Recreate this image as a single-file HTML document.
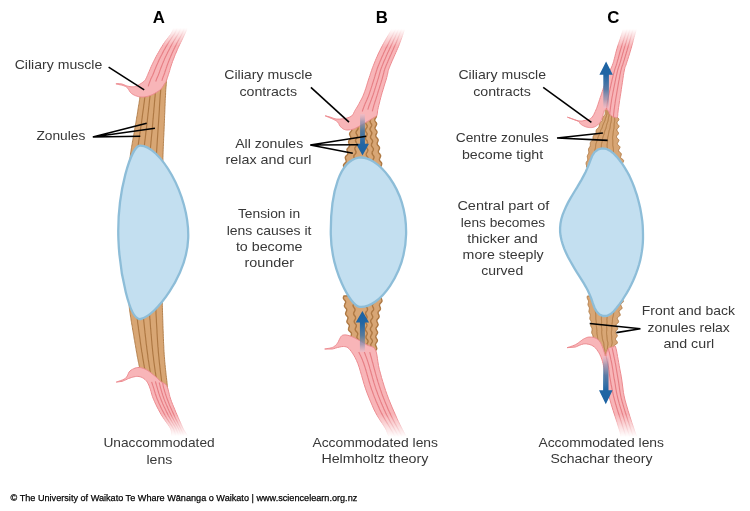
<!DOCTYPE html>
<html><head><meta charset="utf-8">
<style>
html,body{margin:0;padding:0;background:#fff;}
svg{display:block;}
.t{font-family:"Liberation Sans",sans-serif;font-size:12.4px;fill:#383838;}
.h{font-family:"Liberation Sans",sans-serif;font-size:16.8px;font-weight:bold;fill:#000;}
.f{font-family:"Liberation Sans",sans-serif;font-size:9.7px;fill:#000;stroke:#000;stroke-width:0.25px;}
.pl{stroke:#000;stroke-width:1.6;fill:none;}
</style></head><body>
<svg width="750" height="511" viewBox="0 0 750 511">
<defs>
<filter id="soft" x="-10%" y="-10%" width="120%" height="120%"><feGaussianBlur stdDeviation="0.35"/></filter>
<clipPath id="cA1"><path d="M174.0,27.0 L173.8,27.6 173.5,28.5 173.1,29.5 172.7,30.7 172.1,31.9 171.4,33.2 170.5,34.6 169.4,36.0 168.2,37.6 166.9,39.2 165.6,40.9 164.4,42.6 163.2,44.4 162.0,46.4 160.7,48.4 159.5,50.5 158.4,52.5 157.3,54.4 156.3,56.2 155.4,58.0 154.5,59.8 153.6,61.5 152.8,63.2 152.0,64.9 151.2,66.6 150.5,68.2 149.8,69.9 149.1,71.5 148.5,72.9 147.9,74.3 147.4,75.5 146.9,76.6 146.5,77.6 146.0,78.5 145.6,79.4 145.0,80.2 144.3,80.9 143.6,81.6 142.9,82.2 142.1,82.7 141.3,83.3 140.4,83.8 139.5,84.4 138.6,84.9 137.6,85.5 136.6,86.0 135.6,86.4 134.5,86.7 133.4,86.8 132.3,86.8 131.1,86.8 129.9,86.6 128.8,86.4 127.7,86.2 126.7,85.9 125.7,85.5 124.7,85.1 123.7,84.6 122.8,84.3 121.8,84.0 120.7,83.8 119.4,83.7 118.0,83.7 116.9,83.7 116.1,83.7 115.9,83.8 116.3,84.0 117.4,84.2 118.7,84.5 120.2,84.8 121.7,85.1 122.8,85.4 123.6,85.7 124.4,86.0 125.1,86.3 125.7,86.5 126.2,86.9 126.7,87.2 127.1,87.6 127.5,87.9 127.7,88.3 128.0,88.7 128.3,89.1 128.6,89.6 128.9,90.1 129.3,90.7 129.6,91.3 130.0,91.9 130.5,92.5 131.0,93.0 131.6,93.5 132.3,94.0 133.0,94.5 133.8,94.9 134.6,95.3 135.5,95.7 136.4,96.0 137.3,96.3 138.3,96.6 139.3,96.8 140.3,96.9 141.4,97.0 142.5,97.0 143.6,97.0 144.7,96.9 145.9,96.7 147.1,96.5 148.2,96.2 149.3,95.8 150.5,95.4 151.6,94.9 152.8,94.4 153.9,93.8 155.0,93.2 156.1,92.6 157.1,91.9 158.2,91.3 159.2,90.6 160.1,89.8 161.0,89.0 161.8,88.1 162.5,87.1 163.2,86.0 163.8,85.0 164.3,84.0 164.8,83.3 165.1,82.8 165.4,82.6 165.5,82.4 165.7,82.3 165.8,82.0 166.1,81.4 166.4,80.6 166.8,79.6 167.1,78.5 167.5,77.3 168.0,75.9 168.5,74.3 169.1,72.5 169.7,70.5 170.3,68.3 171.0,66.0 171.8,63.7 172.6,61.4 173.5,59.1 174.4,56.8 175.3,54.4 176.4,52.0 177.4,49.6 178.4,47.3 179.5,44.9 180.7,42.5 181.9,40.1 183.0,37.8 184.0,35.7 184.9,33.8 185.6,32.2 186.2,30.8 186.6,29.6 187.0,28.5 187.3,27.7 187.5,27.0 Z"/></clipPath>
<linearGradient id="gA1" gradientUnits="userSpaceOnUse" x1="0" y1="46" x2="0" y2="28"><stop offset="0" stop-color="#fff"/><stop offset="1" stop-color="#fff" stop-opacity="0"/></linearGradient>
<mask id="mA1" maskUnits="userSpaceOnUse" x="0" y="0" width="750" height="511"><rect x="0" y="0" width="750" height="511" fill="url(#gA1)"/></mask>
<clipPath id="cA2"><path d="M116.3,382.1 L117.4,381.7 118.9,381.2 120.7,380.6 122.5,379.9 124.2,379.1 125.6,378.2 126.6,377.1 127.3,375.9 127.9,374.6 128.5,373.2 129.1,372.0 130.0,371.0 131.1,370.1 132.3,369.4 133.7,368.7 135.1,368.1 136.5,367.7 137.8,367.5 139.1,367.5 140.4,367.6 141.8,367.9 143.1,368.3 144.4,368.8 145.7,369.4 147.0,370.1 148.3,370.9 149.6,371.8 150.9,372.8 152.2,373.9 153.5,374.9 154.8,376.0 156.2,377.2 157.5,378.5 158.9,379.7 160.1,380.9 161.3,381.9 162.4,382.6 163.4,383.1 164.3,383.5 165.2,384.0 166.0,384.7 166.8,385.9 167.5,387.6 168.1,389.6 168.7,391.8 169.3,394.3 169.9,396.7 170.7,399.2 171.6,401.7 172.6,404.3 173.7,406.9 174.8,409.6 175.9,412.3 177.0,414.8 178.1,417.3 179.2,419.8 180.3,422.2 181.3,424.6 182.3,426.8 183.3,428.9 184.4,430.9 185.7,432.9 187.0,434.8 188.0,436.5 188.4,437.9 188.0,439.0 186.5,439.7 184.0,440.1 180.9,440.3 177.8,440.1 175.0,439.7 173.0,439.0 172.0,437.9 171.6,436.5 171.5,434.8 171.5,432.9 171.3,430.9 170.7,428.9 169.5,426.8 168.0,424.6 166.3,422.2 164.6,419.8 162.9,417.3 161.3,414.8 159.9,412.3 158.5,409.7 157.1,407.0 155.8,404.4 154.6,401.7 153.5,399.2 152.5,396.7 151.7,394.1 151.0,391.5 150.3,389.1 149.5,386.9 148.8,385.0 148.0,383.5 147.3,382.2 146.6,381.2 145.8,380.3 145.0,379.5 144.1,378.8 143.2,378.1 142.2,377.6 141.1,377.1 140.1,376.8 139.0,376.5 137.8,376.4 136.6,376.4 135.3,376.6 134.0,376.8 132.6,377.2 131.3,377.6 130.0,378.0 128.6,378.5 127.2,379.1 125.8,379.8 124.4,380.4 123.3,380.9 122.5,381.3 Z"/></clipPath>
<linearGradient id="gA2" gradientUnits="userSpaceOnUse" x1="0" y1="414" x2="0" y2="436"><stop offset="0" stop-color="#fff"/><stop offset="1" stop-color="#fff" stop-opacity="0"/></linearGradient>
<mask id="mA2" maskUnits="userSpaceOnUse" x="0" y="0" width="750" height="511"><rect x="0" y="0" width="750" height="511" fill="url(#gA2)"/></mask>
<clipPath id="cB1"><path d="M392.5,28.0 L392.2,28.5 391.9,29.1 391.4,29.8 390.9,30.7 390.3,31.7 389.6,32.9 388.8,34.3 387.8,36.0 386.7,37.8 385.6,39.8 384.5,41.7 383.5,43.5 382.6,45.2 381.7,46.9 380.8,48.6 380.0,50.3 379.1,52.1 378.2,54.0 377.3,56.1 376.3,58.3 375.3,60.7 374.4,63.0 373.5,65.2 372.7,67.3 372.0,69.1 371.5,70.7 370.9,72.3 370.4,73.8 369.9,75.6 369.2,77.6 368.4,80.0 367.5,82.8 366.6,85.8 365.7,88.7 364.7,91.5 363.8,94.0 362.9,96.2 362.0,98.1 361.0,100.0 360.1,101.6 359.3,103.2 358.5,104.6 357.8,105.8 357.2,106.9 356.6,107.8 356.1,108.7 355.5,109.5 355.0,110.4 354.5,111.4 354.0,112.3 353.6,113.3 353.1,114.2 352.5,115.1 351.8,115.8 351.0,116.4 350.0,116.9 349.0,117.4 347.9,117.8 346.7,118.1 345.5,118.4 344.1,118.6 342.6,118.8 341.0,119.0 339.4,119.1 337.9,119.1 336.5,119.0 335.3,118.8 334.2,118.5 333.1,118.2 332.1,117.8 331.1,117.4 330.2,117.1 329.1,116.8 327.9,116.5 326.8,116.1 325.8,115.9 325.2,115.7 325.1,115.8 325.7,116.1 326.8,116.5 328.3,117.1 329.9,117.8 331.4,118.4 332.7,119.0 333.7,119.5 334.7,120.0 335.6,120.5 336.4,121.0 337.1,121.6 337.8,122.2 338.3,122.9 338.8,123.6 339.1,124.4 339.4,125.2 339.9,125.9 340.4,126.6 341.1,127.2 341.8,127.9 342.6,128.5 343.5,129.1 344.5,129.5 345.5,129.8 346.6,130.0 347.8,130.0 349.1,129.9 350.5,129.8 351.8,129.5 353.1,129.2 354.4,128.8 355.6,128.2 356.9,127.5 358.2,126.8 359.4,126.1 360.7,125.4 362.0,124.7 363.3,123.9 364.6,123.2 365.9,122.4 367.2,121.6 368.4,120.9 369.6,120.2 370.8,119.5 371.9,118.8 372.9,118.2 373.9,117.6 374.7,117.1 375.3,116.7 375.8,116.5 376.2,116.3 376.5,116.1 376.7,115.7 377.0,115.2 377.2,114.5 377.3,113.8 377.4,113.0 377.5,112.0 377.6,110.8 377.9,109.3 378.3,107.5 378.8,105.3 379.4,103.0 380.0,100.5 380.7,97.8 381.4,95.2 382.2,92.4 383.2,89.3 384.1,86.1 385.1,82.9 386.0,80.1 386.7,77.6 387.2,75.7 387.5,74.2 387.8,73.0 388.0,71.8 388.3,70.5 388.8,69.0 389.5,67.2 390.3,65.2 391.2,63.1 392.1,60.9 393.1,58.8 394.0,56.7 394.9,54.7 395.8,52.6 396.7,50.6 397.6,48.5 398.5,46.5 399.3,44.4 400.1,42.2 400.9,40.0 401.8,37.7 402.5,35.5 403.2,33.6 403.7,32.0 404.1,30.8 404.4,29.9 404.6,29.2 404.8,28.7 404.9,28.3 405.0,28.0 Z"/></clipPath>
<linearGradient id="gB1" gradientUnits="userSpaceOnUse" x1="0" y1="47" x2="0" y2="29"><stop offset="0" stop-color="#fff"/><stop offset="1" stop-color="#fff" stop-opacity="0"/></linearGradient>
<mask id="mB1" maskUnits="userSpaceOnUse" x="0" y="0" width="750" height="511"><rect x="0" y="0" width="750" height="511" fill="url(#gB1)"/></mask>
<clipPath id="cB2"><path d="M324.7,349.0 L325.6,348.9 326.8,348.7 328.3,348.4 329.8,348.2 331.3,347.8 332.5,347.4 333.5,346.9 334.3,346.4 335.1,345.8 335.8,345.1 336.5,344.4 337.2,343.5 337.9,342.4 338.6,341.2 339.2,339.8 339.8,338.5 340.5,337.3 341.1,336.4 341.7,335.8 342.3,335.4 342.9,335.1 343.5,335.0 344.2,334.9 345.0,334.9 345.9,334.9 346.9,335.1 347.9,335.3 349.0,335.6 350.1,336.0 351.3,336.4 352.5,336.9 353.8,337.5 355.1,338.1 356.4,338.9 357.8,339.6 359.1,340.3 360.4,341.0 361.7,341.8 363.0,342.6 364.3,343.4 365.7,344.2 367.0,345.0 368.4,345.6 369.9,346.0 371.4,346.5 372.9,347.1 374.3,348.1 375.4,349.8 376.3,352.1 376.9,355.0 377.4,358.3 377.9,361.8 378.5,365.5 379.3,369.3 380.4,373.2 381.5,377.4 382.8,381.7 384.2,386.2 385.6,390.5 387.1,394.7 388.6,398.8 390.3,403.0 392.0,407.1 393.7,411.0 395.4,414.8 396.9,418.2 398.4,421.4 399.8,424.3 401.2,427.1 402.5,429.6 403.7,431.8 404.7,433.8 405.7,435.4 406.8,436.8 407.8,437.9 408.5,438.7 408.6,439.4 408.0,440.0 406.3,440.5 403.8,440.9 400.6,441.1 397.4,441.1 394.4,440.8 392.0,440.0 390.4,438.7 389.2,437.0 388.2,435.0 387.3,432.7 386.4,430.4 385.2,428.0 383.7,425.7 382.2,423.3 380.5,420.9 378.8,418.2 377.1,415.4 375.4,412.3 373.7,408.9 372.1,405.1 370.4,401.2 368.7,397.1 367.1,393.0 365.6,388.9 364.2,384.6 362.9,380.1 361.6,375.6 360.3,371.2 359.1,367.1 357.8,363.5 356.5,360.4 355.2,357.7 353.8,355.3 352.5,353.2 351.2,351.3 350.0,349.8 348.9,348.6 347.9,347.7 346.9,347.1 346.0,346.8 344.8,346.6 343.5,346.5 341.8,346.6 339.8,347.0 337.6,347.5 335.5,348.1 333.7,348.7 332.5,349.0 Z"/></clipPath>
<linearGradient id="gB2" gradientUnits="userSpaceOnUse" x1="0" y1="414" x2="0" y2="437"><stop offset="0" stop-color="#fff"/><stop offset="1" stop-color="#fff" stop-opacity="0"/></linearGradient>
<mask id="mB2" maskUnits="userSpaceOnUse" x="0" y="0" width="750" height="511"><rect x="0" y="0" width="750" height="511" fill="url(#gB2)"/></mask>
<linearGradient id="arB1" gradientUnits="userSpaceOnUse" x1="0" y1="155.5" x2="0" y2="114"><stop offset="0" stop-color="#1B62A3"/><stop offset="0.3" stop-color="#2266A4"/><stop offset="0.6" stop-color="#3F72A3" stop-opacity="0.85"/><stop offset="0.82" stop-color="#7A8AAE" stop-opacity="0.6"/><stop offset="1" stop-color="#E6C3D3" stop-opacity="0.4"/></linearGradient>
<linearGradient id="arB2" gradientUnits="userSpaceOnUse" x1="0" y1="310.9" x2="0" y2="352"><stop offset="0" stop-color="#1B62A3"/><stop offset="0.3" stop-color="#2266A4"/><stop offset="0.6" stop-color="#3F72A3" stop-opacity="0.85"/><stop offset="0.82" stop-color="#7A8AAE" stop-opacity="0.6"/><stop offset="1" stop-color="#E6C3D3" stop-opacity="0.4"/></linearGradient>
<clipPath id="cC1"><path d="M624.0,27.0 L623.8,27.7 623.5,28.7 623.1,29.8 622.7,31.2 622.2,32.7 621.7,34.4 621.0,36.3 620.3,38.6 619.5,41.0 618.6,43.5 617.8,46.0 617.0,48.5 616.3,51.0 615.6,53.6 615.0,56.2 614.3,58.8 613.7,61.3 612.9,63.7 612.1,65.9 611.2,68.0 610.2,70.0 609.3,71.9 608.4,73.9 607.5,76.0 606.7,78.2 605.9,80.5 605.1,82.8 604.4,85.2 603.6,87.4 602.9,89.6 602.2,91.7 601.5,93.8 600.9,95.8 600.2,97.7 599.6,99.5 599.0,101.3 598.5,102.9 598.0,104.4 597.5,105.9 597.0,107.3 596.5,108.6 595.9,110.0 595.3,111.4 594.6,112.9 593.9,114.4 593.1,115.8 592.3,117.0 591.4,118.0 590.4,118.7 589.4,119.3 588.3,119.7 587.2,120.0 586.1,120.2 585.0,120.4 584.0,120.6 583.0,120.8 582.1,121.0 581.1,121.0 579.9,121.0 578.6,120.8 576.8,120.4 574.6,119.7 572.3,118.9 570.1,118.1 568.4,117.5 567.4,117.2 567.4,117.2 568.0,117.4 569.2,117.8 570.5,118.3 571.9,118.8 573.0,119.2 574.0,119.6 575.0,120.0 576.0,120.3 577.0,120.8 577.9,121.2 578.6,121.6 579.2,122.0 579.5,122.5 579.9,123.0 580.1,123.5 580.5,124.0 581.0,124.4 581.7,124.8 582.4,125.3 583.2,125.7 584.1,126.1 584.9,126.5 585.8,126.8 586.7,127.1 587.6,127.3 588.6,127.5 589.6,127.6 590.5,127.6 591.4,127.6 592.3,127.5 593.1,127.3 593.9,127.1 594.7,126.8 595.5,126.4 596.2,126.0 596.9,125.5 597.7,124.9 598.4,124.2 599.0,123.5 599.6,122.8 600.2,122.0 600.7,121.2 601.1,120.3 601.6,119.3 601.9,118.3 602.3,117.4 602.6,116.4 602.9,115.4 603.2,114.4 603.4,113.4 603.7,112.4 603.9,111.5 604.2,110.8 604.5,110.3 604.8,109.9 605.2,109.6 605.5,109.3 605.9,109.2 606.2,109.2 606.5,109.3 606.9,109.4 607.2,109.7 607.6,110.0 607.9,110.4 608.2,110.8 608.5,111.2 608.7,111.8 609.0,112.3 609.2,112.9 609.5,113.5 609.8,114.0 610.2,114.5 610.5,114.9 610.9,115.4 611.4,115.7 611.8,116.1 612.2,116.4 612.6,116.6 613.0,116.8 613.4,117.0 613.8,117.1 614.2,117.1 614.6,117.2 615.1,117.3 615.6,117.5 616.1,117.7 616.6,117.8 617.0,117.6 617.4,117.2 617.6,116.6 617.7,115.8 617.8,114.9 617.8,113.6 618.0,112.0 618.2,110.0 618.6,107.4 619.1,104.1 619.6,100.6 620.2,96.8 620.8,93.1 621.3,89.6 621.8,86.1 622.4,82.5 622.9,78.9 623.4,75.5 623.9,72.5 624.4,70.0 624.8,68.3 625.0,67.2 625.3,66.6 625.6,66.0 625.9,65.1 626.4,63.7 627.0,61.7 627.8,59.3 628.6,56.7 629.5,53.9 630.3,51.1 631.1,48.5 631.8,45.9 632.6,43.1 633.3,40.3 634.0,37.6 634.7,35.2 635.2,33.2 635.7,31.6 636.0,30.2 636.4,29.1 636.6,28.3 636.8,27.6 637.0,27.0 Z"/></clipPath>
<linearGradient id="gC1" gradientUnits="userSpaceOnUse" x1="0" y1="47" x2="0" y2="29"><stop offset="0" stop-color="#fff"/><stop offset="1" stop-color="#fff" stop-opacity="0"/></linearGradient>
<mask id="mC1" maskUnits="userSpaceOnUse" x="0" y="0" width="750" height="511"><rect x="0" y="0" width="750" height="511" fill="url(#gC1)"/></mask>
<clipPath id="cC2"><path d="M567.0,347.7 L567.9,347.4 569.3,347.0 570.8,346.5 572.5,345.9 574.1,345.3 575.6,344.6 577.0,343.8 578.4,342.8 579.7,341.8 581.1,340.8 582.3,339.8 583.5,339.1 584.5,338.5 585.5,338.1 586.3,337.7 587.1,337.4 588.0,337.2 589.0,337.1 590.1,337.1 591.3,337.1 592.6,337.3 593.8,337.5 594.9,337.9 596.0,338.3 596.9,338.8 597.8,339.4 598.5,340.1 599.3,340.9 600.0,341.9 600.7,343.0 601.4,344.5 602.2,346.3 602.9,348.2 603.6,350.2 604.1,351.9 604.6,353.2 604.9,354.2 605.0,354.9 605.0,355.5 605.1,355.8 605.2,355.8 605.4,355.6 605.8,354.9 606.2,353.7 606.7,352.3 607.3,350.8 607.9,349.5 608.5,348.5 609.2,347.9 610.0,347.5 610.9,347.3 611.7,347.2 612.5,347.1 613.2,347.0 613.7,346.7 614.1,346.3 614.5,345.9 614.8,345.8 615.2,346.1 615.6,347.0 616.1,348.7 616.6,351.0 617.1,353.7 617.6,356.7 618.2,359.7 618.7,362.6 619.2,365.4 619.7,368.2 620.2,371.0 620.8,373.9 621.3,376.9 621.8,380.0 622.2,383.0 622.6,386.0 623.0,389.1 623.4,392.3 624.1,395.9 625.0,400.0 626.4,404.9 628.1,410.7 630.0,416.8 631.9,422.7 633.7,427.9 635.0,432.0 636.1,434.8 637.2,436.7 638.1,438.0 638.7,438.8 638.7,439.4 638.0,440.0 636.3,440.6 633.6,440.9 630.3,441.0 627.0,440.9 624.1,440.6 622.0,440.0 620.9,439.4 620.6,438.8 620.6,438.0 620.7,436.7 620.6,434.8 620.0,432.0 618.7,427.9 617.1,422.7 615.2,416.8 613.2,410.7 611.4,404.9 610.0,400.0 608.9,395.9 608.0,392.2 607.2,388.8 606.5,385.7 605.9,382.8 605.4,380.0 605.0,377.4 604.7,375.2 604.5,373.1 604.3,371.1 604.1,369.2 603.8,367.3 603.4,365.3 603.0,363.4 602.5,361.6 602.0,359.8 601.4,358.0 600.7,356.3 599.9,354.6 599.0,352.8 597.9,351.2 596.8,349.6 595.7,348.2 594.4,347.0 593.0,346.0 591.5,345.2 589.9,344.6 588.2,344.2 586.6,343.9 585.0,343.8 583.3,344.0 581.5,344.5 579.7,345.2 578.0,345.9 576.6,346.6 575.6,347.0 Z"/></clipPath>
<linearGradient id="gC2" gradientUnits="userSpaceOnUse" x1="0" y1="414" x2="0" y2="437"><stop offset="0" stop-color="#fff"/><stop offset="1" stop-color="#fff" stop-opacity="0"/></linearGradient>
<mask id="mC2" maskUnits="userSpaceOnUse" x="0" y="0" width="750" height="511"><rect x="0" y="0" width="750" height="511" fill="url(#gC2)"/></mask>
<linearGradient id="arC1" gradientUnits="userSpaceOnUse" x1="0" y1="61.5" x2="0" y2="108"><stop offset="0" stop-color="#1B62A3"/><stop offset="0.3" stop-color="#2266A4"/><stop offset="0.6" stop-color="#3F72A3" stop-opacity="0.85"/><stop offset="0.82" stop-color="#7A8AAE" stop-opacity="0.6"/><stop offset="1" stop-color="#E6C3D3" stop-opacity="0.4"/></linearGradient>
<linearGradient id="arC2" gradientUnits="userSpaceOnUse" x1="0" y1="404.2" x2="0" y2="356"><stop offset="0" stop-color="#1B62A3"/><stop offset="0.3" stop-color="#2266A4"/><stop offset="0.6" stop-color="#3F72A3" stop-opacity="0.85"/><stop offset="0.82" stop-color="#7A8AAE" stop-opacity="0.6"/><stop offset="1" stop-color="#E6C3D3" stop-opacity="0.4"/></linearGradient>

</defs>
<path d="M141.0,86.0 L140.9,87.3 140.8,88.7 140.7,90.0 140.5,91.4 140.4,92.7 140.3,94.1 140.1,95.4 139.9,96.8 139.8,98.1 139.6,99.5 139.4,100.8 139.2,102.1 139.0,103.5 138.8,104.8 138.5,106.2 138.3,107.5 138.1,108.8 137.9,110.2 137.7,111.5 137.5,112.8 137.3,114.2 137.1,115.5 136.8,116.8 136.6,118.2 136.4,119.5 136.2,120.9 136.0,122.2 135.7,123.5 135.5,124.9 135.3,126.2 135.0,127.5 134.8,128.9 134.6,130.2 134.3,131.5 134.1,132.9 133.9,134.2 133.6,135.5 133.4,136.9 133.1,138.2 132.9,139.5 132.7,140.9 132.4,142.2 132.2,143.5 132.0,144.9 131.7,146.2 131.5,147.5 131.3,148.9 131.1,150.2 130.9,151.5 130.7,152.9 130.5,154.2 130.3,155.6 130.2,156.9 130.0,158.3 129.9,159.6 129.8,161.0 129.7,162.3 129.6,163.7 129.5,165.0 162.8,165.0 162.8,163.5 162.8,161.9 162.9,160.4 162.9,158.8 162.9,157.3 163.0,155.7 163.0,154.2 163.1,152.6 163.1,151.1 163.2,149.6 163.2,148.0 163.3,146.5 163.4,144.9 163.4,143.4 163.5,141.8 163.6,140.3 163.6,138.8 163.7,137.2 163.8,135.7 163.9,134.1 163.9,132.6 164.0,131.1 164.1,129.5 164.1,128.0 164.2,126.4 164.3,124.9 164.3,123.3 164.4,121.8 164.5,120.3 164.5,118.7 164.6,117.2 164.6,115.6 164.7,114.1 164.8,112.5 164.8,111.0 164.9,109.4 164.9,107.9 165.0,106.4 165.1,104.8 165.1,103.3 165.2,101.7 165.2,100.2 165.3,98.6 165.4,97.1 165.5,95.6 165.6,94.0 165.6,92.5 165.7,90.9 165.8,89.4 165.9,87.9 166.1,86.3 166.2,84.8 166.3,83.2 166.4,81.7 166.5,80.2 166.6,78.6 166.8,77.1 166.9,75.5 167.0,74.0 Z" fill="#D8A674"/>
<path d="M146.2,83.6 L146.1,85.0 146.0,86.4 145.9,87.8 145.7,89.1 145.6,90.5 145.5,91.9 145.3,93.3 145.2,94.7 145.0,96.1 144.8,97.4 144.6,98.8 144.5,100.2 144.3,101.6 144.1,103.0 143.9,104.3 143.7,105.7 143.6,107.1 143.4,108.5 143.2,109.9 143.0,111.2 142.8,112.6 142.6,114.0 142.4,115.4 142.3,116.7 142.1,118.1 141.9,119.5 141.7,120.9 141.5,122.3 141.3,123.6 141.1,125.0 140.9,126.4 140.7,127.8 140.5,129.1 140.3,130.5 140.1,131.9 139.9,133.3 139.7,134.6 139.5,136.0 139.3,137.4 139.1,138.8 138.9,140.1 138.7,141.5 138.5,142.9 138.3,144.3 138.1,145.6 137.9,147.0 137.7,148.4 137.5,149.8 137.3,151.1 137.2,152.5 137.0,153.9 136.9,155.3 136.7,156.7 136.6,158.1 136.5,159.4 136.4,160.8 136.3,162.2 136.3,163.6 136.2,165.0" fill="none" stroke="#AE7843" stroke-width="1.15"/>
<path d="M151.4,81.2 L151.3,82.6 151.2,84.1 151.1,85.5 150.9,86.9 150.8,88.3 150.7,89.7 150.5,91.2 150.4,92.6 150.2,94.0 150.1,95.4 149.9,96.9 149.8,98.3 149.6,99.7 149.4,101.1 149.3,102.5 149.1,104.0 149.0,105.4 148.8,106.8 148.7,108.2 148.5,109.6 148.4,111.0 148.2,112.5 148.0,113.9 147.9,115.3 147.7,116.7 147.6,118.1 147.4,119.6 147.3,121.0 147.1,122.4 147.0,123.8 146.8,125.2 146.6,126.7 146.5,128.1 146.3,129.5 146.1,130.9 145.9,132.3 145.8,133.7 145.6,135.2 145.4,136.6 145.3,138.0 145.1,139.4 144.9,140.8 144.7,142.2 144.6,143.7 144.4,145.1 144.2,146.5 144.1,147.9 143.9,149.3 143.8,150.7 143.6,152.2 143.5,153.6 143.4,155.0 143.3,156.4 143.2,157.9 143.1,159.3 143.0,160.7 143.0,162.1 142.9,163.6 142.8,165.0" fill="none" stroke="#AE7843" stroke-width="1.15"/>
<path d="M156.6,78.8 L156.5,80.3 156.4,81.7 156.2,83.2 156.1,84.7 156.0,86.1 155.9,87.6 155.7,89.0 155.6,90.5 155.5,92.0 155.3,93.4 155.2,94.9 155.1,96.3 154.9,97.8 154.8,99.3 154.7,100.7 154.5,102.2 154.4,103.6 154.3,105.1 154.2,106.6 154.0,108.0 153.9,109.5 153.8,110.9 153.7,112.4 153.5,113.9 153.4,115.3 153.3,116.8 153.2,118.2 153.0,119.7 152.9,121.2 152.8,122.6 152.7,124.1 152.5,125.5 152.4,127.0 152.3,128.5 152.1,129.9 152.0,131.4 151.9,132.8 151.7,134.3 151.6,135.8 151.4,137.2 151.3,138.7 151.2,140.1 151.0,141.6 150.9,143.1 150.8,144.5 150.6,146.0 150.5,147.4 150.4,148.9 150.2,150.4 150.1,151.8 150.0,153.3 149.9,154.7 149.9,156.2 149.8,157.7 149.7,159.1 149.6,160.6 149.6,162.1 149.5,163.5 149.5,165.0" fill="none" stroke="#AE7843" stroke-width="1.15"/>
<path d="M161.8,76.4 L161.7,77.9 161.6,79.4 161.4,80.9 161.3,82.4 161.2,83.9 161.1,85.4 161.0,86.9 160.8,88.4 160.7,89.9 160.6,91.4 160.5,92.9 160.3,94.4 160.2,95.9 160.1,97.4 160.0,98.9 159.9,100.4 159.8,101.9 159.7,103.4 159.6,104.9 159.5,106.4 159.4,107.9 159.4,109.4 159.3,110.9 159.2,112.4 159.1,113.9 159.0,115.4 158.9,116.9 158.8,118.4 158.7,119.9 158.6,121.4 158.5,122.9 158.4,124.4 158.3,125.9 158.2,127.4 158.1,128.9 158.0,130.4 157.9,131.9 157.8,133.4 157.7,134.9 157.6,136.4 157.5,137.9 157.4,139.4 157.3,140.9 157.2,142.5 157.1,144.0 157.0,145.5 156.9,147.0 156.8,148.5 156.7,150.0 156.6,151.5 156.5,153.0 156.5,154.5 156.4,156.0 156.3,157.5 156.3,159.0 156.3,160.5 156.2,162.0 156.2,163.5 156.1,165.0" fill="none" stroke="#AE7843" stroke-width="1.15"/>
<path d="M141.0,86.0 L140.9,87.3 140.8,88.7 140.7,90.0 140.5,91.4 140.4,92.7 140.3,94.1 140.1,95.4 139.9,96.8 139.8,98.1 139.6,99.5 139.4,100.8 139.2,102.1 139.0,103.5 138.8,104.8 138.5,106.2 138.3,107.5 138.1,108.8 137.9,110.2 137.7,111.5 137.5,112.8 137.3,114.2 137.1,115.5 136.8,116.8 136.6,118.2 136.4,119.5 136.2,120.9 136.0,122.2 135.7,123.5 135.5,124.9 135.3,126.2 135.0,127.5 134.8,128.9 134.6,130.2 134.3,131.5 134.1,132.9 133.9,134.2 133.6,135.5 133.4,136.9 133.1,138.2 132.9,139.5 132.7,140.9 132.4,142.2 132.2,143.5 132.0,144.9 131.7,146.2 131.5,147.5 131.3,148.9 131.1,150.2 130.9,151.5 130.7,152.9 130.5,154.2 130.3,155.6 130.2,156.9 130.0,158.3 129.9,159.6 129.8,161.0 129.7,162.3 129.6,163.7 129.5,165.0" fill="none" stroke="#AE7843" stroke-width="0.9"/>
<path d="M167.0,74.0 L166.9,75.5 166.8,77.1 166.6,78.6 166.5,80.2 166.4,81.7 166.3,83.2 166.2,84.8 166.1,86.3 165.9,87.9 165.8,89.4 165.7,90.9 165.6,92.5 165.6,94.0 165.5,95.6 165.4,97.1 165.3,98.6 165.2,100.2 165.2,101.7 165.1,103.3 165.1,104.8 165.0,106.4 164.9,107.9 164.9,109.4 164.8,111.0 164.8,112.5 164.7,114.1 164.6,115.6 164.6,117.2 164.5,118.7 164.5,120.3 164.4,121.8 164.3,123.3 164.3,124.9 164.2,126.4 164.1,128.0 164.1,129.5 164.0,131.1 163.9,132.6 163.9,134.1 163.8,135.7 163.7,137.2 163.6,138.8 163.6,140.3 163.5,141.8 163.4,143.4 163.4,144.9 163.3,146.5 163.2,148.0 163.2,149.6 163.1,151.1 163.1,152.6 163.0,154.2 163.0,155.7 162.9,157.3 162.9,158.8 162.9,160.4 162.8,161.9 162.8,163.5 162.8,165.0" fill="none" stroke="#AE7843" stroke-width="0.9"/>
<path d="M129.5,298.0 L129.4,299.3 129.3,300.6 129.2,301.9 129.1,303.2 129.1,304.5 129.2,305.8 129.3,307.1 129.4,308.4 129.6,309.7 129.8,311.0 129.9,312.3 130.1,313.6 130.3,314.9 130.5,316.1 130.7,317.4 130.9,318.7 131.1,320.0 131.3,321.3 131.5,322.6 131.7,323.9 132.0,325.2 132.2,326.4 132.4,327.7 132.6,329.0 132.8,330.3 133.0,331.6 133.3,332.9 133.5,334.2 133.7,335.4 133.9,336.7 134.1,338.0 134.3,339.3 134.6,340.6 134.8,341.9 135.0,343.1 135.2,344.4 135.5,345.7 135.7,347.0 135.9,348.3 136.1,349.6 136.3,350.9 136.6,352.1 136.8,353.4 137.0,354.7 137.2,356.0 137.5,357.3 137.7,358.6 138.0,359.8 138.2,361.1 138.5,362.4 138.8,363.7 139.0,364.9 139.3,366.2 139.5,367.5 139.6,368.8 139.8,370.1 139.9,371.4 139.9,372.7 140.0,374.0 167.8,392.0 167.7,390.4 167.6,388.7 167.4,387.1 167.3,385.5 167.1,383.9 167.0,382.3 166.8,380.6 166.6,379.0 166.4,377.4 166.2,375.8 166.0,374.1 165.9,372.5 165.7,370.9 165.5,369.3 165.3,367.7 165.2,366.0 165.0,364.4 164.9,362.8 164.7,361.2 164.6,359.5 164.5,357.9 164.3,356.3 164.2,354.7 164.1,353.0 164.0,351.4 163.9,349.8 163.8,348.2 163.8,346.5 163.7,344.9 163.6,343.3 163.5,341.6 163.5,340.0 163.4,338.4 163.3,336.7 163.3,335.1 163.2,333.5 163.2,331.9 163.1,330.2 163.0,328.6 163.0,327.0 162.9,325.3 162.9,323.7 162.8,322.1 162.8,320.4 162.7,318.8 162.7,317.2 162.6,315.6 162.6,313.9 162.5,312.3 162.5,310.7 162.4,309.0 162.4,307.4 162.3,305.8 162.3,304.1 162.2,302.5 162.2,300.9 162.2,299.3 162.2,297.6 162.3,296.0 Z" fill="#D8A674"/>
<path d="M136.1,297.6 L136.0,299.0 135.8,300.3 135.8,301.7 135.7,303.1 135.8,304.4 135.8,305.8 135.9,307.2 136.0,308.5 136.2,309.9 136.3,311.2 136.5,312.6 136.6,314.0 136.8,315.3 137.0,316.7 137.1,318.0 137.3,319.4 137.5,320.7 137.6,322.1 137.8,323.5 138.0,324.8 138.2,326.2 138.4,327.5 138.5,328.9 138.7,330.2 138.9,331.6 139.1,332.9 139.3,334.3 139.5,335.7 139.7,337.0 139.9,338.4 140.1,339.7 140.2,341.1 140.4,342.4 140.6,343.8 140.8,345.1 141.0,346.5 141.2,347.8 141.4,349.2 141.6,350.5 141.8,351.9 142.1,353.2 142.3,354.6 142.5,355.9 142.7,357.3 142.9,358.6 143.1,360.0 143.4,361.3 143.6,362.7 143.8,364.0 144.1,365.4 144.3,366.7 144.6,368.1 144.8,369.4 145.0,370.8 145.2,372.1 145.3,373.5 145.4,374.9 145.5,376.2 145.6,377.6" fill="none" stroke="#AE7843" stroke-width="1.15"/>
<path d="M142.6,297.2 L142.5,298.6 142.4,300.1 142.4,301.5 142.4,302.9 142.4,304.4 142.5,305.8 142.5,307.2 142.6,308.7 142.7,310.1 142.9,311.5 143.0,312.9 143.1,314.4 143.3,315.8 143.4,317.2 143.5,318.6 143.7,320.1 143.8,321.5 144.0,322.9 144.1,324.3 144.3,325.8 144.4,327.2 144.6,328.6 144.7,330.0 144.9,331.5 145.0,332.9 145.2,334.3 145.3,335.7 145.5,337.1 145.7,338.6 145.8,340.0 146.0,341.4 146.1,342.8 146.3,344.3 146.5,345.7 146.7,347.1 146.8,348.5 147.0,349.9 147.2,351.4 147.4,352.8 147.6,354.2 147.8,355.6 147.9,357.1 148.1,358.5 148.3,359.9 148.6,361.3 148.8,362.7 149.0,364.1 149.2,365.6 149.4,367.0 149.7,368.4 149.9,369.8 150.1,371.2 150.3,372.6 150.5,374.1 150.7,375.5 150.8,376.9 151.0,378.3 151.0,379.8 151.1,381.2" fill="none" stroke="#AE7843" stroke-width="1.15"/>
<path d="M149.2,296.8 L149.1,298.3 149.0,299.8 149.0,301.3 149.0,302.8 149.0,304.3 149.1,305.8 149.1,307.3 149.2,308.8 149.3,310.3 149.4,311.8 149.5,313.3 149.6,314.8 149.7,316.3 149.8,317.7 149.9,319.2 150.1,320.7 150.2,322.2 150.3,323.7 150.4,325.2 150.5,326.7 150.6,328.2 150.8,329.7 150.9,331.2 151.0,332.7 151.1,334.2 151.3,335.7 151.4,337.2 151.5,338.6 151.6,340.1 151.8,341.6 151.9,343.1 152.0,344.6 152.2,346.1 152.3,347.6 152.5,349.1 152.6,350.6 152.8,352.1 152.9,353.6 153.1,355.0 153.3,356.5 153.5,358.0 153.6,359.5 153.8,361.0 154.0,362.5 154.2,364.0 154.4,365.5 154.6,366.9 154.8,368.4 155.0,369.9 155.2,371.4 155.5,372.9 155.7,374.4 155.9,375.8 156.1,377.3 156.2,378.8 156.4,380.3 156.5,381.8 156.6,383.3 156.7,384.8" fill="none" stroke="#AE7843" stroke-width="1.15"/>
<path d="M155.7,296.4 L155.6,298.0 155.6,299.5 155.6,301.1 155.6,302.7 155.6,304.2 155.7,305.8 155.8,307.3 155.8,308.9 155.9,310.5 156.0,312.0 156.0,313.6 156.1,315.2 156.2,316.7 156.3,318.3 156.4,319.8 156.4,321.4 156.5,323.0 156.6,324.5 156.7,326.1 156.8,327.7 156.9,329.2 157.0,330.8 157.0,332.3 157.1,333.9 157.2,335.5 157.3,337.0 157.4,338.6 157.5,340.1 157.6,341.7 157.7,343.3 157.8,344.8 157.9,346.4 158.1,347.9 158.2,349.5 158.3,351.1 158.4,352.6 158.6,354.2 158.7,355.7 158.9,357.3 159.0,358.8 159.2,360.4 159.3,362.0 159.5,363.5 159.7,365.1 159.9,366.6 160.0,368.2 160.2,369.7 160.4,371.3 160.6,372.8 160.8,374.4 161.0,375.9 161.2,377.5 161.4,379.0 161.6,380.6 161.8,382.2 161.9,383.7 162.0,385.3 162.1,386.8 162.2,388.4" fill="none" stroke="#AE7843" stroke-width="1.15"/>
<path d="M129.5,298.0 L129.4,299.3 129.3,300.6 129.2,301.9 129.1,303.2 129.1,304.5 129.2,305.8 129.3,307.1 129.4,308.4 129.6,309.7 129.8,311.0 129.9,312.3 130.1,313.6 130.3,314.9 130.5,316.1 130.7,317.4 130.9,318.7 131.1,320.0 131.3,321.3 131.5,322.6 131.7,323.9 132.0,325.2 132.2,326.4 132.4,327.7 132.6,329.0 132.8,330.3 133.0,331.6 133.3,332.9 133.5,334.2 133.7,335.4 133.9,336.7 134.1,338.0 134.3,339.3 134.6,340.6 134.8,341.9 135.0,343.1 135.2,344.4 135.5,345.7 135.7,347.0 135.9,348.3 136.1,349.6 136.3,350.9 136.6,352.1 136.8,353.4 137.0,354.7 137.2,356.0 137.5,357.3 137.7,358.6 138.0,359.8 138.2,361.1 138.5,362.4 138.8,363.7 139.0,364.9 139.3,366.2 139.5,367.5 139.6,368.8 139.8,370.1 139.9,371.4 139.9,372.7 140.0,374.0" fill="none" stroke="#AE7843" stroke-width="0.9"/>
<path d="M162.3,296.0 L162.2,297.6 162.2,299.3 162.2,300.9 162.2,302.5 162.3,304.1 162.3,305.8 162.4,307.4 162.4,309.0 162.5,310.7 162.5,312.3 162.6,313.9 162.6,315.6 162.7,317.2 162.7,318.8 162.8,320.4 162.8,322.1 162.9,323.7 162.9,325.3 163.0,327.0 163.0,328.6 163.1,330.2 163.2,331.9 163.2,333.5 163.3,335.1 163.3,336.7 163.4,338.4 163.5,340.0 163.5,341.6 163.6,343.3 163.7,344.9 163.8,346.5 163.8,348.2 163.9,349.8 164.0,351.4 164.1,353.0 164.2,354.7 164.3,356.3 164.5,357.9 164.6,359.5 164.7,361.2 164.9,362.8 165.0,364.4 165.2,366.0 165.3,367.7 165.5,369.3 165.7,370.9 165.9,372.5 166.0,374.1 166.2,375.8 166.4,377.4 166.6,379.0 166.8,380.6 167.0,382.3 167.1,383.9 167.3,385.5 167.4,387.1 167.6,388.7 167.7,390.4 167.8,392.0" fill="none" stroke="#AE7843" stroke-width="0.9"/>
<path d="M139.9,145.6 C158.9,144.7 189.7,194.2 188.2,238.2 C186.9,275.8 155.3,316.3 140.7,319.0 C129.5,321.1 119.7,272.9 118.4,239.3 C116.7,191.4 131.3,146.0 139.9,145.6 Z" fill="#C3DFF0" stroke="#8DBDD8" stroke-width="2.3"/>
<g mask="url(#mA1)">
<path d="M174.0,27.0 L173.8,27.6 173.5,28.5 173.1,29.5 172.7,30.7 172.1,31.9 171.4,33.2 170.5,34.6 169.4,36.0 168.2,37.6 166.9,39.2 165.6,40.9 164.4,42.6 163.2,44.4 162.0,46.4 160.7,48.4 159.5,50.5 158.4,52.5 157.3,54.4 156.3,56.2 155.4,58.0 154.5,59.8 153.6,61.5 152.8,63.2 152.0,64.9 151.2,66.6 150.5,68.2 149.8,69.9 149.1,71.5 148.5,72.9 147.9,74.3 147.4,75.5 146.9,76.6 146.5,77.6 146.0,78.5 145.6,79.4 145.0,80.2 144.3,80.9 143.6,81.6 142.9,82.2 142.1,82.7 141.3,83.3 140.4,83.8 139.5,84.4 138.6,84.9 137.6,85.5 136.6,86.0 135.6,86.4 134.5,86.7 133.4,86.8 132.3,86.8 131.1,86.8 129.9,86.6 128.8,86.4 127.7,86.2 126.7,85.9 125.7,85.5 124.7,85.1 123.7,84.6 122.8,84.3 121.8,84.0 120.7,83.8 119.4,83.7 118.0,83.7 116.9,83.7 116.1,83.7 115.9,83.8 116.3,84.0 117.4,84.2 118.7,84.5 120.2,84.8 121.7,85.1 122.8,85.4 123.6,85.7 124.4,86.0 125.1,86.3 125.7,86.5 126.2,86.9 126.7,87.2 127.1,87.6 127.5,87.9 127.7,88.3 128.0,88.7 128.3,89.1 128.6,89.6 128.9,90.1 129.3,90.7 129.6,91.3 130.0,91.9 130.5,92.5 131.0,93.0 131.6,93.5 132.3,94.0 133.0,94.5 133.8,94.9 134.6,95.3 135.5,95.7 136.4,96.0 137.3,96.3 138.3,96.6 139.3,96.8 140.3,96.9 141.4,97.0 142.5,97.0 143.6,97.0 144.7,96.9 145.9,96.7 147.1,96.5 148.2,96.2 149.3,95.8 150.5,95.4 151.6,94.9 152.8,94.4 153.9,93.8 155.0,93.2 156.1,92.6 157.1,91.9 158.2,91.3 159.2,90.6 160.1,89.8 161.0,89.0 161.8,88.1 162.5,87.1 163.2,86.0 163.8,85.0 164.3,84.0 164.8,83.3 165.1,82.8 165.4,82.6 165.5,82.4 165.7,82.3 165.8,82.0 166.1,81.4 166.4,80.6 166.8,79.6 167.1,78.5 167.5,77.3 168.0,75.9 168.5,74.3 169.1,72.5 169.7,70.5 170.3,68.3 171.0,66.0 171.8,63.7 172.6,61.4 173.5,59.1 174.4,56.8 175.3,54.4 176.4,52.0 177.4,49.6 178.4,47.3 179.5,44.9 180.7,42.5 181.9,40.1 183.0,37.8 184.0,35.7 184.9,33.8 185.6,32.2 186.2,30.8 186.6,29.6 187.0,28.5 187.3,27.7 187.5,27.0 Z" fill="#F8B5B8"/>
<g clip-path="url(#cA1)" fill="none" stroke="#E77F85" stroke-width="1.15">
<path d="M177.4,27.0 L177.1,27.8 176.8,28.6 176.5,29.4 176.2,30.3 175.9,31.1 175.5,31.8 175.2,32.6 174.7,33.4 174.3,34.1 173.8,34.8 173.3,35.5 172.8,36.2 172.3,36.9 171.8,37.6 171.3,38.3 170.9,39.0 170.4,39.8 169.9,40.5 169.4,41.2 168.9,41.9 168.5,42.6 168.0,43.4 167.6,44.1 167.1,44.8 166.7,45.6 166.2,46.3 165.8,47.1 165.4,47.8 165.0,48.6 164.5,49.3 164.1,50.1 163.7,50.8 163.3,51.6 162.9,52.4 162.5,53.1 162.1,53.9 161.7,54.7 161.3,55.4 160.9,56.2 160.5,57.0 160.1,57.7 159.8,58.5 159.4,59.3 159.0,60.1 158.7,60.9 158.3,61.6 158.0,62.4 157.6,63.2 157.3,64.0 156.9,64.8 156.6,65.6 156.2,66.4 155.9,67.2 155.6,68.0 155.3,68.8 154.9,69.6 154.6,70.4 154.3,71.2 154.0,72.0 153.7,72.8 153.4,73.6 153.0,74.4 152.7,75.2 152.3,76.0 151.9,76.7 151.6,77.5 151.2,78.3 150.8,79.1 150.5,79.9 150.2,80.7 149.9,81.5 149.6,82.3 149.3,83.1 149.0,83.9 148.7,84.7 148.5,85.5 148.2,86.4"/>
<path d="M181.0,27.0 L180.7,27.8 180.5,28.6 180.2,29.4 179.9,30.2 179.6,31.0 179.2,31.8 178.9,32.5 178.5,33.3 178.1,34.0 177.7,34.8 177.2,35.5 176.8,36.2 176.3,36.9 175.9,37.7 175.4,38.4 175.0,39.1 174.5,39.8 174.1,40.5 173.6,41.2 173.2,42.0 172.8,42.7 172.4,43.4 171.9,44.2 171.5,44.9 171.1,45.7 170.7,46.4 170.3,47.2 169.9,47.9 169.6,48.7 169.2,49.4 168.8,50.2 168.4,51.0 168.0,51.7 167.6,52.5 167.3,53.2 166.9,54.0 166.5,54.8 166.2,55.5 165.8,56.3 165.4,57.1 165.1,57.8 164.7,58.6 164.4,59.4 164.1,60.2 163.7,60.9 163.4,61.7 163.1,62.5 162.7,63.3 162.4,64.1 162.1,64.9 161.8,65.7 161.5,66.5 161.2,67.3 160.9,68.1 160.6,68.8 160.3,69.6 160.0,70.4 159.7,71.2 159.5,72.0 159.2,72.8 158.9,73.6 158.6,74.4 158.3,75.2 157.9,76.0 157.6,76.8 157.3,77.6 156.9,78.3 156.6,79.1 156.3,79.9 156.0,80.7 155.7,81.5"/>
<path d="M184.7,27.0 L184.4,27.8 184.1,28.6 183.8,29.4 183.6,30.2 183.2,30.9 182.9,31.7 182.6,32.5 182.2,33.2 181.9,34.0 181.5,34.7 181.1,35.5 180.7,36.2 180.3,36.9 179.9,37.7 179.5,38.4 179.1,39.1 178.7,39.9 178.3,40.6 177.9,41.3 177.5,42.1 177.1,42.8 176.7,43.5 176.3,44.3 176.0,45.0 175.6,45.8 175.2,46.5 174.9,47.3 174.5,48.0 174.1,48.8 173.8,49.5 173.4,50.3 173.1,51.1 172.7,51.8 172.4,52.6 172.0,53.3 171.7,54.1 171.4,54.9 171.0,55.6 170.7,56.4 170.4,57.2 170.0,57.9 169.7,58.7 169.4,59.5 169.1,60.3 168.8,61.0 168.5,61.8 168.2,62.6 167.9,63.4 167.6,64.2 167.3,65.0 167.0,65.8 166.8,66.5 166.5,67.3 166.2,68.1 166.0,68.9 165.7,69.7 165.4,70.5 165.2,71.3 164.9,72.1 164.7,72.9 164.4,73.7 164.1,74.5 163.8,75.3 163.5,76.0 163.2,76.8 162.9,77.6 162.6,78.4 162.3,79.2 162.1,80.0 161.8,80.7"/>
</g>
<path d="M174.0,27.0 L173.8,27.6 173.5,28.5 173.1,29.5 172.7,30.7 172.1,31.9 171.4,33.2 170.5,34.6 169.4,36.0 168.2,37.6 166.9,39.2 165.6,40.9 164.4,42.6 163.2,44.4 162.0,46.4 160.7,48.4 159.5,50.5 158.4,52.5 157.3,54.4 156.3,56.2 155.4,58.0 154.5,59.8 153.6,61.5 152.8,63.2 152.0,64.9 151.2,66.6 150.5,68.2 149.8,69.9 149.1,71.5 148.5,72.9 147.9,74.3 147.4,75.5 146.9,76.6 146.5,77.6 146.0,78.5 145.6,79.4 145.0,80.2 144.3,80.9 143.6,81.6 142.9,82.2 142.1,82.7 141.3,83.3 140.4,83.8 139.5,84.4 138.6,84.9 137.6,85.5 136.6,86.0 135.6,86.4 134.5,86.7 133.4,86.8 132.3,86.8 131.1,86.8 129.9,86.6 128.8,86.4 127.7,86.2 126.7,85.9 125.7,85.5 124.7,85.1 123.7,84.6 122.8,84.3 121.8,84.0 120.7,83.8 119.4,83.7 118.0,83.7 116.9,83.7 116.1,83.7 115.9,83.8 116.3,84.0 117.4,84.2 118.7,84.5 120.2,84.8 121.7,85.1 122.8,85.4 123.6,85.7 124.4,86.0 125.1,86.3 125.7,86.5 126.2,86.9 126.7,87.2 127.1,87.6 127.5,87.9 127.7,88.3 128.0,88.7 128.3,89.1 128.6,89.6 128.9,90.1 129.3,90.7 129.6,91.3 130.0,91.9 130.5,92.5 131.0,93.0 131.6,93.5 132.3,94.0 133.0,94.5 133.8,94.9 134.6,95.3 135.5,95.7 136.4,96.0 137.3,96.3 138.3,96.6 139.3,96.8 140.3,96.9 141.4,97.0 142.5,97.0 143.6,97.0 144.7,96.9 145.9,96.7 147.1,96.5 148.2,96.2 149.3,95.8 150.5,95.4 151.6,94.9 152.8,94.4 153.9,93.8 155.0,93.2 156.1,92.6 157.1,91.9 158.2,91.3 159.2,90.6 160.1,89.8 161.0,89.0 161.8,88.1 162.5,87.1 163.2,86.0 163.8,85.0 164.3,84.0 164.8,83.3 165.1,82.8 165.4,82.6 165.5,82.4 165.7,82.3 165.8,82.0 166.1,81.4 166.4,80.6 166.8,79.6 167.1,78.5 167.5,77.3 168.0,75.9 168.5,74.3 169.1,72.5 169.7,70.5 170.3,68.3 171.0,66.0 171.8,63.7 172.6,61.4 173.5,59.1 174.4,56.8 175.3,54.4 176.4,52.0 177.4,49.6 178.4,47.3 179.5,44.9 180.7,42.5 181.9,40.1 183.0,37.8 184.0,35.7 184.9,33.8 185.6,32.2 186.2,30.8 186.6,29.6 187.0,28.5 187.3,27.7 187.5,27.0 Z" fill="none" stroke="#EC8B90" stroke-width="1"/>
</g>
<g mask="url(#mA2)">
<path d="M116.3,382.1 L117.4,381.7 118.9,381.2 120.7,380.6 122.5,379.9 124.2,379.1 125.6,378.2 126.6,377.1 127.3,375.9 127.9,374.6 128.5,373.2 129.1,372.0 130.0,371.0 131.1,370.1 132.3,369.4 133.7,368.7 135.1,368.1 136.5,367.7 137.8,367.5 139.1,367.5 140.4,367.6 141.8,367.9 143.1,368.3 144.4,368.8 145.7,369.4 147.0,370.1 148.3,370.9 149.6,371.8 150.9,372.8 152.2,373.9 153.5,374.9 154.8,376.0 156.2,377.2 157.5,378.5 158.9,379.7 160.1,380.9 161.3,381.9 162.4,382.6 163.4,383.1 164.3,383.5 165.2,384.0 166.0,384.7 166.8,385.9 167.5,387.6 168.1,389.6 168.7,391.8 169.3,394.3 169.9,396.7 170.7,399.2 171.6,401.7 172.6,404.3 173.7,406.9 174.8,409.6 175.9,412.3 177.0,414.8 178.1,417.3 179.2,419.8 180.3,422.2 181.3,424.6 182.3,426.8 183.3,428.9 184.4,430.9 185.7,432.9 187.0,434.8 188.0,436.5 188.4,437.9 188.0,439.0 186.5,439.7 184.0,440.1 180.9,440.3 177.8,440.1 175.0,439.7 173.0,439.0 172.0,437.9 171.6,436.5 171.5,434.8 171.5,432.9 171.3,430.9 170.7,428.9 169.5,426.8 168.0,424.6 166.3,422.2 164.6,419.8 162.9,417.3 161.3,414.8 159.9,412.3 158.5,409.7 157.1,407.0 155.8,404.4 154.6,401.7 153.5,399.2 152.5,396.7 151.7,394.1 151.0,391.5 150.3,389.1 149.5,386.9 148.8,385.0 148.0,383.5 147.3,382.2 146.6,381.2 145.8,380.3 145.0,379.5 144.1,378.8 143.2,378.1 142.2,377.6 141.1,377.1 140.1,376.8 139.0,376.5 137.8,376.4 136.6,376.4 135.3,376.6 134.0,376.8 132.6,377.2 131.3,377.6 130.0,378.0 128.6,378.5 127.2,379.1 125.8,379.8 124.4,380.4 123.3,380.9 122.5,381.3 Z" fill="#F8B5B8"/>
<g clip-path="url(#cA2)" fill="none" stroke="#E77F85" stroke-width="1.15">
<path d="M151.6,381.9 L151.9,382.7 152.2,383.5 152.4,384.3 152.7,385.1 153.0,386.0 153.3,386.8 153.5,387.6 153.8,388.4 154.0,389.2 154.2,390.1 154.5,390.9 154.7,391.7 155.0,392.5 155.2,393.4 155.5,394.2 155.8,395.0 156.0,395.8 156.3,396.6 156.6,397.4 156.9,398.2 157.2,399.0 157.5,399.8 157.9,400.6 158.2,401.4 158.5,402.2 158.9,403.0 159.2,403.8 159.6,404.6 160.0,405.3 160.3,406.1 160.7,406.9 161.1,407.7 161.4,408.4 161.8,409.2 162.2,410.0 162.6,410.7 163.0,411.5 163.4,412.3 163.8,413.0 164.2,413.8 164.6,414.5 165.0,415.3 165.4,416.0 165.9,416.8 166.3,417.5 166.8,418.2 167.2,419.0 167.7,419.7 168.2,420.4 168.6,421.1 169.1,421.8 169.6,422.5 170.1,423.2 170.5,424.0 171.0,424.7 171.5,425.4 171.9,426.1 172.3,426.9 172.8,427.6 173.2,428.4 173.6,429.1 173.9,429.9 174.2,430.7 174.5,431.5 174.8,432.3 175.0,433.2 175.3,434.0 175.5,434.8 175.6,435.7 175.8,436.5 176.0,437.3 176.1,438.2 176.3,439.0"/>
<path d="M155.4,381.4 L155.6,382.2 155.8,383.0 156.0,383.8 156.3,384.6 156.5,385.4 156.8,386.2 157.0,387.1 157.3,387.9 157.5,388.7 157.7,389.5 158.0,390.3 158.2,391.1 158.4,392.0 158.7,392.8 158.9,393.6 159.2,394.4 159.5,395.2 159.7,396.0 160.0,396.8 160.3,397.6 160.6,398.4 160.9,399.2 161.2,400.0 161.5,400.8 161.8,401.6 162.2,402.4 162.5,403.1 162.8,403.9 163.2,404.7 163.5,405.5 163.9,406.2 164.2,407.0 164.6,407.8 165.0,408.6 165.3,409.3 165.7,410.1 166.1,410.9 166.4,411.6 166.8,412.4 167.2,413.1 167.6,413.9 168.0,414.7 168.3,415.4 168.7,416.2 169.2,416.9 169.6,417.6 170.0,418.4 170.4,419.1 170.8,419.8 171.3,420.6 171.7,421.3 172.1,422.0 172.6,422.7 173.0,423.5 173.5,424.2 173.9,424.9 174.3,425.6 174.7,426.4 175.2,427.1 175.6,427.9 176.0,428.6 176.3,429.4 176.7,430.2 177.0,430.9 177.3,431.7 177.6,432.5 177.9,433.3 178.1,434.1 178.4,434.9 178.6,435.8 178.8,436.6 179.0,437.4 179.2,438.2 179.4,439.0"/>
<path d="M159.2,382.5 L159.4,383.3 159.6,384.1 159.8,384.9 160.0,385.7 160.2,386.5 160.4,387.3 160.6,388.1 160.9,388.9 161.1,389.7 161.3,390.6 161.6,391.4 161.8,392.2 162.1,393.0 162.3,393.8 162.6,394.6 162.8,395.4 163.1,396.2 163.4,397.0 163.6,397.8 163.9,398.6 164.2,399.4 164.5,400.1 164.8,400.9 165.1,401.7 165.5,402.5 165.8,403.3 166.1,404.0 166.4,404.8 166.8,405.6 167.1,406.4 167.5,407.1 167.8,407.9 168.1,408.7 168.5,409.4 168.8,410.2 169.2,411.0 169.5,411.7 169.9,412.5 170.3,413.2 170.6,414.0 171.0,414.8 171.4,415.5 171.7,416.3 172.1,417.0 172.5,417.8 172.9,418.5 173.3,419.2 173.7,420.0 174.1,420.7 174.5,421.4 174.9,422.2 175.3,422.9 175.7,423.6 176.1,424.4 176.5,425.1 176.9,425.8 177.3,426.6 177.7,427.3 178.1,428.1 178.5,428.8 178.8,429.6 179.2,430.4 179.5,431.1 179.8,431.9 180.1,432.7 180.4,433.5 180.7,434.3 181.0,435.0 181.3,435.8 181.5,436.6 181.8,437.4 182.0,438.2 182.3,439.0"/>
<path d="M162.7,382.7 L162.8,383.5 162.9,384.3 163.1,385.1 163.2,385.9 163.4,386.8 163.6,387.6 163.8,388.4 164.1,389.2 164.3,390.0 164.5,390.8 164.7,391.6 165.0,392.4 165.2,393.2 165.5,394.0 165.7,394.8 166.0,395.6 166.3,396.4 166.5,397.1 166.8,397.9 167.1,398.7 167.4,399.5 167.7,400.3 168.0,401.1 168.3,401.8 168.6,402.6 168.9,403.4 169.2,404.2 169.5,404.9 169.8,405.7 170.2,406.5 170.5,407.2 170.8,408.0 171.2,408.8 171.5,409.5 171.8,410.3 172.2,411.0 172.5,411.8 172.8,412.6 173.2,413.3 173.5,414.1 173.9,414.8 174.2,415.6 174.6,416.4 174.9,417.1 175.3,417.9 175.6,418.6 176.0,419.4 176.4,420.1 176.8,420.8 177.1,421.6 177.5,422.3 177.9,423.1 178.2,423.8 178.6,424.6 179.0,425.3 179.4,426.0 179.7,426.8 180.1,427.5 180.5,428.3 180.8,429.0 181.2,429.8 181.5,430.6 181.9,431.3 182.2,432.1 182.5,432.8 182.9,433.6 183.2,434.4 183.5,435.2 183.8,435.9 184.1,436.7 184.4,437.5 184.7,438.2 185.0,439.0"/>
</g>
<path d="M116.3,382.1 L117.4,381.7 118.9,381.2 120.7,380.6 122.5,379.9 124.2,379.1 125.6,378.2 126.6,377.1 127.3,375.9 127.9,374.6 128.5,373.2 129.1,372.0 130.0,371.0 131.1,370.1 132.3,369.4 133.7,368.7 135.1,368.1 136.5,367.7 137.8,367.5 139.1,367.5 140.4,367.6 141.8,367.9 143.1,368.3 144.4,368.8 145.7,369.4 147.0,370.1 148.3,370.9 149.6,371.8 150.9,372.8 152.2,373.9 153.5,374.9 154.8,376.0 156.2,377.2 157.5,378.5 158.9,379.7 160.1,380.9 161.3,381.9 162.4,382.6 163.4,383.1 164.3,383.5 165.2,384.0 166.0,384.7 166.8,385.9 167.5,387.6 168.1,389.6 168.7,391.8 169.3,394.3 169.9,396.7 170.7,399.2 171.6,401.7 172.6,404.3 173.7,406.9 174.8,409.6 175.9,412.3 177.0,414.8 178.1,417.3 179.2,419.8 180.3,422.2 181.3,424.6 182.3,426.8 183.3,428.9 184.4,430.9 185.7,432.9 187.0,434.8 188.0,436.5 188.4,437.9 188.0,439.0 186.5,439.7 184.0,440.1 180.9,440.3 177.8,440.1 175.0,439.7 173.0,439.0 172.0,437.9 171.6,436.5 171.5,434.8 171.5,432.9 171.3,430.9 170.7,428.9 169.5,426.8 168.0,424.6 166.3,422.2 164.6,419.8 162.9,417.3 161.3,414.8 159.9,412.3 158.5,409.7 157.1,407.0 155.8,404.4 154.6,401.7 153.5,399.2 152.5,396.7 151.7,394.1 151.0,391.5 150.3,389.1 149.5,386.9 148.8,385.0 148.0,383.5 147.3,382.2 146.6,381.2 145.8,380.3 145.0,379.5 144.1,378.8 143.2,378.1 142.2,377.6 141.1,377.1 140.1,376.8 139.0,376.5 137.8,376.4 136.6,376.4 135.3,376.6 134.0,376.8 132.6,377.2 131.3,377.6 130.0,378.0 128.6,378.5 127.2,379.1 125.8,379.8 124.4,380.4 123.3,380.9 122.5,381.3 Z" fill="none" stroke="#EC8B90" stroke-width="1"/>
</g>
<path class="pl" d="M108.6,67.1 L144.2,89.8"/>
<path class="pl" d="M92.8,137 L146.7,123.2 M92.8,137 L154.9,128.2 M92.8,137 L140.3,136.3"/>
<g filter="url(#soft)"><path d="M353.0,116.0 L352.7,116.3 352.5,116.6 352.3,116.9 352.1,117.2 352.0,117.5 351.9,117.8 351.8,118.1 351.9,118.5 351.9,118.8 352.1,119.2 352.2,119.5 352.4,119.9 352.5,120.2 352.7,120.6 352.8,120.9 352.9,121.3 353.0,121.6 353.0,121.9 352.9,122.2 352.8,122.6 352.7,122.9 352.5,123.2 352.2,123.5 352.0,123.8 351.7,124.0 351.4,124.3 351.2,124.6 351.0,124.9 350.8,125.2 350.7,125.6 350.7,125.9 350.7,126.2 350.7,126.5 350.8,126.9 351.0,127.2 351.1,127.6 351.3,127.9 351.4,128.3 351.6,128.6 351.7,129.0 351.8,129.3 351.8,129.7 351.8,130.0 351.7,130.3 351.6,130.6 351.4,130.9 351.2,131.2 351.0,131.5 350.7,131.8 350.5,132.1 350.2,132.4 350.0,132.7 349.8,133.0 349.7,133.3 349.6,133.6 349.6,134.0 349.6,134.3 349.7,134.6 349.8,135.0 350.0,135.3 350.2,135.7 350.3,136.0 350.5,136.4 350.6,136.7 350.8,137.1 350.8,137.4 350.8,137.7 350.8,138.1 350.7,138.4 350.6,138.7 350.4,139.0 350.1,139.3 349.9,139.6 349.6,139.9 349.4,140.2 349.1,140.5 348.9,140.8 348.8,141.1 348.7,141.4 348.6,141.7 348.6,142.0 348.6,142.4 348.7,142.7 348.8,143.0 349.0,143.4 349.1,143.8 349.3,144.1 349.4,144.5 349.5,144.8 349.6,145.2 349.6,145.5 349.6,145.8 349.5,146.2 349.3,146.5 349.1,146.8 348.9,147.0 348.7,147.3 348.4,147.6 348.1,147.9 347.8,148.2 347.6,148.4 347.4,148.7 347.2,149.0 347.1,149.3 347.0,149.6 347.0,150.0 347.1,150.3 347.2,150.7 347.3,151.0 347.4,151.4 347.6,151.8 347.7,152.1 347.8,152.5 347.9,152.8 347.9,153.2 347.9,153.5 347.8,153.8 347.7,154.1 347.5,154.4 347.3,154.7 347.1,155.0 346.8,155.3 346.5,155.5 346.2,155.8 346.0,156.1 345.8,156.4 345.6,156.7 345.4,157.0 345.3,157.3 345.3,157.6 345.3,157.9 345.4,158.3 345.5,158.6 345.6,159.0 345.7,159.4 345.9,159.7 346.0,160.1 346.1,160.5 346.2,160.8 346.2,161.1 346.1,161.5 346.0,161.8 345.9,162.1 345.7,162.4 345.5,162.7 345.2,162.9 344.9,163.2 344.6,163.5 344.4,163.7 344.1,164.0 343.9,164.3 343.7,164.6 343.6,164.9 343.5,165.2 343.5,165.6 343.6,165.9 343.6,166.3 343.8,166.6 343.9,167.0 380.8,167.2 380.8,166.8 380.9,166.4 381.0,166.0 381.2,165.6 381.4,165.2 381.5,164.8 381.6,164.4 381.7,164.0 381.7,163.7 381.7,163.3 381.6,163.0 381.4,162.6 381.1,162.3 380.9,162.0 380.6,161.7 380.3,161.3 380.0,161.0 379.8,160.7 379.6,160.3 379.5,160.0 379.4,159.6 379.5,159.3 379.5,158.9 379.7,158.5 379.8,158.1 380.0,157.7 380.2,157.3 380.4,157.0 380.5,156.6 380.6,156.2 380.6,155.8 380.6,155.5 380.5,155.1 380.3,154.8 380.1,154.4 379.8,154.1 379.5,153.8 379.3,153.5 379.0,153.1 378.7,152.8 378.6,152.5 378.4,152.1 378.4,151.8 378.4,151.4 378.4,151.0 378.6,150.6 378.7,150.3 378.9,149.9 379.1,149.5 379.3,149.1 379.4,148.7 379.5,148.3 379.5,147.9 379.5,147.6 379.4,147.2 379.2,146.9 379.0,146.6 378.7,146.2 378.5,145.9 378.2,145.6 377.9,145.3 377.6,145.0 377.4,144.6 377.3,144.3 377.2,143.9 377.2,143.6 377.2,143.2 377.3,142.8 377.4,142.4 377.6,142.0 377.8,141.6 377.9,141.2 378.0,140.8 378.1,140.5 378.2,140.1 378.1,139.7 378.0,139.4 377.8,139.0 377.6,138.7 377.4,138.4 377.1,138.1 376.8,137.8 376.5,137.4 376.2,137.1 376.0,136.8 375.9,136.4 375.8,136.1 375.8,135.7 375.8,135.4 375.9,135.0 376.1,134.6 376.2,134.2 376.4,133.8 376.6,133.4 376.8,133.0 376.9,132.7 377.0,132.3 377.0,131.9 376.9,131.6 376.8,131.2 376.6,130.9 376.4,130.6 376.2,130.2 375.9,129.9 375.6,129.5 375.4,129.2 375.2,128.8 375.1,128.5 375.0,128.1 375.1,127.7 375.1,127.4 375.3,127.0 375.4,126.6 375.7,126.3 375.9,125.9 376.1,125.5 376.3,125.1 376.5,124.8 376.6,124.4 376.6,124.1 376.6,123.7 376.5,123.3 376.3,123.0 376.1,122.6 375.9,122.3 375.6,121.9 375.4,121.6 375.2,121.2 375.0,120.8 374.9,120.5 374.8,120.1 374.8,119.8 374.9,119.4 375.0,119.0 375.2,118.7 375.4,118.3 375.7,117.9 375.9,117.6 376.1,117.2 376.3,116.9 376.4,116.5 376.4,116.1 376.4,115.8 376.3,115.4 376.2,115.0 376.0,114.7 375.8,114.3 375.5,114.0 375.3,113.6 375.1,113.3 374.9,112.9 374.8,112.5 374.7,112.2 374.7,111.8 374.8,111.5 374.9,111.1 375.1,110.7 375.3,110.4 375.5,110.0 Z" fill="#D8A674"/>
<path d="M358.6,114.5 L358.4,114.8 358.1,115.1 357.9,115.4 357.8,115.8 357.6,116.1 357.6,116.4 357.6,116.7 357.6,117.1 357.7,117.4 357.9,117.8 358.0,118.1 358.2,118.5 358.4,118.8 358.6,119.2 358.7,119.5 358.8,119.9 358.9,120.2 358.8,120.6 358.8,120.9 358.7,121.2 358.5,121.5 358.3,121.8 358.0,122.2 357.8,122.5 357.5,122.8 357.3,123.1 357.1,123.4 356.9,123.7 356.8,124.0 356.7,124.4 356.7,124.7 356.8,125.1 356.9,125.4 357.0,125.8 357.2,126.1 357.4,126.5 357.6,126.8 357.8,127.2 357.9,127.5 358.0,127.9 358.1,128.2 358.0,128.5 358.0,128.9 357.9,129.2 357.7,129.5 357.5,129.8 357.3,130.1 357.0,130.4 356.8,130.8 356.5,131.1 356.3,131.4 356.2,131.7 356.1,132.0 356.0,132.4 356.0,132.7 356.1,133.1 356.2,133.4 356.4,133.7 356.6,134.1 356.8,134.4 357.0,134.8 357.1,135.1 357.3,135.5 357.4,135.8 357.5,136.1 357.5,136.5 357.4,136.8 357.3,137.1 357.1,137.5 356.9,137.8 356.7,138.1 356.5,138.4 356.2,138.7 356.0,139.1 355.8,139.4 355.7,139.7 355.6,140.0 355.5,140.4 355.5,140.7 355.6,141.0 355.7,141.4 355.9,141.7 356.1,142.1 356.2,142.4 356.4,142.7 356.6,143.1 356.8,143.4 356.9,143.8 356.9,144.1 356.9,144.4 356.9,144.8 356.8,145.1 356.6,145.4 356.4,145.7 356.2,146.0 355.9,146.3 355.7,146.7 355.4,147.0 355.2,147.3 355.0,147.6 354.9,147.9 354.8,148.2 354.8,148.5 354.9,148.9 354.9,149.2 355.1,149.6 355.2,149.9 355.4,150.3 355.6,150.6 355.7,151.0 355.9,151.3 356.0,151.7 356.0,152.0 356.0,152.4 356.0,152.7 355.9,153.0 355.7,153.3 355.5,153.6 355.3,153.9 355.0,154.2 354.8,154.5 354.5,154.8 354.3,155.1 354.1,155.4 354.0,155.8 353.9,156.1 353.8,156.4 353.9,156.7 353.9,157.1 354.0,157.4 354.2,157.8 354.4,158.1 354.6,158.5 354.7,158.9 354.9,159.2 355.0,159.6 355.0,159.9 355.1,160.2 355.0,160.6 354.9,160.9 354.8,161.2 354.6,161.5 354.3,161.8 354.1,162.1 353.8,162.4 353.6,162.7 353.3,163.0 353.1,163.3 353.0,163.6 352.9,164.0 352.8,164.3 352.8,164.6 352.9,165.0 353.0,165.3 353.2,165.7 353.3,166.0 353.5,166.4 353.7,166.7 353.9,167.1" fill="none" stroke="#AE7843" stroke-width="1.4"/>
<path d="M366.9,112.3 L366.7,112.6 366.5,113.0 366.3,113.3 366.1,113.6 366.1,114.0 366.0,114.3 366.0,114.7 366.1,115.0 366.3,115.4 366.5,115.7 366.7,116.1 366.9,116.4 367.1,116.8 367.3,117.2 367.4,117.5 367.5,117.9 367.5,118.2 367.5,118.6 367.4,118.9 367.3,119.2 367.1,119.6 366.9,119.9 366.6,120.2 366.4,120.6 366.2,120.9 366.0,121.3 365.8,121.6 365.7,121.9 365.7,122.3 365.7,122.6 365.8,123.0 365.9,123.3 366.1,123.7 366.3,124.1 366.5,124.4 366.7,124.8 366.9,125.1 367.1,125.5 367.2,125.8 367.2,126.2 367.2,126.5 367.1,126.9 367.0,127.2 366.8,127.5 366.6,127.9 366.4,128.2 366.1,128.6 365.9,128.9 365.7,129.2 365.6,129.6 365.5,129.9 365.4,130.3 365.5,130.6 365.6,131.0 365.7,131.3 365.9,131.7 366.1,132.0 366.4,132.4 366.6,132.7 366.8,133.1 367.0,133.4 367.1,133.7 367.2,134.1 367.2,134.4 367.1,134.8 367.0,135.1 366.8,135.5 366.6,135.8 366.4,136.2 366.2,136.5 366.0,136.9 365.8,137.2 365.7,137.6 365.6,137.9 365.6,138.3 365.7,138.6 365.8,139.0 365.9,139.3 366.1,139.6 366.4,140.0 366.6,140.3 366.9,140.6 367.1,141.0 367.3,141.3 367.4,141.6 367.5,142.0 367.6,142.3 367.5,142.7 367.4,143.0 367.3,143.4 367.1,143.7 366.9,144.1 366.7,144.4 366.5,144.8 366.3,145.1 366.2,145.5 366.1,145.8 366.1,146.1 366.1,146.5 366.1,146.8 366.3,147.2 366.5,147.5 366.7,147.8 366.9,148.2 367.1,148.5 367.3,148.9 367.5,149.2 367.7,149.5 367.8,149.9 367.8,150.2 367.8,150.6 367.7,150.9 367.6,151.2 367.4,151.6 367.2,151.9 367.0,152.3 366.8,152.6 366.6,153.0 366.4,153.3 366.3,153.7 366.2,154.0 366.2,154.3 366.2,154.7 366.3,155.0 366.5,155.4 366.7,155.7 366.9,156.1 367.1,156.4 367.4,156.7 367.6,157.1 367.7,157.4 367.8,157.8 367.9,158.1 367.9,158.4 367.8,158.8 367.7,159.1 367.6,159.5 367.4,159.8 367.1,160.2 366.9,160.5 366.7,160.9 366.5,161.2 366.4,161.5 366.3,161.9 366.2,162.2 366.3,162.6 366.4,162.9 366.5,163.3 366.7,163.6 366.9,163.9 367.1,164.3 367.4,164.6 367.6,164.9 367.8,165.3 367.9,165.6 368.0,165.9 368.0,166.3 368.0,166.6 368.0,167.0" fill="none" stroke="#AE7843" stroke-width="1.4"/>
<path d="M371.0,111.2 L370.8,111.6 370.5,111.9 370.4,112.3 370.2,112.6 370.1,113.0 370.1,113.3 370.2,113.7 370.3,114.0 370.4,114.4 370.6,114.7 370.9,115.1 371.1,115.4 371.3,115.8 371.5,116.2 371.6,116.5 371.7,116.9 371.8,117.2 371.7,117.6 371.6,117.9 371.5,118.3 371.3,118.6 371.0,119.0 370.8,119.3 370.6,119.7 370.4,120.0 370.2,120.4 370.1,120.7 370.0,121.1 370.0,121.4 370.1,121.8 370.2,122.1 370.4,122.5 370.6,122.9 370.8,123.2 371.1,123.6 371.3,123.9 371.5,124.3 371.6,124.6 371.7,125.0 371.7,125.3 371.6,125.7 371.5,126.0 371.3,126.4 371.1,126.7 370.9,127.1 370.7,127.5 370.4,127.8 370.3,128.2 370.1,128.5 370.0,128.9 370.0,129.2 370.0,129.6 370.2,129.9 370.3,130.3 370.5,130.6 370.8,131.0 371.0,131.3 371.2,131.7 371.5,132.0 371.6,132.4 371.8,132.7 371.8,133.1 371.8,133.4 371.8,133.8 371.7,134.1 371.5,134.5 371.3,134.9 371.1,135.2 370.9,135.6 370.7,136.0 370.6,136.3 370.5,136.7 370.5,137.1 370.5,137.4 370.6,137.8 370.7,138.1 370.9,138.4 371.2,138.8 371.4,139.1 371.7,139.4 372.0,139.7 372.2,140.0 372.4,140.4 372.5,140.7 372.6,141.1 372.6,141.4 372.6,141.8 372.5,142.1 372.3,142.5 372.1,142.9 371.9,143.3 371.8,143.6 371.6,144.0 371.5,144.4 371.4,144.7 371.4,145.1 371.4,145.4 371.5,145.8 371.7,146.1 371.9,146.4 372.1,146.8 372.4,147.1 372.6,147.4 372.9,147.7 373.1,148.1 373.3,148.4 373.4,148.8 373.4,149.1 373.4,149.5 373.3,149.8 373.2,150.2 373.0,150.6 372.8,150.9 372.6,151.3 372.4,151.7 372.2,152.0 372.1,152.4 372.0,152.7 372.0,153.1 372.1,153.4 372.2,153.8 372.3,154.1 372.5,154.5 372.8,154.8 373.0,155.1 373.3,155.5 373.5,155.8 373.7,156.1 373.9,156.5 374.0,156.8 374.0,157.2 374.0,157.5 373.9,157.9 373.7,158.2 373.6,158.6 373.4,159.0 373.1,159.3 373.0,159.7 372.8,160.1 372.7,160.4 372.6,160.8 372.6,161.1 372.6,161.5 372.8,161.8 372.9,162.2 373.1,162.5 373.4,162.8 373.7,163.2 373.9,163.5 374.1,163.8 374.3,164.2 374.5,164.5 374.6,164.8 374.6,165.2 374.6,165.5 374.5,165.9 374.4,166.2 374.2,166.6 374.0,167.0" fill="none" stroke="#AE7843" stroke-width="1.4"/>
<path d="M353.0,116.0 L352.7,116.3 352.5,116.6 352.3,116.9 352.1,117.2 352.0,117.5 351.9,117.8 351.8,118.1 351.9,118.5 351.9,118.8 352.1,119.2 352.2,119.5 352.4,119.9 352.5,120.2 352.7,120.6 352.8,120.9 352.9,121.3 353.0,121.6 353.0,121.9 352.9,122.2 352.8,122.6 352.7,122.9 352.5,123.2 352.2,123.5 352.0,123.8 351.7,124.0 351.4,124.3 351.2,124.6 351.0,124.9 350.8,125.2 350.7,125.6 350.7,125.9 350.7,126.2 350.7,126.5 350.8,126.9 351.0,127.2 351.1,127.6 351.3,127.9 351.4,128.3 351.6,128.6 351.7,129.0 351.8,129.3 351.8,129.7 351.8,130.0 351.7,130.3 351.6,130.6 351.4,130.9 351.2,131.2 351.0,131.5 350.7,131.8 350.5,132.1 350.2,132.4 350.0,132.7 349.8,133.0 349.7,133.3 349.6,133.6 349.6,134.0 349.6,134.3 349.7,134.6 349.8,135.0 350.0,135.3 350.2,135.7 350.3,136.0 350.5,136.4 350.6,136.7 350.8,137.1 350.8,137.4 350.8,137.7 350.8,138.1 350.7,138.4 350.6,138.7 350.4,139.0 350.1,139.3 349.9,139.6 349.6,139.9 349.4,140.2 349.1,140.5 348.9,140.8 348.8,141.1 348.7,141.4 348.6,141.7 348.6,142.0 348.6,142.4 348.7,142.7 348.8,143.0 349.0,143.4 349.1,143.8 349.3,144.1 349.4,144.5 349.5,144.8 349.6,145.2 349.6,145.5 349.6,145.8 349.5,146.2 349.3,146.5 349.1,146.8 348.9,147.0 348.7,147.3 348.4,147.6 348.1,147.9 347.8,148.2 347.6,148.4 347.4,148.7 347.2,149.0 347.1,149.3 347.0,149.6 347.0,150.0 347.1,150.3 347.2,150.7 347.3,151.0 347.4,151.4 347.6,151.8 347.7,152.1 347.8,152.5 347.9,152.8 347.9,153.2 347.9,153.5 347.8,153.8 347.7,154.1 347.5,154.4 347.3,154.7 347.1,155.0 346.8,155.3 346.5,155.5 346.2,155.8 346.0,156.1 345.8,156.4 345.6,156.7 345.4,157.0 345.3,157.3 345.3,157.6 345.3,157.9 345.4,158.3 345.5,158.6 345.6,159.0 345.7,159.4 345.9,159.7 346.0,160.1 346.1,160.5 346.2,160.8 346.2,161.1 346.1,161.5 346.0,161.8 345.9,162.1 345.7,162.4 345.5,162.7 345.2,162.9 344.9,163.2 344.6,163.5 344.4,163.7 344.1,164.0 343.9,164.3 343.7,164.6 343.6,164.9 343.5,165.2 343.5,165.6 343.6,165.9 343.6,166.3 343.8,166.6 343.9,167.0 380.8,167.2 380.8,166.8 380.9,166.4 381.0,166.0 381.2,165.6 381.4,165.2 381.5,164.8 381.6,164.4 381.7,164.0 381.7,163.7 381.7,163.3 381.6,163.0 381.4,162.6 381.1,162.3 380.9,162.0 380.6,161.7 380.3,161.3 380.0,161.0 379.8,160.7 379.6,160.3 379.5,160.0 379.4,159.6 379.5,159.3 379.5,158.9 379.7,158.5 379.8,158.1 380.0,157.7 380.2,157.3 380.4,157.0 380.5,156.6 380.6,156.2 380.6,155.8 380.6,155.5 380.5,155.1 380.3,154.8 380.1,154.4 379.8,154.1 379.5,153.8 379.3,153.5 379.0,153.1 378.7,152.8 378.6,152.5 378.4,152.1 378.4,151.8 378.4,151.4 378.4,151.0 378.6,150.6 378.7,150.3 378.9,149.9 379.1,149.5 379.3,149.1 379.4,148.7 379.5,148.3 379.5,147.9 379.5,147.6 379.4,147.2 379.2,146.9 379.0,146.6 378.7,146.2 378.5,145.9 378.2,145.6 377.9,145.3 377.6,145.0 377.4,144.6 377.3,144.3 377.2,143.9 377.2,143.6 377.2,143.2 377.3,142.8 377.4,142.4 377.6,142.0 377.8,141.6 377.9,141.2 378.0,140.8 378.1,140.5 378.2,140.1 378.1,139.7 378.0,139.4 377.8,139.0 377.6,138.7 377.4,138.4 377.1,138.1 376.8,137.8 376.5,137.4 376.2,137.1 376.0,136.8 375.9,136.4 375.8,136.1 375.8,135.7 375.8,135.4 375.9,135.0 376.1,134.6 376.2,134.2 376.4,133.8 376.6,133.4 376.8,133.0 376.9,132.7 377.0,132.3 377.0,131.9 376.9,131.6 376.8,131.2 376.6,130.9 376.4,130.6 376.2,130.2 375.9,129.9 375.6,129.5 375.4,129.2 375.2,128.8 375.1,128.5 375.0,128.1 375.1,127.7 375.1,127.4 375.3,127.0 375.4,126.6 375.7,126.3 375.9,125.9 376.1,125.5 376.3,125.1 376.5,124.8 376.6,124.4 376.6,124.1 376.6,123.7 376.5,123.3 376.3,123.0 376.1,122.6 375.9,122.3 375.6,121.9 375.4,121.6 375.2,121.2 375.0,120.8 374.9,120.5 374.8,120.1 374.8,119.8 374.9,119.4 375.0,119.0 375.2,118.7 375.4,118.3 375.7,117.9 375.9,117.6 376.1,117.2 376.3,116.9 376.4,116.5 376.4,116.1 376.4,115.8 376.3,115.4 376.2,115.0 376.0,114.7 375.8,114.3 375.5,114.0 375.3,113.6 375.1,113.3 374.9,112.9 374.8,112.5 374.7,112.2 374.7,111.8 374.8,111.5 374.9,111.1 375.1,110.7 375.3,110.4 375.5,110.0 Z" fill="none" stroke="#AE7843" stroke-width="1.4"/></g>
<g filter="url(#soft)"><path d="M344.0,296.0 L343.8,296.3 343.7,296.7 343.5,297.0 343.4,297.3 343.4,297.6 343.4,297.9 343.4,298.3 343.5,298.6 343.6,298.9 343.8,299.1 344.0,299.4 344.3,299.7 344.5,300.0 344.7,300.3 345.0,300.5 345.2,300.8 345.4,301.1 345.5,301.4 345.6,301.7 345.6,302.0 345.6,302.3 345.5,302.7 345.4,303.0 345.3,303.3 345.2,303.6 345.0,304.0 344.8,304.3 344.7,304.6 344.6,305.0 344.5,305.3 344.4,305.6 344.4,305.9 344.5,306.2 344.6,306.5 344.7,306.8 344.9,307.1 345.1,307.4 345.4,307.7 345.6,307.9 345.9,308.2 346.1,308.5 346.3,308.8 346.5,309.1 346.6,309.4 346.7,309.7 346.7,310.0 346.7,310.3 346.6,310.6 346.5,310.9 346.4,311.3 346.3,311.6 346.1,311.9 346.0,312.3 345.8,312.6 345.7,312.9 345.6,313.3 345.6,313.6 345.6,313.9 345.7,314.2 345.8,314.5 345.9,314.8 346.1,315.1 346.4,315.3 346.6,315.6 346.9,315.9 347.1,316.2 347.3,316.4 347.5,316.7 347.7,317.0 347.8,317.3 347.9,317.6 348.0,317.9 347.9,318.2 347.9,318.5 347.8,318.9 347.6,319.2 347.5,319.5 347.3,319.9 347.2,320.2 347.1,320.6 347.0,320.9 346.9,321.2 346.9,321.5 346.9,321.8 347.0,322.2 347.1,322.4 347.3,322.7 347.5,323.0 347.7,323.3 348.0,323.5 348.2,323.8 348.5,324.1 348.7,324.4 348.9,324.6 349.1,324.9 349.2,325.2 349.3,325.5 349.3,325.8 349.3,326.1 349.3,326.4 349.2,326.8 349.1,327.1 349.0,327.4 348.8,327.8 348.7,328.1 348.6,328.5 348.5,328.8 348.5,329.2 348.5,329.5 348.6,329.8 348.7,330.1 348.8,330.4 349.0,330.6 349.3,330.9 349.5,331.1 349.8,331.4 350.1,331.6 350.4,331.9 350.6,332.1 350.9,332.3 351.1,332.6 351.2,332.9 351.4,333.2 351.4,333.5 351.4,333.8 351.4,334.1 351.4,334.4 351.3,334.8 351.2,335.2 351.1,335.5 351.0,335.9 351.0,336.2 350.9,336.6 350.9,336.9 351.0,337.2 351.0,337.5 351.2,337.8 351.3,338.0 351.6,338.3 351.8,338.5 352.1,338.8 352.4,339.0 352.6,339.2 352.9,339.5 353.2,339.7 353.4,340.0 353.6,340.2 353.8,340.5 353.9,340.8 353.9,341.1 353.9,341.4 353.9,341.8 353.9,342.1 353.8,342.5 353.7,342.8 353.6,343.2 353.5,343.5 353.4,343.9 353.4,344.2 376.0,350.0 376.3,349.7 376.5,349.4 376.6,349.1 376.7,348.7 376.8,348.4 376.7,348.0 376.6,347.7 376.5,347.3 376.3,346.9 376.1,346.5 375.9,346.2 375.8,345.8 375.6,345.4 375.5,345.1 375.5,344.7 375.5,344.4 375.6,344.1 375.7,343.7 375.9,343.4 376.1,343.0 376.3,342.7 376.6,342.4 376.8,342.0 377.0,341.7 377.2,341.3 377.3,341.0 377.4,340.6 377.3,340.3 377.3,339.9 377.1,339.6 377.0,339.2 376.7,338.9 376.5,338.5 376.3,338.2 376.1,337.8 375.9,337.5 375.8,337.1 375.8,336.8 375.8,336.4 375.8,336.1 376.0,335.7 376.1,335.4 376.3,335.0 376.6,334.7 376.8,334.4 377.0,334.0 377.2,333.7 377.4,333.3 377.5,333.0 377.6,332.6 377.5,332.3 377.5,331.9 377.3,331.6 377.2,331.2 377.0,330.9 376.7,330.5 376.5,330.2 376.3,329.8 376.2,329.4 376.1,329.1 376.0,328.7 376.0,328.4 376.1,328.0 376.3,327.7 376.5,327.3 376.7,327.0 377.0,326.7 377.2,326.4 377.5,326.0 377.7,325.7 377.9,325.4 378.0,325.0 378.1,324.7 378.1,324.3 378.0,324.0 377.9,323.6 377.7,323.3 377.6,322.9 377.4,322.5 377.2,322.1 377.0,321.8 376.9,321.4 376.8,321.0 376.8,320.7 376.9,320.3 377.0,320.0 377.2,319.7 377.4,319.3 377.6,319.0 377.9,318.7 378.2,318.4 378.5,318.1 378.7,317.8 378.9,317.5 379.0,317.1 379.1,316.8 379.1,316.4 379.1,316.1 379.0,315.7 378.9,315.3 378.7,315.0 378.5,314.6 378.4,314.2 378.2,313.8 378.1,313.4 378.1,313.1 378.1,312.7 378.1,312.4 378.2,312.0 378.4,311.7 378.7,311.4 378.9,311.1 379.2,310.8 379.5,310.5 379.8,310.2 380.0,309.9 380.2,309.6 380.4,309.2 380.4,308.9 380.5,308.5 380.4,308.2 380.3,307.8 380.2,307.4 380.1,307.1 379.9,306.7 379.7,306.3 379.6,305.9 379.5,305.5 379.5,305.2 379.5,304.8 379.6,304.5 379.7,304.1 379.9,303.8 380.1,303.5 380.4,303.2 380.7,302.9 381.0,302.6 381.3,302.3 381.5,302.0 381.7,301.7 381.9,301.4 382.0,301.0 382.0,300.7 381.9,300.3 381.8,299.9 381.7,299.6 381.6,299.2 381.4,298.8 381.2,298.4 381.1,298.0 381.0,297.7 380.9,297.3 380.9,297.0 381.0,296.6 381.1,296.3 381.3,296.0 381.5,295.7 381.7,295.3 382.0,295.0 Z" fill="#D8A674"/>
<path d="M353.5,295.8 L353.3,296.1 353.1,296.4 353.0,296.7 352.9,297.1 352.8,297.4 352.8,297.7 352.8,298.0 352.9,298.3 353.0,298.6 353.1,298.9 353.3,299.3 353.6,299.6 353.8,299.9 354.0,300.2 354.2,300.5 354.4,300.8 354.5,301.1 354.6,301.4 354.6,301.7 354.6,302.0 354.6,302.4 354.5,302.7 354.3,303.0 354.1,303.3 353.9,303.6 353.8,304.0 353.6,304.3 353.4,304.6 353.3,304.9 353.2,305.3 353.1,305.6 353.1,305.9 353.2,306.2 353.3,306.5 353.5,306.8 353.7,307.1 353.9,307.4 354.1,307.7 354.3,308.1 354.5,308.4 354.7,308.7 354.9,309.0 355.0,309.3 355.0,309.6 355.0,309.9 355.0,310.2 354.9,310.5 354.8,310.9 354.6,311.2 354.4,311.5 354.2,311.9 354.1,312.2 353.9,312.5 353.8,312.8 353.7,313.2 353.6,313.5 353.6,313.8 353.7,314.1 353.8,314.4 353.9,314.7 354.1,315.0 354.3,315.3 354.5,315.6 354.8,315.9 355.0,316.2 355.2,316.5 355.4,316.8 355.5,317.2 355.6,317.5 355.6,317.8 355.6,318.1 355.5,318.4 355.4,318.7 355.2,319.1 355.1,319.4 354.9,319.7 354.7,320.1 354.5,320.4 354.4,320.7 354.3,321.1 354.2,321.4 354.2,321.7 354.3,322.0 354.4,322.3 354.5,322.6 354.7,322.9 354.9,323.2 355.1,323.5 355.4,323.8 355.6,324.1 355.8,324.4 356.0,324.7 356.2,325.0 356.3,325.3 356.3,325.6 356.3,325.9 356.3,326.3 356.2,326.6 356.1,326.9 355.9,327.3 355.8,327.6 355.6,327.9 355.5,328.3 355.3,328.6 355.3,329.0 355.2,329.3 355.2,329.6 355.3,329.9 355.4,330.2 355.5,330.5 355.7,330.8 356.0,331.1 356.2,331.4 356.5,331.7 356.8,331.9 357.0,332.2 357.2,332.5 357.4,332.7 357.6,333.0 357.7,333.3 357.7,333.6 357.7,334.0 357.7,334.3 357.6,334.6 357.5,335.0 357.4,335.3 357.2,335.7 357.1,336.0 357.0,336.4 356.9,336.7 356.9,337.1 356.9,337.4 357.0,337.7 357.1,338.0 357.2,338.3 357.4,338.6 357.6,338.8 357.9,339.1 358.2,339.4 358.4,339.6 358.7,339.9 358.9,340.2 359.1,340.4 359.3,340.7 359.4,341.0 359.5,341.3 359.5,341.7 359.5,342.0 359.4,342.3 359.3,342.7 359.1,343.0 359.0,343.4 358.9,343.7 358.7,344.0 358.6,344.4 358.5,344.7 358.5,345.0 358.5,345.4 358.6,345.7" fill="none" stroke="#AE7843" stroke-width="1.4"/>
<path d="M367.6,295.4 L367.3,295.7 367.1,296.0 366.9,296.4 366.8,296.7 366.7,297.0 366.7,297.3 366.7,297.7 366.7,298.0 366.8,298.3 367.0,298.7 367.2,299.0 367.4,299.3 367.6,299.7 367.7,300.0 367.9,300.4 368.0,300.7 368.1,301.1 368.1,301.4 368.0,301.7 367.9,302.0 367.8,302.4 367.6,302.7 367.4,303.0 367.1,303.3 366.9,303.6 366.7,303.9 366.4,304.2 366.3,304.6 366.2,304.9 366.1,305.2 366.1,305.5 366.1,305.9 366.2,306.2 366.4,306.5 366.5,306.9 366.7,307.2 366.9,307.6 367.1,307.9 367.3,308.3 367.4,308.6 367.5,308.9 367.5,309.3 367.5,309.6 367.4,309.9 367.3,310.2 367.1,310.6 366.9,310.9 366.6,311.2 366.4,311.5 366.2,311.8 366.0,312.2 365.8,312.5 365.7,312.8 365.6,313.1 365.6,313.5 365.6,313.8 365.7,314.1 365.8,314.5 366.0,314.8 366.2,315.1 366.4,315.5 366.6,315.8 366.8,316.2 366.9,316.5 367.0,316.8 367.1,317.2 367.1,317.5 367.0,317.8 366.9,318.1 366.7,318.5 366.5,318.8 366.3,319.1 366.1,319.4 365.8,319.8 365.6,320.1 365.5,320.4 365.3,320.7 365.3,321.1 365.2,321.4 365.3,321.7 365.4,322.1 365.5,322.4 365.7,322.7 365.9,323.1 366.1,323.4 366.3,323.7 366.5,324.1 366.7,324.4 366.8,324.7 366.9,325.0 366.9,325.4 366.9,325.7 366.8,326.0 366.6,326.4 366.5,326.7 366.3,327.0 366.1,327.4 365.9,327.7 365.7,328.1 365.5,328.4 365.4,328.7 365.3,329.1 365.3,329.4 365.4,329.7 365.5,330.1 365.6,330.4 365.8,330.7 366.1,331.0 366.3,331.3 366.5,331.7 366.8,332.0 367.0,332.3 367.1,332.6 367.2,332.9 367.3,333.2 367.3,333.6 367.2,333.9 367.1,334.2 367.0,334.6 366.8,334.9 366.6,335.3 366.5,335.6 366.3,336.0 366.1,336.3 366.0,336.7 366.0,337.0 366.0,337.3 366.0,337.7 366.1,338.0 366.3,338.3 366.5,338.6 366.7,338.9 367.0,339.2 367.2,339.5 367.4,339.8 367.7,340.1 367.8,340.5 368.0,340.8 368.0,341.1 368.1,341.4 368.0,341.8 367.9,342.1 367.8,342.5 367.6,342.8 367.4,343.1 367.2,343.5 367.0,343.8 366.8,344.2 366.7,344.5 366.6,344.8 366.6,345.1 366.6,345.5 366.6,345.8 366.7,346.1 366.9,346.4 367.1,346.7 367.3,347.1 367.5,347.4 367.7,347.7" fill="none" stroke="#AE7843" stroke-width="1.4"/>
<path d="M374.4,295.2 L374.2,295.5 373.9,295.9 373.7,296.2 373.6,296.5 373.5,296.8 373.4,297.2 373.4,297.5 373.5,297.8 373.6,298.2 373.7,298.5 373.9,298.9 374.1,299.3 374.3,299.6 374.4,300.0 374.5,300.3 374.6,300.7 374.7,301.0 374.6,301.4 374.5,301.7 374.4,302.0 374.2,302.3 374.0,302.7 373.7,303.0 373.4,303.3 373.2,303.6 372.9,303.9 372.7,304.2 372.6,304.5 372.5,304.8 372.4,305.2 372.4,305.5 372.5,305.9 372.6,306.2 372.8,306.6 372.9,307.0 373.1,307.3 373.3,307.7 373.4,308.0 373.5,308.4 373.6,308.7 373.6,309.1 373.6,309.4 373.5,309.7 373.3,310.1 373.1,310.4 372.8,310.7 372.6,311.0 372.3,311.3 372.1,311.6 371.9,311.9 371.7,312.3 371.5,312.6 371.5,312.9 371.4,313.3 371.5,313.6 371.6,314.0 371.7,314.3 371.9,314.7 372.1,315.0 372.3,315.4 372.4,315.7 372.6,316.1 372.7,316.5 372.7,316.8 372.7,317.1 372.7,317.5 372.6,317.8 372.4,318.1 372.2,318.4 371.9,318.8 371.7,319.1 371.4,319.4 371.2,319.7 371.0,320.0 370.8,320.4 370.7,320.7 370.7,321.0 370.7,321.4 370.8,321.7 370.9,322.1 371.1,322.4 371.3,322.8 371.5,323.1 371.7,323.5 371.8,323.8 372.0,324.2 372.1,324.5 372.1,324.9 372.1,325.2 372.1,325.5 371.9,325.9 371.8,326.2 371.6,326.5 371.3,326.9 371.1,327.2 370.9,327.5 370.7,327.9 370.5,328.2 370.4,328.5 370.4,328.9 370.4,329.2 370.4,329.6 370.5,329.9 370.7,330.2 370.9,330.6 371.1,330.9 371.4,331.3 371.6,331.6 371.8,331.9 371.9,332.3 372.0,332.6 372.1,332.9 372.1,333.3 372.0,333.6 371.9,333.9 371.7,334.3 371.5,334.6 371.3,335.0 371.1,335.3 370.9,335.7 370.8,336.0 370.6,336.4 370.6,336.7 370.5,337.0 370.6,337.4 370.7,337.7 370.8,338.0 371.0,338.4 371.2,338.7 371.5,339.0 371.7,339.4 371.9,339.7 372.1,340.0 372.3,340.4 372.4,340.7 372.4,341.0 372.4,341.4 372.3,341.7 372.1,342.1 372.0,342.4 371.7,342.7 371.5,343.1 371.3,343.4 371.1,343.8 370.9,344.1 370.8,344.4 370.7,344.8 370.7,345.1 370.7,345.4 370.8,345.8 371.0,346.1 371.1,346.4 371.3,346.8 371.5,347.1 371.7,347.5 371.9,347.8 372.0,348.2 372.1,348.5 372.2,348.8" fill="none" stroke="#AE7843" stroke-width="1.4"/>
<path d="M344.0,296.0 L343.8,296.3 343.7,296.7 343.5,297.0 343.4,297.3 343.4,297.6 343.4,297.9 343.4,298.3 343.5,298.6 343.6,298.9 343.8,299.1 344.0,299.4 344.3,299.7 344.5,300.0 344.7,300.3 345.0,300.5 345.2,300.8 345.4,301.1 345.5,301.4 345.6,301.7 345.6,302.0 345.6,302.3 345.5,302.7 345.4,303.0 345.3,303.3 345.2,303.6 345.0,304.0 344.8,304.3 344.7,304.6 344.6,305.0 344.5,305.3 344.4,305.6 344.4,305.9 344.5,306.2 344.6,306.5 344.7,306.8 344.9,307.1 345.1,307.4 345.4,307.7 345.6,307.9 345.9,308.2 346.1,308.5 346.3,308.8 346.5,309.1 346.6,309.4 346.7,309.7 346.7,310.0 346.7,310.3 346.6,310.6 346.5,310.9 346.4,311.3 346.3,311.6 346.1,311.9 346.0,312.3 345.8,312.6 345.7,312.9 345.6,313.3 345.6,313.6 345.6,313.9 345.7,314.2 345.8,314.5 345.9,314.8 346.1,315.1 346.4,315.3 346.6,315.6 346.9,315.9 347.1,316.2 347.3,316.4 347.5,316.7 347.7,317.0 347.8,317.3 347.9,317.6 348.0,317.9 347.9,318.2 347.9,318.5 347.8,318.9 347.6,319.2 347.5,319.5 347.3,319.9 347.2,320.2 347.1,320.6 347.0,320.9 346.9,321.2 346.9,321.5 346.9,321.8 347.0,322.2 347.1,322.4 347.3,322.7 347.5,323.0 347.7,323.3 348.0,323.5 348.2,323.8 348.5,324.1 348.7,324.4 348.9,324.6 349.1,324.9 349.2,325.2 349.3,325.5 349.3,325.8 349.3,326.1 349.3,326.4 349.2,326.8 349.1,327.1 349.0,327.4 348.8,327.8 348.7,328.1 348.6,328.5 348.5,328.8 348.5,329.2 348.5,329.5 348.6,329.8 348.7,330.1 348.8,330.4 349.0,330.6 349.3,330.9 349.5,331.1 349.8,331.4 350.1,331.6 350.4,331.9 350.6,332.1 350.9,332.3 351.1,332.6 351.2,332.9 351.4,333.2 351.4,333.5 351.4,333.8 351.4,334.1 351.4,334.4 351.3,334.8 351.2,335.2 351.1,335.5 351.0,335.9 351.0,336.2 350.9,336.6 350.9,336.9 351.0,337.2 351.0,337.5 351.2,337.8 351.3,338.0 351.6,338.3 351.8,338.5 352.1,338.8 352.4,339.0 352.6,339.2 352.9,339.5 353.2,339.7 353.4,340.0 353.6,340.2 353.8,340.5 353.9,340.8 353.9,341.1 353.9,341.4 353.9,341.8 353.9,342.1 353.8,342.5 353.7,342.8 353.6,343.2 353.5,343.5 353.4,343.9 353.4,344.2 376.0,350.0 376.3,349.7 376.5,349.4 376.6,349.1 376.7,348.7 376.8,348.4 376.7,348.0 376.6,347.7 376.5,347.3 376.3,346.9 376.1,346.5 375.9,346.2 375.8,345.8 375.6,345.4 375.5,345.1 375.5,344.7 375.5,344.4 375.6,344.1 375.7,343.7 375.9,343.4 376.1,343.0 376.3,342.7 376.6,342.4 376.8,342.0 377.0,341.7 377.2,341.3 377.3,341.0 377.4,340.6 377.3,340.3 377.3,339.9 377.1,339.6 377.0,339.2 376.7,338.9 376.5,338.5 376.3,338.2 376.1,337.8 375.9,337.5 375.8,337.1 375.8,336.8 375.8,336.4 375.8,336.1 376.0,335.7 376.1,335.4 376.3,335.0 376.6,334.7 376.8,334.4 377.0,334.0 377.2,333.7 377.4,333.3 377.5,333.0 377.6,332.6 377.5,332.3 377.5,331.9 377.3,331.6 377.2,331.2 377.0,330.9 376.7,330.5 376.5,330.2 376.3,329.8 376.2,329.4 376.1,329.1 376.0,328.7 376.0,328.4 376.1,328.0 376.3,327.7 376.5,327.3 376.7,327.0 377.0,326.7 377.2,326.4 377.5,326.0 377.7,325.7 377.9,325.4 378.0,325.0 378.1,324.7 378.1,324.3 378.0,324.0 377.9,323.6 377.7,323.3 377.6,322.9 377.4,322.5 377.2,322.1 377.0,321.8 376.9,321.4 376.8,321.0 376.8,320.7 376.9,320.3 377.0,320.0 377.2,319.7 377.4,319.3 377.6,319.0 377.9,318.7 378.2,318.4 378.5,318.1 378.7,317.8 378.9,317.5 379.0,317.1 379.1,316.8 379.1,316.4 379.1,316.1 379.0,315.7 378.9,315.3 378.7,315.0 378.5,314.6 378.4,314.2 378.2,313.8 378.1,313.4 378.1,313.1 378.1,312.7 378.1,312.4 378.2,312.0 378.4,311.7 378.7,311.4 378.9,311.1 379.2,310.8 379.5,310.5 379.8,310.2 380.0,309.9 380.2,309.6 380.4,309.2 380.4,308.9 380.5,308.5 380.4,308.2 380.3,307.8 380.2,307.4 380.1,307.1 379.9,306.7 379.7,306.3 379.6,305.9 379.5,305.5 379.5,305.2 379.5,304.8 379.6,304.5 379.7,304.1 379.9,303.8 380.1,303.5 380.4,303.2 380.7,302.9 381.0,302.6 381.3,302.3 381.5,302.0 381.7,301.7 381.9,301.4 382.0,301.0 382.0,300.7 381.9,300.3 381.8,299.9 381.7,299.6 381.6,299.2 381.4,298.8 381.2,298.4 381.1,298.0 381.0,297.7 380.9,297.3 380.9,297.0 381.0,296.6 381.1,296.3 381.3,296.0 381.5,295.7 381.7,295.3 382.0,295.0 Z" fill="none" stroke="#AE7843" stroke-width="1.4"/></g>
<path d="M358.6,157.7 C376.7,154.6 407.0,188.1 406.1,234.3 C405.3,273.1 379.6,308.6 359.6,306.8 C350.5,305.9 331.3,270.5 330.8,234.6 C330.2,190.0 340.6,160.8 358.6,157.7 Z" fill="#C3DFF0" stroke="#8DBDD8" stroke-width="2.3"/>
<g mask="url(#mB1)">
<path d="M392.5,28.0 L392.2,28.5 391.9,29.1 391.4,29.8 390.9,30.7 390.3,31.7 389.6,32.9 388.8,34.3 387.8,36.0 386.7,37.8 385.6,39.8 384.5,41.7 383.5,43.5 382.6,45.2 381.7,46.9 380.8,48.6 380.0,50.3 379.1,52.1 378.2,54.0 377.3,56.1 376.3,58.3 375.3,60.7 374.4,63.0 373.5,65.2 372.7,67.3 372.0,69.1 371.5,70.7 370.9,72.3 370.4,73.8 369.9,75.6 369.2,77.6 368.4,80.0 367.5,82.8 366.6,85.8 365.7,88.7 364.7,91.5 363.8,94.0 362.9,96.2 362.0,98.1 361.0,100.0 360.1,101.6 359.3,103.2 358.5,104.6 357.8,105.8 357.2,106.9 356.6,107.8 356.1,108.7 355.5,109.5 355.0,110.4 354.5,111.4 354.0,112.3 353.6,113.3 353.1,114.2 352.5,115.1 351.8,115.8 351.0,116.4 350.0,116.9 349.0,117.4 347.9,117.8 346.7,118.1 345.5,118.4 344.1,118.6 342.6,118.8 341.0,119.0 339.4,119.1 337.9,119.1 336.5,119.0 335.3,118.8 334.2,118.5 333.1,118.2 332.1,117.8 331.1,117.4 330.2,117.1 329.1,116.8 327.9,116.5 326.8,116.1 325.8,115.9 325.2,115.7 325.1,115.8 325.7,116.1 326.8,116.5 328.3,117.1 329.9,117.8 331.4,118.4 332.7,119.0 333.7,119.5 334.7,120.0 335.6,120.5 336.4,121.0 337.1,121.6 337.8,122.2 338.3,122.9 338.8,123.6 339.1,124.4 339.4,125.2 339.9,125.9 340.4,126.6 341.1,127.2 341.8,127.9 342.6,128.5 343.5,129.1 344.5,129.5 345.5,129.8 346.6,130.0 347.8,130.0 349.1,129.9 350.5,129.8 351.8,129.5 353.1,129.2 354.4,128.8 355.6,128.2 356.9,127.5 358.2,126.8 359.4,126.1 360.7,125.4 362.0,124.7 363.3,123.9 364.6,123.2 365.9,122.4 367.2,121.6 368.4,120.9 369.6,120.2 370.8,119.5 371.9,118.8 372.9,118.2 373.9,117.6 374.7,117.1 375.3,116.7 375.8,116.5 376.2,116.3 376.5,116.1 376.7,115.7 377.0,115.2 377.2,114.5 377.3,113.8 377.4,113.0 377.5,112.0 377.6,110.8 377.9,109.3 378.3,107.5 378.8,105.3 379.4,103.0 380.0,100.5 380.7,97.8 381.4,95.2 382.2,92.4 383.2,89.3 384.1,86.1 385.1,82.9 386.0,80.1 386.7,77.6 387.2,75.7 387.5,74.2 387.8,73.0 388.0,71.8 388.3,70.5 388.8,69.0 389.5,67.2 390.3,65.2 391.2,63.1 392.1,60.9 393.1,58.8 394.0,56.7 394.9,54.7 395.8,52.6 396.7,50.6 397.6,48.5 398.5,46.5 399.3,44.4 400.1,42.2 400.9,40.0 401.8,37.7 402.5,35.5 403.2,33.6 403.7,32.0 404.1,30.8 404.4,29.9 404.6,29.2 404.8,28.7 404.9,28.3 405.0,28.0 Z" fill="#F8B5B8"/>
<g clip-path="url(#cB1)" fill="none" stroke="#E77F85" stroke-width="1.15">
<path d="M396.2,28.0 L395.7,29.0 395.2,30.1 394.7,31.1 394.2,32.1 393.6,33.1 393.1,34.2 392.6,35.2 392.1,36.2 391.5,37.3 391.0,38.3 390.5,39.3 390.0,40.4 389.4,41.4 388.9,42.4 388.4,43.5 387.9,44.5 387.4,45.5 386.9,46.6 386.3,47.6 385.8,48.6 385.3,49.7 384.8,50.7 384.3,51.8 383.8,52.8 383.3,53.9 382.9,55.0 382.4,56.0 381.9,57.1 381.5,58.1 381.0,59.2 380.6,60.3 380.1,61.3 379.7,62.4 379.2,63.5 378.8,64.6 378.4,65.6 377.9,66.7 377.5,67.8 377.1,68.9 376.8,70.0 376.4,71.1 376.1,72.2 375.8,73.3 375.4,74.4 375.1,75.5 374.8,76.7 374.4,77.8 374.1,78.9 373.7,80.0 373.4,81.1 373.0,82.2 372.7,83.3 372.3,84.4 372.0,85.5 371.6,86.6 371.3,87.7 370.9,88.8 370.6,89.9 370.2,91.0 369.8,92.1 369.5,93.2 369.1,94.3 368.7,95.4 368.3,96.5 367.8,97.6 367.4,98.6 366.9,99.7 366.4,100.7 366.0,101.8 365.5,102.8 365.0,103.9 364.6,105.0 364.2,106.0 363.8,107.1 363.4,108.2 363.0,109.3 362.6,110.4 362.3,111.5"/>
<path d="M399.1,28.0 L398.7,29.1 398.2,30.1 397.7,31.1 397.3,32.2 396.8,33.2 396.3,34.3 395.8,35.3 395.4,36.4 394.9,37.4 394.4,38.5 393.9,39.5 393.4,40.6 393.0,41.6 392.5,42.7 392.0,43.7 391.5,44.8 391.0,45.8 390.5,46.9 390.0,47.9 389.5,48.9 389.1,50.0 388.6,51.0 388.1,52.1 387.6,53.1 387.1,54.2 386.6,55.2 386.2,56.3 385.7,57.4 385.3,58.4 384.8,59.5 384.3,60.6 383.9,61.6 383.4,62.7 383.0,63.7 382.6,64.8 382.1,65.9 381.7,67.0 381.3,68.0 380.9,69.1 380.5,70.2 380.2,71.3 379.9,72.5 379.6,73.6 379.3,74.7 379.0,75.8 378.7,76.9 378.4,78.0 378.0,79.1 377.7,80.2 377.3,81.3 377.0,82.4 376.6,83.5 376.3,84.6 376.0,85.7 375.6,86.8 375.3,87.9 374.9,89.0 374.6,90.2 374.2,91.3 373.9,92.4 373.5,93.5 373.2,94.5 372.8,95.6 372.4,96.7 372.0,97.8 371.6,98.9 371.2,100.0 370.8,101.0 370.4,102.1 370.0,103.2 369.6,104.3 369.2,105.3 368.8,106.4 368.5,107.5 368.1,108.6 367.8,109.7"/>
<path d="M402.0,28.0 L401.6,29.1 401.2,30.1 400.8,31.2 400.3,32.3 399.9,33.3 399.5,34.4 399.1,35.5 398.6,36.5 398.2,37.6 397.8,38.7 397.4,39.7 396.9,40.8 396.5,41.9 396.0,42.9 395.6,44.0 395.1,45.0 394.7,46.1 394.2,47.1 393.7,48.2 393.3,49.2 392.8,50.3 392.3,51.3 391.8,52.4 391.4,53.4 390.9,54.5 390.4,55.5 390.0,56.6 389.5,57.7 389.0,58.7 388.6,59.8 388.1,60.8 387.7,61.9 387.2,62.9 386.8,64.0 386.3,65.1 385.9,66.1 385.5,67.2 385.0,68.3 384.7,69.4 384.3,70.5 384.0,71.6 383.8,72.7 383.5,73.8 383.2,74.9 382.9,76.1 382.6,77.2 382.3,78.3 382.0,79.4 381.6,80.5 381.3,81.6 381.0,82.7 380.6,83.8 380.3,84.9 379.9,86.0 379.6,87.1 379.3,88.2 378.9,89.3 378.6,90.4 378.2,91.5 377.9,92.6 377.6,93.7 377.2,94.8 376.9,95.9 376.5,97.0 376.2,98.1 375.9,99.2 375.5,100.3 375.2,101.3 374.8,102.4 374.5,103.5 374.1,104.6 373.8,105.7 373.5,106.8 373.2,107.9 372.9,109.1 372.6,110.2 372.3,111.3"/>
</g>
<path d="M392.5,28.0 L392.2,28.5 391.9,29.1 391.4,29.8 390.9,30.7 390.3,31.7 389.6,32.9 388.8,34.3 387.8,36.0 386.7,37.8 385.6,39.8 384.5,41.7 383.5,43.5 382.6,45.2 381.7,46.9 380.8,48.6 380.0,50.3 379.1,52.1 378.2,54.0 377.3,56.1 376.3,58.3 375.3,60.7 374.4,63.0 373.5,65.2 372.7,67.3 372.0,69.1 371.5,70.7 370.9,72.3 370.4,73.8 369.9,75.6 369.2,77.6 368.4,80.0 367.5,82.8 366.6,85.8 365.7,88.7 364.7,91.5 363.8,94.0 362.9,96.2 362.0,98.1 361.0,100.0 360.1,101.6 359.3,103.2 358.5,104.6 357.8,105.8 357.2,106.9 356.6,107.8 356.1,108.7 355.5,109.5 355.0,110.4 354.5,111.4 354.0,112.3 353.6,113.3 353.1,114.2 352.5,115.1 351.8,115.8 351.0,116.4 350.0,116.9 349.0,117.4 347.9,117.8 346.7,118.1 345.5,118.4 344.1,118.6 342.6,118.8 341.0,119.0 339.4,119.1 337.9,119.1 336.5,119.0 335.3,118.8 334.2,118.5 333.1,118.2 332.1,117.8 331.1,117.4 330.2,117.1 329.1,116.8 327.9,116.5 326.8,116.1 325.8,115.9 325.2,115.7 325.1,115.8 325.7,116.1 326.8,116.5 328.3,117.1 329.9,117.8 331.4,118.4 332.7,119.0 333.7,119.5 334.7,120.0 335.6,120.5 336.4,121.0 337.1,121.6 337.8,122.2 338.3,122.9 338.8,123.6 339.1,124.4 339.4,125.2 339.9,125.9 340.4,126.6 341.1,127.2 341.8,127.9 342.6,128.5 343.5,129.1 344.5,129.5 345.5,129.8 346.6,130.0 347.8,130.0 349.1,129.9 350.5,129.8 351.8,129.5 353.1,129.2 354.4,128.8 355.6,128.2 356.9,127.5 358.2,126.8 359.4,126.1 360.7,125.4 362.0,124.7 363.3,123.9 364.6,123.2 365.9,122.4 367.2,121.6 368.4,120.9 369.6,120.2 370.8,119.5 371.9,118.8 372.9,118.2 373.9,117.6 374.7,117.1 375.3,116.7 375.8,116.5 376.2,116.3 376.5,116.1 376.7,115.7 377.0,115.2 377.2,114.5 377.3,113.8 377.4,113.0 377.5,112.0 377.6,110.8 377.9,109.3 378.3,107.5 378.8,105.3 379.4,103.0 380.0,100.5 380.7,97.8 381.4,95.2 382.2,92.4 383.2,89.3 384.1,86.1 385.1,82.9 386.0,80.1 386.7,77.6 387.2,75.7 387.5,74.2 387.8,73.0 388.0,71.8 388.3,70.5 388.8,69.0 389.5,67.2 390.3,65.2 391.2,63.1 392.1,60.9 393.1,58.8 394.0,56.7 394.9,54.7 395.8,52.6 396.7,50.6 397.6,48.5 398.5,46.5 399.3,44.4 400.1,42.2 400.9,40.0 401.8,37.7 402.5,35.5 403.2,33.6 403.7,32.0 404.1,30.8 404.4,29.9 404.6,29.2 404.8,28.7 404.9,28.3 405.0,28.0 Z" fill="none" stroke="#EC8B90" stroke-width="1"/>
</g>
<g mask="url(#mB2)">
<path d="M324.7,349.0 L325.6,348.9 326.8,348.7 328.3,348.4 329.8,348.2 331.3,347.8 332.5,347.4 333.5,346.9 334.3,346.4 335.1,345.8 335.8,345.1 336.5,344.4 337.2,343.5 337.9,342.4 338.6,341.2 339.2,339.8 339.8,338.5 340.5,337.3 341.1,336.4 341.7,335.8 342.3,335.4 342.9,335.1 343.5,335.0 344.2,334.9 345.0,334.9 345.9,334.9 346.9,335.1 347.9,335.3 349.0,335.6 350.1,336.0 351.3,336.4 352.5,336.9 353.8,337.5 355.1,338.1 356.4,338.9 357.8,339.6 359.1,340.3 360.4,341.0 361.7,341.8 363.0,342.6 364.3,343.4 365.7,344.2 367.0,345.0 368.4,345.6 369.9,346.0 371.4,346.5 372.9,347.1 374.3,348.1 375.4,349.8 376.3,352.1 376.9,355.0 377.4,358.3 377.9,361.8 378.5,365.5 379.3,369.3 380.4,373.2 381.5,377.4 382.8,381.7 384.2,386.2 385.6,390.5 387.1,394.7 388.6,398.8 390.3,403.0 392.0,407.1 393.7,411.0 395.4,414.8 396.9,418.2 398.4,421.4 399.8,424.3 401.2,427.1 402.5,429.6 403.7,431.8 404.7,433.8 405.7,435.4 406.8,436.8 407.8,437.9 408.5,438.7 408.6,439.4 408.0,440.0 406.3,440.5 403.8,440.9 400.6,441.1 397.4,441.1 394.4,440.8 392.0,440.0 390.4,438.7 389.2,437.0 388.2,435.0 387.3,432.7 386.4,430.4 385.2,428.0 383.7,425.7 382.2,423.3 380.5,420.9 378.8,418.2 377.1,415.4 375.4,412.3 373.7,408.9 372.1,405.1 370.4,401.2 368.7,397.1 367.1,393.0 365.6,388.9 364.2,384.6 362.9,380.1 361.6,375.6 360.3,371.2 359.1,367.1 357.8,363.5 356.5,360.4 355.2,357.7 353.8,355.3 352.5,353.2 351.2,351.3 350.0,349.8 348.9,348.6 347.9,347.7 346.9,347.1 346.0,346.8 344.8,346.6 343.5,346.5 341.8,346.6 339.8,347.0 337.6,347.5 335.5,348.1 333.7,348.7 332.5,349.0 Z" fill="#F8B5B8"/>
<g clip-path="url(#cB2)" fill="none" stroke="#E77F85" stroke-width="1.15">
<path d="M358.7,352.0 L359.3,353.1 359.8,354.2 360.4,355.3 360.9,356.4 361.4,357.6 361.9,358.7 362.4,359.8 362.8,361.0 363.3,362.2 363.7,363.3 364.1,364.5 364.5,365.7 364.9,366.9 365.3,368.1 365.6,369.3 366.0,370.5 366.3,371.7 366.7,372.9 367.0,374.1 367.3,375.3 367.7,376.5 368.0,377.7 368.4,378.9 368.7,380.1 369.0,381.3 369.4,382.5 369.8,383.7 370.1,384.9 370.5,386.1 370.9,387.3 371.3,388.5 371.7,389.7 372.2,390.9 372.6,392.0 373.0,393.2 373.4,394.4 373.9,395.6 374.3,396.7 374.8,397.9 375.3,399.1 375.7,400.2 376.2,401.4 376.7,402.5 377.2,403.7 377.7,404.8 378.2,406.0 378.7,407.1 379.2,408.3 379.7,409.4 380.2,410.6 380.8,411.7 381.3,412.8 381.9,413.9 382.5,415.0 383.1,416.1 383.7,417.2 384.3,418.3 384.9,419.4 385.6,420.5 386.2,421.5 386.9,422.6 387.5,423.7 388.2,424.7 388.8,425.8 389.5,426.9 390.1,428.0 390.7,429.0 391.4,430.1 392.0,431.2 392.6,432.3 393.2,433.4 393.8,434.5 394.4,435.6 395.0,436.7 395.6,437.8 396.2,438.9 396.8,440.0"/>
<path d="M364.3,352.1 L364.8,353.2 365.2,354.3 365.6,355.5 366.1,356.6 366.5,357.8 366.9,358.9 367.3,360.1 367.7,361.3 368.1,362.4 368.4,363.6 368.8,364.8 369.2,366.0 369.5,367.2 369.8,368.4 370.2,369.6 370.5,370.8 370.9,372.0 371.2,373.1 371.5,374.3 371.9,375.5 372.2,376.7 372.5,377.9 372.9,379.1 373.2,380.3 373.6,381.5 373.9,382.7 374.3,383.9 374.7,385.1 375.1,386.3 375.4,387.4 375.8,388.6 376.2,389.8 376.7,391.0 377.1,392.1 377.5,393.3 377.9,394.5 378.4,395.6 378.8,396.8 379.3,397.9 379.7,399.1 380.2,400.3 380.6,401.4 381.1,402.6 381.6,403.7 382.1,404.8 382.6,406.0 383.1,407.1 383.6,408.3 384.1,409.4 384.6,410.5 385.1,411.6 385.6,412.8 386.2,413.9 386.7,415.0 387.3,416.1 387.9,417.2 388.4,418.3 389.0,419.4 389.6,420.5 390.2,421.6 390.8,422.6 391.5,423.7 392.1,424.8 392.7,425.9 393.3,426.9 393.9,428.0 394.5,429.1 395.1,430.2 395.7,431.3 396.3,432.4 396.9,433.5 397.5,434.5 398.1,435.6 398.7,436.7 399.3,437.8 399.9,438.9 400.5,440.0"/>
<path d="M369.7,352.1 L370.1,353.3 370.4,354.5 370.7,355.6 371.0,356.8 371.4,358.0 371.7,359.2 372.0,360.3 372.3,361.5 372.7,362.7 373.0,363.9 373.3,365.1 373.6,366.3 373.9,367.4 374.2,368.6 374.6,369.8 374.9,371.0 375.2,372.2 375.5,373.4 375.9,374.6 376.2,375.8 376.5,376.9 376.9,378.1 377.2,379.3 377.6,380.5 377.9,381.7 378.3,382.9 378.7,384.0 379.0,385.2 379.4,386.4 379.8,387.5 380.2,388.7 380.6,389.9 381.0,391.0 381.4,392.2 381.8,393.4 382.2,394.5 382.6,395.7 383.1,396.8 383.5,398.0 384.0,399.1 384.4,400.3 384.9,401.4 385.3,402.6 385.8,403.7 386.3,404.8 386.8,406.0 387.2,407.1 387.7,408.2 388.2,409.4 388.7,410.5 389.2,411.6 389.8,412.7 390.3,413.8 390.8,415.0 391.3,416.1 391.9,417.2 392.4,418.3 393.0,419.4 393.5,420.5 394.1,421.6 394.7,422.7 395.2,423.7 395.8,424.8 396.4,425.9 397.0,427.0 397.6,428.1 398.2,429.1 398.8,430.2 399.3,431.3 399.9,432.4 400.5,433.5 401.1,434.6 401.6,435.7 402.2,436.8 402.8,437.8 403.4,438.9 404.0,440.0"/>
</g>
<path d="M324.7,349.0 L325.6,348.9 326.8,348.7 328.3,348.4 329.8,348.2 331.3,347.8 332.5,347.4 333.5,346.9 334.3,346.4 335.1,345.8 335.8,345.1 336.5,344.4 337.2,343.5 337.9,342.4 338.6,341.2 339.2,339.8 339.8,338.5 340.5,337.3 341.1,336.4 341.7,335.8 342.3,335.4 342.9,335.1 343.5,335.0 344.2,334.9 345.0,334.9 345.9,334.9 346.9,335.1 347.9,335.3 349.0,335.6 350.1,336.0 351.3,336.4 352.5,336.9 353.8,337.5 355.1,338.1 356.4,338.9 357.8,339.6 359.1,340.3 360.4,341.0 361.7,341.8 363.0,342.6 364.3,343.4 365.7,344.2 367.0,345.0 368.4,345.6 369.9,346.0 371.4,346.5 372.9,347.1 374.3,348.1 375.4,349.8 376.3,352.1 376.9,355.0 377.4,358.3 377.9,361.8 378.5,365.5 379.3,369.3 380.4,373.2 381.5,377.4 382.8,381.7 384.2,386.2 385.6,390.5 387.1,394.7 388.6,398.8 390.3,403.0 392.0,407.1 393.7,411.0 395.4,414.8 396.9,418.2 398.4,421.4 399.8,424.3 401.2,427.1 402.5,429.6 403.7,431.8 404.7,433.8 405.7,435.4 406.8,436.8 407.8,437.9 408.5,438.7 408.6,439.4 408.0,440.0 406.3,440.5 403.8,440.9 400.6,441.1 397.4,441.1 394.4,440.8 392.0,440.0 390.4,438.7 389.2,437.0 388.2,435.0 387.3,432.7 386.4,430.4 385.2,428.0 383.7,425.7 382.2,423.3 380.5,420.9 378.8,418.2 377.1,415.4 375.4,412.3 373.7,408.9 372.1,405.1 370.4,401.2 368.7,397.1 367.1,393.0 365.6,388.9 364.2,384.6 362.9,380.1 361.6,375.6 360.3,371.2 359.1,367.1 357.8,363.5 356.5,360.4 355.2,357.7 353.8,355.3 352.5,353.2 351.2,351.3 350.0,349.8 348.9,348.6 347.9,347.7 346.9,347.1 346.0,346.8 344.8,346.6 343.5,346.5 341.8,346.6 339.8,347.0 337.6,347.5 335.5,348.1 333.7,348.7 332.5,349.0 Z" fill="none" stroke="#EC8B90" stroke-width="1"/>
</g>
<path d="M362.5,155.5 L369.0,143.8 L364.9,143.8 L364.9,114 L360.1,114 L360.1,143.8 L356.0,143.8 Z" fill="url(#arB1)"/>
<path d="M362.4,310.9 L369.09999999999997,322.4 L364.9,322.4 L364.9,352 L359.9,352 L359.9,322.4 L355.7,322.4 Z" fill="url(#arB2)"/>
<path class="pl" d="M310.9,87.3 L349,122.2"/>
<path class="pl" d="M310.2,145 L366.2,136.2 M310.2,145 L358.2,144.7 M310.2,145 L352.8,153.3"/>
<g filter="url(#soft)"><path d="M606.2,109.2 L605.9,109.5 605.7,109.9 605.5,110.2 605.3,110.6 605.2,110.9 605.2,111.3 605.1,111.7 605.2,112.1 605.2,112.5 605.2,113.0 605.2,113.4 605.2,113.8 605.1,114.2 605.0,114.5 604.8,114.9 604.6,115.2 604.3,115.5 604.0,115.8 603.7,116.1 603.4,116.4 603.2,116.7 602.9,117.1 602.8,117.4 602.7,117.8 602.6,118.2 602.5,118.6 602.5,119.0 602.4,119.4 602.4,119.8 602.3,120.2 602.2,120.6 602.0,120.9 601.8,121.2 601.5,121.5 601.2,121.8 600.9,122.1 600.6,122.4 600.3,122.6 600.0,122.9 599.8,123.3 599.6,123.6 599.5,124.0 599.4,124.4 599.3,124.8 599.3,125.2 599.3,125.6 599.2,126.0 599.1,126.4 599.0,126.8 598.8,127.1 598.6,127.5 598.3,127.8 598.0,128.0 597.7,128.3 597.4,128.6 597.1,128.9 596.8,129.2 596.6,129.5 596.4,129.8 596.3,130.2 596.2,130.6 596.2,131.0 596.1,131.4 596.1,131.8 596.1,132.3 596.0,132.7 595.9,133.0 595.7,133.4 595.5,133.7 595.2,134.0 594.9,134.3 594.6,134.6 594.3,134.9 594.0,135.2 593.8,135.5 593.5,135.8 593.4,136.1 593.2,136.5 593.1,136.9 593.1,137.3 593.0,137.7 593.0,138.1 593.0,138.5 592.9,138.9 592.8,139.3 592.6,139.6 592.4,140.0 592.2,140.3 591.9,140.6 591.6,140.9 591.3,141.2 591.0,141.5 590.8,141.8 590.6,142.1 590.4,142.5 590.3,142.9 590.3,143.3 590.2,143.7 590.3,144.1 590.3,144.5 590.3,144.9 590.3,145.3 590.3,145.7 590.2,146.1 590.0,146.5 589.8,146.8 589.6,147.1 589.4,147.5 589.1,147.8 588.9,148.2 588.7,148.5 588.6,148.9 588.5,149.3 588.5,149.7 588.5,150.1 588.5,150.5 588.6,150.9 588.7,151.3 588.8,151.7 588.8,152.1 588.8,152.5 588.7,152.9 588.6,153.3 588.5,153.6 588.3,154.0 588.1,154.4 587.9,154.7 587.7,155.1 587.5,155.4 587.4,155.8 587.3,156.2 587.3,156.6 587.3,157.0 587.4,157.4 587.5,157.8 587.6,158.2 587.6,158.6 587.7,159.0 587.7,159.4 587.6,159.8 587.5,160.2 587.4,160.5 587.2,160.9 586.9,161.3 586.7,161.6 586.5,162.0 586.3,162.3 586.2,162.7 586.1,163.1 586.1,163.5 586.2,163.9 586.2,164.3 586.3,164.7 586.4,165.1 586.5,165.5 586.5,165.9 586.5,166.3 586.5,166.7 586.4,167.1 624.3,166.9 624.1,166.5 623.7,166.2 623.3,165.9 623.0,165.5 622.6,165.2 622.4,164.8 622.2,164.5 622.1,164.1 622.2,163.7 622.4,163.3 622.6,162.9 622.9,162.5 623.2,162.0 623.4,161.6 623.6,161.2 623.6,160.8 623.6,160.4 623.4,160.0 623.1,159.7 622.8,159.4 622.4,159.1 621.9,158.8 621.5,158.6 621.2,158.3 620.9,158.0 620.7,157.7 620.6,157.3 620.6,156.9 620.7,156.5 620.8,156.0 621.0,155.5 621.2,155.0 621.3,154.6 621.4,154.2 621.3,153.8 621.2,153.5 621.0,153.2 620.6,152.9 620.2,152.6 619.8,152.3 619.4,152.0 619.1,151.6 618.8,151.3 618.6,151.0 618.6,150.6 618.7,150.2 618.8,149.7 619.0,149.3 619.3,148.9 619.6,148.4 619.8,148.0 619.9,147.6 620.0,147.2 619.9,146.8 619.7,146.5 619.4,146.1 619.1,145.8 618.7,145.5 618.3,145.2 617.9,144.9 617.6,144.5 617.5,144.2 617.4,143.8 617.4,143.4 617.6,143.0 617.8,142.6 618.1,142.1 618.3,141.7 618.6,141.3 618.8,140.9 618.9,140.5 618.8,140.1 618.7,139.7 618.5,139.4 618.2,139.0 617.8,138.7 617.4,138.4 617.1,138.0 616.8,137.6 616.6,137.3 616.5,136.9 616.5,136.5 616.7,136.1 616.9,135.7 617.2,135.3 617.6,134.9 617.9,134.5 618.2,134.2 618.4,133.8 618.5,133.5 618.5,133.1 618.4,132.7 618.2,132.3 617.9,131.9 617.6,131.5 617.3,131.1 617.1,130.7 617.0,130.3 616.9,129.9 616.9,129.5 617.1,129.2 617.4,128.8 617.7,128.4 618.0,128.1 618.4,127.7 618.6,127.3 618.9,126.9 619.0,126.5 619.0,126.2 618.9,125.8 618.7,125.4 618.4,125.0 618.0,124.6 617.7,124.3 617.4,123.9 617.2,123.5 617.0,123.1 617.0,122.7 617.1,122.4 617.3,122.0 617.5,121.6 617.8,121.2 618.2,120.8 618.5,120.4 618.7,120.0 618.8,119.6 618.8,119.2 618.7,118.8 618.5,118.5 618.2,118.1 617.8,117.8 617.4,117.4 617.0,117.1 616.7,116.8 616.4,116.5 616.3,116.2 616.2,115.9 616.2,115.5 616.3,115.1 616.4,114.6 616.6,114.1 616.6,113.6 616.6,113.2 616.6,112.7 616.4,112.3 616.1,112.0 615.8,111.8 615.3,111.7 614.8,111.6 614.3,111.5 613.8,111.5 613.4,111.4 612.9,111.3 612.6,111.1 612.3,110.8 612.2,110.4 612.0,110.0 612.0,109.5 612.0,109.0 Z" fill="#D8A674"/>
<path d="M607.4,109.2 L607.3,109.5 607.2,109.9 607.1,110.2 607.1,110.6 607.1,110.9 607.0,111.3 607.0,111.6 607.0,112.0 607.0,112.3 607.0,112.7 607.0,113.0 607.0,113.4 606.9,113.8 606.9,114.1 606.8,114.5 606.7,114.8 606.6,115.2 606.5,115.5 606.4,115.9 606.3,116.2 606.2,116.5 606.0,116.9 605.9,117.2 605.8,117.6 605.6,117.9 605.5,118.3 605.4,118.6 605.3,119.0 605.2,119.4 605.2,119.7 605.1,120.1 604.9,120.5 604.8,120.8 604.7,121.2 604.5,121.5 604.4,121.9 604.2,122.2 604.0,122.5 603.8,122.9 603.7,123.2 603.5,123.6 603.3,123.9 603.2,124.3 603.1,124.6 603.0,125.0 602.8,125.3 602.7,125.7 602.6,126.1 602.5,126.4 602.4,126.8 602.3,127.2 602.2,127.5 602.0,127.9 601.9,128.2 601.7,128.6 601.5,128.9 601.3,129.2 601.1,129.6 601.0,129.9 600.8,130.3 600.6,130.6 600.5,131.0 600.4,131.3 600.3,131.7 600.1,132.1 600.0,132.4 599.9,132.8 599.8,133.2 599.7,133.5 599.6,133.9 599.4,134.3 599.3,134.6 599.1,135.0 598.9,135.3 598.8,135.6 598.6,136.0 598.4,136.3 598.3,136.7 598.1,137.0 598.0,137.4 597.9,137.7 597.8,138.1 597.7,138.4 597.6,138.8 597.5,139.2 597.4,139.6 597.3,139.9 597.2,140.3 597.1,140.6 597.0,141.0 596.8,141.4 596.7,141.7 596.5,142.1 596.4,142.4 596.3,142.8 596.1,143.1 596.0,143.5 595.9,143.8 595.8,144.2 595.8,144.6 595.7,145.0 595.7,145.4 595.6,145.7 595.6,146.1 595.6,146.5 595.5,146.9 595.5,147.3 595.4,147.6 595.3,148.0 595.3,148.4 595.2,148.8 595.1,149.1 595.0,149.5 594.9,149.9 594.9,150.3 594.8,150.6 594.8,151.0 594.7,151.4 594.7,151.8 594.7,152.2 594.7,152.5 594.7,152.9 594.7,153.3 594.7,153.7 594.7,154.1 594.7,154.5 594.6,154.8 594.6,155.2 594.5,155.6 594.5,156.0 594.4,156.3 594.4,156.7 594.3,157.1 594.3,157.5 594.3,157.8 594.2,158.2 594.2,158.6 594.2,159.0 594.2,159.4 594.3,159.7 594.3,160.1 594.2,160.5 594.2,160.9 594.2,161.3 594.2,161.7 594.1,162.0 594.0,162.4 593.9,162.8 593.9,163.2 593.8,163.5 593.7,163.9 593.7,164.3 593.6,164.7 593.6,165.1 593.6,165.5 593.5,165.8 593.5,166.2 593.5,166.6 593.5,167.0" fill="none" stroke="#AE7843" stroke-width="1.0"/>
<path d="M608.5,109.1 L608.5,109.5 608.5,109.8 608.5,110.1 608.6,110.5 608.6,110.8 608.6,111.1 608.7,111.5 608.7,111.8 608.8,112.1 608.9,112.5 608.9,112.8 609.0,113.1 609.0,113.5 609.1,113.8 609.1,114.1 609.1,114.5 609.1,114.8 609.1,115.2 609.0,115.5 609.0,115.9 608.9,116.2 608.8,116.6 608.7,116.9 608.6,117.3 608.6,117.6 608.5,118.0 608.4,118.3 608.4,118.7 608.3,119.1 608.3,119.4 608.2,119.8 608.2,120.2 608.1,120.5 608.0,120.9 607.9,121.3 607.8,121.6 607.7,122.0 607.6,122.3 607.4,122.7 607.3,123.0 607.1,123.4 607.0,123.7 606.9,124.1 606.8,124.4 606.7,124.8 606.6,125.2 606.5,125.5 606.4,125.9 606.4,126.3 606.3,126.6 606.2,127.0 606.1,127.4 606.0,127.7 605.9,128.1 605.8,128.5 605.7,128.8 605.5,129.2 605.4,129.5 605.2,129.9 605.1,130.2 604.9,130.6 604.8,130.9 604.7,131.3 604.6,131.6 604.5,132.0 604.4,132.4 604.3,132.7 604.2,133.1 604.1,133.5 604.1,133.9 604.0,134.2 603.9,134.6 603.8,135.0 603.6,135.3 603.5,135.7 603.4,136.0 603.2,136.4 603.1,136.7 603.0,137.1 602.9,137.4 602.8,137.8 602.7,138.1 602.6,138.5 602.5,138.9 602.5,139.2 602.4,139.6 602.4,140.0 602.4,140.4 602.3,140.7 602.3,141.1 602.2,141.5 602.1,141.8 602.0,142.2 601.9,142.5 601.8,142.9 601.7,143.3 601.6,143.6 601.6,144.0 601.5,144.4 601.4,144.7 601.4,145.1 601.4,145.5 601.3,145.9 601.3,146.2 601.3,146.6 601.4,147.0 601.4,147.4 601.4,147.8 601.3,148.1 601.3,148.5 601.3,148.9 601.3,149.3 601.2,149.6 601.1,150.0 601.1,150.4 601.0,150.8 601.0,151.1 601.0,151.5 601.0,151.9 601.0,152.3 601.0,152.7 601.0,153.0 601.0,153.4 601.1,153.8 601.1,154.2 601.2,154.5 601.2,154.9 601.2,155.3 601.2,155.7 601.2,156.0 601.2,156.4 601.2,156.8 601.2,157.1 601.2,157.5 601.2,157.9 601.2,158.3 601.2,158.6 601.2,159.0 601.2,159.4 601.2,159.8 601.2,160.1 601.3,160.5 601.3,160.9 601.3,161.3 601.3,161.7 601.3,162.0 601.3,162.4 601.3,162.8 601.3,163.2 601.2,163.6 601.1,163.9 601.1,164.3 601.0,164.7 601.0,165.1 601.0,165.5 600.9,165.8 600.9,166.2 600.9,166.6 600.9,167.0" fill="none" stroke="#AE7843" stroke-width="1.0"/>
<path d="M609.7,109.1 L609.7,109.4 609.8,109.7 609.9,110.1 610.0,110.4 610.1,110.7 610.3,111.0 610.4,111.3 610.5,111.6 610.6,111.9 610.8,112.2 610.9,112.5 611.1,112.8 611.2,113.2 611.3,113.5 611.4,113.8 611.5,114.2 611.5,114.5 611.6,114.8 611.6,115.2 611.6,115.5 611.6,115.9 611.6,116.2 611.5,116.6 611.5,117.0 611.5,117.3 611.5,117.7 611.4,118.0 611.4,118.4 611.4,118.8 611.4,119.1 611.4,119.5 611.4,119.9 611.4,120.2 611.3,120.6 611.3,121.0 611.2,121.4 611.1,121.7 611.1,122.1 611.0,122.4 610.8,122.8 610.7,123.2 610.6,123.5 610.6,123.9 610.5,124.2 610.4,124.6 610.3,125.0 610.3,125.4 610.3,125.7 610.2,126.1 610.2,126.5 610.2,126.9 610.1,127.2 610.1,127.6 610.0,128.0 609.9,128.3 609.8,128.7 609.7,129.1 609.6,129.4 609.5,129.8 609.3,130.1 609.2,130.5 609.1,130.8 609.0,131.2 608.9,131.6 608.8,132.0 608.8,132.3 608.7,132.7 608.6,133.1 608.6,133.5 608.5,133.8 608.5,134.2 608.4,134.6 608.4,134.9 608.3,135.3 608.2,135.7 608.1,136.0 608.0,136.4 607.9,136.8 607.8,137.1 607.7,137.5 607.7,137.8 607.6,138.2 607.6,138.6 607.6,138.9 607.5,139.3 607.5,139.7 607.5,140.1 607.6,140.4 607.6,140.8 607.5,141.2 607.5,141.5 607.5,141.9 607.5,142.3 607.4,142.6 607.3,143.0 607.3,143.4 607.2,143.8 607.2,144.1 607.1,144.5 607.1,144.9 607.1,145.2 607.1,145.6 607.1,146.0 607.1,146.4 607.2,146.7 607.2,147.1 607.3,147.5 607.3,147.9 607.3,148.2 607.3,148.6 607.4,149.0 607.3,149.4 607.3,149.8 607.3,150.1 607.3,150.5 607.3,150.9 607.2,151.3 607.2,151.6 607.2,152.0 607.3,152.4 607.3,152.8 607.4,153.2 607.4,153.5 607.5,153.9 607.6,154.3 607.7,154.6 607.7,155.0 607.8,155.4 607.9,155.7 607.9,156.1 608.0,156.5 608.0,156.8 608.0,157.2 608.0,157.6 608.1,157.9 608.1,158.3 608.1,158.7 608.2,159.1 608.2,159.4 608.2,159.8 608.3,160.2 608.4,160.5 608.4,160.9 608.5,161.3 608.5,161.7 608.5,162.1 608.6,162.4 608.6,162.8 608.6,163.2 608.5,163.6 608.5,164.0 608.5,164.3 608.4,164.7 608.4,165.1 608.4,165.5 608.4,165.9 608.4,166.2 608.4,166.6 608.4,167.0" fill="none" stroke="#AE7843" stroke-width="1.0"/>
<path d="M610.8,109.0 L611.0,109.4 611.1,109.7 611.3,110.0 611.5,110.3 611.7,110.6 611.9,110.9 612.1,111.2 612.3,111.4 612.5,111.7 612.7,112.0 612.9,112.3 613.1,112.6 613.3,112.9 613.5,113.2 613.7,113.5 613.8,113.8 613.9,114.2 614.0,114.5 614.1,114.9 614.2,115.2 614.2,115.6 614.3,115.9 614.3,116.3 614.4,116.6 614.4,117.0 614.4,117.4 614.5,117.7 614.5,118.1 614.6,118.5 614.6,118.8 614.7,119.2 614.7,119.6 614.7,120.0 614.7,120.3 614.7,120.7 614.6,121.1 614.6,121.5 614.5,121.8 614.4,122.2 614.4,122.6 614.3,122.9 614.2,123.3 614.2,123.7 614.2,124.1 614.2,124.4 614.1,124.8 614.1,125.2 614.1,125.6 614.1,125.9 614.1,126.3 614.1,126.7 614.1,127.1 614.1,127.5 614.0,127.8 614.0,128.2 613.9,128.6 613.8,128.9 613.7,129.3 613.6,129.7 613.5,130.0 613.5,130.4 613.4,130.8 613.3,131.2 613.3,131.5 613.2,131.9 613.2,132.3 613.2,132.7 613.1,133.1 613.1,133.4 613.1,133.8 613.0,134.2 613.0,134.6 612.9,134.9 612.9,135.3 612.8,135.7 612.7,136.0 612.7,136.4 612.6,136.8 612.6,137.2 612.6,137.5 612.6,137.9 612.6,138.3 612.6,138.7 612.6,139.0 612.7,139.4 612.7,139.8 612.8,140.1 612.8,140.5 612.8,140.9 612.8,141.3 612.8,141.6 612.8,142.0 612.8,142.4 612.8,142.8 612.8,143.1 612.8,143.5 612.8,143.9 612.8,144.3 612.8,144.6 612.8,145.0 612.8,145.4 612.9,145.8 613.0,146.1 613.0,146.5 613.1,146.9 613.2,147.2 613.2,147.6 613.3,148.0 613.3,148.4 613.4,148.7 613.4,149.1 613.4,149.5 613.4,149.9 613.4,150.3 613.4,150.6 613.4,151.0 613.4,151.4 613.5,151.8 613.5,152.2 613.6,152.5 613.7,152.9 613.8,153.3 613.9,153.6 614.0,154.0 614.1,154.4 614.2,154.7 614.3,155.1 614.4,155.4 614.5,155.8 614.5,156.2 614.6,156.5 614.7,156.9 614.8,157.3 614.8,157.6 614.9,158.0 615.0,158.4 615.1,158.7 615.2,159.1 615.3,159.5 615.4,159.8 615.4,160.2 615.5,160.6 615.6,160.9 615.7,161.3 615.7,161.7 615.8,162.1 615.8,162.4 615.8,162.8 615.8,163.2 615.8,163.6 615.8,164.0 615.8,164.3 615.8,164.7 615.8,165.1 615.8,165.5 615.8,165.9 615.9,166.2 615.9,166.6 616.0,167.0" fill="none" stroke="#AE7843" stroke-width="1.0"/>
<path d="M606.2,109.2 L605.9,109.5 605.7,109.9 605.5,110.2 605.3,110.6 605.2,110.9 605.2,111.3 605.1,111.7 605.2,112.1 605.2,112.5 605.2,113.0 605.2,113.4 605.2,113.8 605.1,114.2 605.0,114.5 604.8,114.9 604.6,115.2 604.3,115.5 604.0,115.8 603.7,116.1 603.4,116.4 603.2,116.7 602.9,117.1 602.8,117.4 602.7,117.8 602.6,118.2 602.5,118.6 602.5,119.0 602.4,119.4 602.4,119.8 602.3,120.2 602.2,120.6 602.0,120.9 601.8,121.2 601.5,121.5 601.2,121.8 600.9,122.1 600.6,122.4 600.3,122.6 600.0,122.9 599.8,123.3 599.6,123.6 599.5,124.0 599.4,124.4 599.3,124.8 599.3,125.2 599.3,125.6 599.2,126.0 599.1,126.4 599.0,126.8 598.8,127.1 598.6,127.5 598.3,127.8 598.0,128.0 597.7,128.3 597.4,128.6 597.1,128.9 596.8,129.2 596.6,129.5 596.4,129.8 596.3,130.2 596.2,130.6 596.2,131.0 596.1,131.4 596.1,131.8 596.1,132.3 596.0,132.7 595.9,133.0 595.7,133.4 595.5,133.7 595.2,134.0 594.9,134.3 594.6,134.6 594.3,134.9 594.0,135.2 593.8,135.5 593.5,135.8 593.4,136.1 593.2,136.5 593.1,136.9 593.1,137.3 593.0,137.7 593.0,138.1 593.0,138.5 592.9,138.9 592.8,139.3 592.6,139.6 592.4,140.0 592.2,140.3 591.9,140.6 591.6,140.9 591.3,141.2 591.0,141.5 590.8,141.8 590.6,142.1 590.4,142.5 590.3,142.9 590.3,143.3 590.2,143.7 590.3,144.1 590.3,144.5 590.3,144.9 590.3,145.3 590.3,145.7 590.2,146.1 590.0,146.5 589.8,146.8 589.6,147.1 589.4,147.5 589.1,147.8 588.9,148.2 588.7,148.5 588.6,148.9 588.5,149.3 588.5,149.7 588.5,150.1 588.5,150.5 588.6,150.9 588.7,151.3 588.8,151.7 588.8,152.1 588.8,152.5 588.7,152.9 588.6,153.3 588.5,153.6 588.3,154.0 588.1,154.4 587.9,154.7 587.7,155.1 587.5,155.4 587.4,155.8 587.3,156.2 587.3,156.6 587.3,157.0 587.4,157.4 587.5,157.8 587.6,158.2 587.6,158.6 587.7,159.0 587.7,159.4 587.6,159.8 587.5,160.2 587.4,160.5 587.2,160.9 586.9,161.3 586.7,161.6 586.5,162.0 586.3,162.3 586.2,162.7 586.1,163.1 586.1,163.5 586.2,163.9 586.2,164.3 586.3,164.7 586.4,165.1 586.5,165.5 586.5,165.9 586.5,166.3 586.5,166.7 586.4,167.1 624.3,166.9 624.1,166.5 623.7,166.2 623.3,165.9 623.0,165.5 622.6,165.2 622.4,164.8 622.2,164.5 622.1,164.1 622.2,163.7 622.4,163.3 622.6,162.9 622.9,162.5 623.2,162.0 623.4,161.6 623.6,161.2 623.6,160.8 623.6,160.4 623.4,160.0 623.1,159.7 622.8,159.4 622.4,159.1 621.9,158.8 621.5,158.6 621.2,158.3 620.9,158.0 620.7,157.7 620.6,157.3 620.6,156.9 620.7,156.5 620.8,156.0 621.0,155.5 621.2,155.0 621.3,154.6 621.4,154.2 621.3,153.8 621.2,153.5 621.0,153.2 620.6,152.9 620.2,152.6 619.8,152.3 619.4,152.0 619.1,151.6 618.8,151.3 618.6,151.0 618.6,150.6 618.7,150.2 618.8,149.7 619.0,149.3 619.3,148.9 619.6,148.4 619.8,148.0 619.9,147.6 620.0,147.2 619.9,146.8 619.7,146.5 619.4,146.1 619.1,145.8 618.7,145.5 618.3,145.2 617.9,144.9 617.6,144.5 617.5,144.2 617.4,143.8 617.4,143.4 617.6,143.0 617.8,142.6 618.1,142.1 618.3,141.7 618.6,141.3 618.8,140.9 618.9,140.5 618.8,140.1 618.7,139.7 618.5,139.4 618.2,139.0 617.8,138.7 617.4,138.4 617.1,138.0 616.8,137.6 616.6,137.3 616.5,136.9 616.5,136.5 616.7,136.1 616.9,135.7 617.2,135.3 617.6,134.9 617.9,134.5 618.2,134.2 618.4,133.8 618.5,133.5 618.5,133.1 618.4,132.7 618.2,132.3 617.9,131.9 617.6,131.5 617.3,131.1 617.1,130.7 617.0,130.3 616.9,129.9 616.9,129.5 617.1,129.2 617.4,128.8 617.7,128.4 618.0,128.1 618.4,127.7 618.6,127.3 618.9,126.9 619.0,126.5 619.0,126.2 618.9,125.8 618.7,125.4 618.4,125.0 618.0,124.6 617.7,124.3 617.4,123.9 617.2,123.5 617.0,123.1 617.0,122.7 617.1,122.4 617.3,122.0 617.5,121.6 617.8,121.2 618.2,120.8 618.5,120.4 618.7,120.0 618.8,119.6 618.8,119.2 618.7,118.8 618.5,118.5 618.2,118.1 617.8,117.8 617.4,117.4 617.0,117.1 616.7,116.8 616.4,116.5 616.3,116.2 616.2,115.9 616.2,115.5 616.3,115.1 616.4,114.6 616.6,114.1 616.6,113.6 616.6,113.2 616.6,112.7 616.4,112.3 616.1,112.0 615.8,111.8 615.3,111.7 614.8,111.6 614.3,111.5 613.8,111.5 613.4,111.4 612.9,111.3 612.6,111.1 612.3,110.8 612.2,110.4 612.0,110.0 612.0,109.5 612.0,109.0 Z" fill="none" stroke="#AE7843" stroke-width="1.0"/></g>
<g filter="url(#soft)"><path d="M587.4,296.0 L587.3,296.4 587.2,296.9 587.2,297.3 587.2,297.7 587.2,298.1 587.4,298.5 587.5,298.9 587.7,299.3 587.9,299.7 588.1,300.0 588.3,300.4 588.4,300.8 588.5,301.2 588.5,301.6 588.5,302.1 588.4,302.5 588.3,302.9 588.2,303.3 588.1,303.8 588.0,304.2 588.0,304.6 588.1,305.0 588.2,305.4 588.4,305.8 588.6,306.2 588.8,306.6 589.0,307.0 589.2,307.3 589.3,307.7 589.4,308.1 589.4,308.6 589.4,309.0 589.3,309.4 589.2,309.8 589.1,310.3 589.0,310.7 588.9,311.1 588.9,311.5 589.0,311.9 589.1,312.3 589.3,312.7 589.5,313.1 589.7,313.5 589.9,313.9 590.1,314.3 590.2,314.7 590.3,315.1 590.3,315.5 590.3,315.9 590.2,316.3 590.1,316.7 590.0,317.2 589.9,317.6 589.8,318.0 589.8,318.4 589.9,318.8 590.0,319.2 590.1,319.6 590.3,320.0 590.6,320.4 590.8,320.8 591.0,321.2 591.1,321.6 591.2,322.0 591.2,322.4 591.2,322.8 591.1,323.2 591.0,323.7 590.9,324.1 590.8,324.5 590.7,324.9 590.7,325.3 590.8,325.8 590.9,326.2 591.1,326.5 591.3,326.9 591.5,327.3 591.7,327.7 591.9,328.1 592.0,328.5 592.1,328.9 592.1,329.3 592.1,329.7 592.1,330.1 592.0,330.6 591.8,331.0 591.8,331.4 591.7,331.8 591.7,332.2 591.7,332.6 591.8,333.0 591.9,333.4 592.1,333.8 592.3,334.2 592.5,334.6 592.7,335.0 592.8,335.4 592.9,335.8 593.0,336.2 593.0,336.6 592.9,337.0 592.9,337.4 592.9,337.9 592.9,338.3 592.9,338.8 593.0,339.2 593.1,339.6 593.3,339.9 593.5,340.3 593.8,340.6 594.2,340.9 594.5,341.2 594.8,341.5 595.0,341.8 595.3,342.2 595.4,342.5 595.6,342.9 595.7,343.3 595.7,343.8 595.8,344.2 595.9,344.6 596.0,345.1 596.1,345.5 596.3,345.8 596.6,346.1 596.9,346.4 597.3,346.7 597.6,346.9 598.0,347.2 598.4,347.4 598.7,347.7 599.0,348.0 599.2,348.3 599.4,348.7 599.5,349.1 599.7,349.5 599.8,349.9 599.9,350.4 600.0,350.8 600.2,351.1 600.5,351.5 600.8,351.8 601.1,352.0 601.4,352.3 601.8,352.5 602.2,352.7 602.6,353.0 602.9,353.2 603.2,353.5 603.5,353.8 603.7,354.2 603.8,354.6 604.0,355.0 604.1,355.4 604.2,355.8 604.4,356.2 604.6,356.6 604.8,357.0 605.1,357.3 604.9,356.5 605.0,356.1 605.3,355.7 605.6,355.4 606.0,355.3 606.5,355.2 607.0,355.1 607.6,355.1 608.1,355.0 608.6,355.0 609.0,354.8 609.3,354.5 609.5,354.1 609.7,353.7 609.8,353.2 609.8,352.6 609.8,352.1 609.9,351.6 610.0,351.1 610.2,350.8 610.5,350.5 611.0,350.3 611.4,350.2 612.0,350.1 612.5,350.1 613.0,350.0 613.5,349.9 613.9,349.6 614.2,349.3 614.4,348.9 614.5,348.4 614.5,347.9 614.4,347.3 614.3,346.8 614.3,346.3 614.3,345.9 614.4,345.5 614.6,345.2 615.0,344.9 615.4,344.7 615.8,344.4 616.3,344.1 616.7,343.8 617.1,343.4 617.3,343.0 617.4,342.6 617.3,342.1 617.1,341.7 616.8,341.2 616.5,340.8 616.1,340.4 615.8,340.0 615.6,339.6 615.5,339.2 615.5,338.8 615.7,338.4 615.9,337.9 616.3,337.5 616.6,337.1 616.9,336.6 617.1,336.2 617.3,335.8 617.2,335.4 617.1,335.0 616.9,334.6 616.5,334.2 616.2,333.8 615.8,333.3 615.6,332.9 615.4,332.5 615.4,332.0 615.5,331.6 615.7,331.2 616.0,330.9 616.4,330.5 616.8,330.1 617.2,329.7 617.5,329.3 617.7,328.9 617.7,328.5 617.6,328.1 617.4,327.7 617.1,327.2 616.8,326.8 616.5,326.3 616.3,325.9 616.1,325.4 616.1,325.0 616.2,324.6 616.5,324.2 616.8,323.9 617.3,323.5 617.7,323.1 618.1,322.8 618.4,322.4 618.6,322.0 618.6,321.6 618.6,321.2 618.4,320.8 618.2,320.3 617.9,319.8 617.6,319.4 617.4,318.9 617.3,318.4 617.4,318.0 617.5,317.6 617.8,317.3 618.2,316.9 618.7,316.6 619.1,316.3 619.6,316.0 619.9,315.7 620.1,315.3 620.2,314.9 620.2,314.4 620.0,314.0 619.8,313.5 619.6,313.0 619.3,312.5 619.2,312.0 619.1,311.6 619.2,311.2 619.3,310.8 619.7,310.5 620.1,310.1 620.5,309.8 621.0,309.5 621.4,309.2 621.7,308.9 621.9,308.5 622.0,308.1 622.0,307.6 621.8,307.2 621.6,306.7 621.3,306.2 621.1,305.7 620.9,305.3 620.8,304.8 620.8,304.4 621.0,304.1 621.3,303.7 621.6,303.3 622.1,303.0 622.5,302.6 622.8,302.3 623.1,301.9 623.3,301.5 623.3,301.0 623.2,300.6 622.9,300.2 622.6,299.7 622.3,299.3 621.9,298.9 621.7,298.4 621.5,298.0 621.5,297.6 621.6,297.2 621.9,296.8 622.2,296.4 622.6,296.0 Z" fill="#D8A674"/>
<path d="M594.4,296.0 L594.4,296.4 594.4,296.8 594.4,297.2 594.5,297.6 594.5,298.1 594.6,298.5 594.6,298.9 594.7,299.3 594.8,299.7 594.9,300.1 594.9,300.5 595.0,300.9 595.0,301.3 595.1,301.7 595.1,302.1 595.1,302.5 595.0,302.9 595.0,303.3 595.0,303.8 595.0,304.2 595.0,304.6 595.1,305.0 595.1,305.4 595.2,305.8 595.2,306.2 595.3,306.6 595.3,307.0 595.4,307.4 595.4,307.8 595.5,308.2 595.5,308.6 595.5,309.0 595.5,309.4 595.4,309.8 595.4,310.2 595.4,310.6 595.4,311.1 595.4,311.5 595.4,311.9 595.5,312.3 595.5,312.7 595.6,313.1 595.6,313.5 595.7,313.9 595.7,314.3 595.8,314.7 595.8,315.1 595.8,315.5 595.8,315.9 595.8,316.3 595.8,316.7 595.8,317.1 595.8,317.5 595.8,317.9 595.8,318.4 595.8,318.8 595.8,319.2 595.9,319.6 595.9,320.0 596.0,320.4 596.1,320.8 596.1,321.2 596.2,321.6 596.2,322.0 596.3,322.4 596.3,322.8 596.3,323.2 596.3,323.6 596.2,324.0 596.2,324.4 596.2,324.9 596.2,325.3 596.3,325.7 596.3,326.1 596.4,326.5 596.4,326.9 596.5,327.3 596.6,327.7 596.7,328.1 596.7,328.5 596.8,328.9 596.8,329.3 596.8,329.7 596.9,330.1 596.9,330.5 596.9,331.0 596.8,331.4 596.8,331.8 596.9,332.2 596.9,332.6 596.9,333.0 596.9,333.4 597.0,333.8 597.1,334.2 597.1,334.6 597.2,335.0 597.3,335.4 597.3,335.8 597.4,336.2 597.5,336.7 597.5,337.1 597.6,337.5 597.6,337.9 597.7,338.3 597.8,338.7 597.9,339.1 598.0,339.5 598.1,339.9 598.3,340.2 598.4,340.6 598.6,341.0 598.8,341.3 598.9,341.7 599.1,342.1 599.3,342.4 599.4,342.8 599.5,343.2 599.7,343.6 599.8,343.9 599.9,344.3 600.0,344.7 600.1,345.0 600.2,345.4 600.3,345.8 600.4,346.1 600.6,346.5 600.7,346.8 600.9,347.1 601.1,347.4 601.2,347.8 601.4,348.1 601.6,348.4 601.7,348.7 601.9,349.0 602.0,349.3 602.2,349.7 602.3,350.0 602.4,350.3 602.5,350.7 602.6,351.0 602.8,351.3 602.9,351.7 603.0,352.0 603.1,352.3 603.3,352.6 603.4,352.9 603.6,353.3 603.7,353.6 603.9,353.9 604.1,354.2 604.3,354.5 604.5,354.8 604.6,355.1 604.8,355.4 604.9,355.7 605.1,356.0 605.2,356.3 605.3,356.7 605.4,357.0" fill="none" stroke="#AE7843" stroke-width="1.0"/>
<path d="M601.5,296.0 L601.5,296.4 601.4,296.8 601.4,297.2 601.5,297.6 601.5,298.1 601.5,298.5 601.6,298.9 601.6,299.3 601.7,299.7 601.8,300.1 601.8,300.5 601.9,300.9 601.9,301.3 601.9,301.7 601.9,302.1 601.8,302.5 601.8,302.9 601.8,303.4 601.7,303.8 601.7,304.2 601.7,304.6 601.7,305.0 601.7,305.4 601.7,305.8 601.8,306.2 601.8,306.6 601.8,307.0 601.9,307.4 601.9,307.8 601.9,308.2 601.9,308.6 601.8,309.0 601.8,309.4 601.7,309.8 601.7,310.2 601.6,310.6 601.6,311.0 601.6,311.4 601.5,311.9 601.5,312.3 601.5,312.7 601.6,313.1 601.6,313.5 601.6,313.9 601.7,314.3 601.7,314.7 601.7,315.1 601.7,315.5 601.6,315.9 601.6,316.3 601.6,316.7 601.5,317.1 601.4,317.5 601.4,317.9 601.4,318.3 601.4,318.7 601.4,319.1 601.4,319.5 601.4,319.9 601.5,320.3 601.5,320.8 601.5,321.2 601.6,321.6 601.6,322.0 601.6,322.4 601.6,322.8 601.6,323.2 601.5,323.6 601.5,324.0 601.5,324.4 601.4,324.8 601.4,325.2 601.4,325.6 601.4,326.0 601.5,326.5 601.5,326.9 601.6,327.3 601.6,327.7 601.7,328.1 601.7,328.5 601.8,328.9 601.8,329.3 601.8,329.7 601.8,330.1 601.8,330.5 601.8,330.9 601.7,331.4 601.7,331.8 601.7,332.2 601.7,332.6 601.7,333.0 601.7,333.4 601.8,333.8 601.8,334.2 601.9,334.6 602.0,335.0 602.0,335.4 602.1,335.8 602.2,336.2 602.2,336.7 602.3,337.1 602.3,337.5 602.3,337.9 602.4,338.3 602.4,338.7 602.5,339.1 602.6,339.5 602.7,339.9 602.8,340.3 602.9,340.7 603.1,341.0 603.2,341.4 603.3,341.8 603.4,342.2 603.6,342.5 603.7,342.9 603.7,343.3 603.8,343.7 603.8,344.1 603.9,344.4 603.9,344.8 603.9,345.2 603.9,345.5 604.0,345.9 604.0,346.2 604.0,346.6 604.1,346.9 604.2,347.3 604.2,347.6 604.3,347.9 604.4,348.2 604.5,348.6 604.5,348.9 604.6,349.2 604.7,349.5 604.7,349.8 604.7,350.2 604.8,350.5 604.8,350.8 604.8,351.1 604.8,351.4 604.8,351.7 604.8,352.1 604.8,352.4 604.8,352.7 604.8,353.0 604.9,353.3 604.9,353.6 604.9,353.9 605.0,354.2 605.0,354.5 605.1,354.8 605.2,355.1 605.2,355.4 605.3,355.7 605.4,356.1 605.4,356.4 605.5,356.7 605.5,357.0" fill="none" stroke="#AE7843" stroke-width="1.0"/>
<path d="M608.5,296.0 L608.5,296.4 608.5,296.8 608.4,297.2 608.4,297.6 608.5,298.1 608.5,298.5 608.5,298.9 608.6,299.3 608.6,299.7 608.7,300.1 608.7,300.5 608.7,300.9 608.7,301.3 608.7,301.7 608.7,302.2 608.6,302.6 608.6,303.0 608.5,303.4 608.4,303.8 608.4,304.2 608.4,304.6 608.3,305.0 608.3,305.4 608.3,305.8 608.3,306.2 608.3,306.6 608.3,307.0 608.3,307.4 608.3,307.8 608.3,308.2 608.2,308.6 608.2,309.0 608.1,309.4 608.0,309.8 607.9,310.2 607.8,310.6 607.8,311.0 607.7,311.4 607.7,311.8 607.6,312.2 607.6,312.6 607.6,313.1 607.6,313.5 607.6,313.9 607.6,314.3 607.6,314.7 607.5,315.1 607.5,315.5 607.4,315.9 607.4,316.3 607.3,316.7 607.2,317.1 607.1,317.5 607.1,317.9 607.0,318.3 607.0,318.7 606.9,319.1 606.9,319.5 606.9,319.9 606.9,320.3 607.0,320.7 607.0,321.1 607.0,321.5 607.0,321.9 607.0,322.4 606.9,322.8 606.9,323.2 606.8,323.6 606.8,324.0 606.7,324.4 606.7,324.8 606.6,325.2 606.6,325.6 606.6,326.0 606.6,326.4 606.6,326.8 606.7,327.2 606.7,327.7 606.7,328.1 606.8,328.5 606.8,328.9 606.8,329.3 606.8,329.7 606.8,330.1 606.7,330.5 606.7,330.9 606.6,331.3 606.6,331.7 606.6,332.2 606.5,332.6 606.5,333.0 606.6,333.4 606.6,333.8 606.6,334.2 606.7,334.6 606.8,335.0 606.8,335.4 606.9,335.8 606.9,336.2 606.9,336.7 607.0,337.1 607.0,337.5 607.0,337.9 607.1,338.3 607.1,338.7 607.1,339.1 607.2,339.5 607.3,339.9 607.3,340.3 607.4,340.7 607.5,341.1 607.6,341.5 607.7,341.9 607.8,342.3 607.9,342.7 607.9,343.0 607.9,343.4 607.9,343.8 607.9,344.2 607.9,344.6 607.8,344.9 607.8,345.3 607.7,345.7 607.6,346.0 607.6,346.4 607.5,346.7 607.5,347.0 607.5,347.4 607.5,347.7 607.4,348.1 607.4,348.4 607.4,348.7 607.4,349.0 607.3,349.4 607.3,349.7 607.2,350.0 607.1,350.3 607.0,350.6 607.0,350.9 606.9,351.2 606.8,351.5 606.7,351.8 606.5,352.1 606.4,352.4 606.3,352.7 606.3,353.0 606.2,353.3 606.1,353.6 606.0,353.9 606.0,354.2 605.9,354.6 605.9,354.9 605.8,355.2 605.8,355.5 605.8,355.8 605.7,356.1 605.6,356.4 605.6,356.7 605.5,357.0" fill="none" stroke="#AE7843" stroke-width="1.0"/>
<path d="M615.6,296.0 L615.5,296.4 615.5,296.8 615.4,297.2 615.4,297.6 615.4,298.1 615.4,298.5 615.5,298.9 615.5,299.3 615.5,299.7 615.6,300.1 615.6,300.5 615.6,300.9 615.6,301.4 615.5,301.8 615.5,302.2 615.4,302.6 615.3,303.0 615.2,303.4 615.2,303.8 615.1,304.2 615.0,304.6 615.0,305.0 614.9,305.4 614.9,305.8 614.9,306.2 614.9,306.6 614.8,307.0 614.8,307.5 614.8,307.9 614.7,308.3 614.6,308.7 614.5,309.1 614.4,309.5 614.3,309.8 614.2,310.2 614.0,310.6 613.9,311.0 613.9,311.4 613.8,311.8 613.7,312.2 613.7,312.6 613.6,313.0 613.6,313.5 613.6,313.9 613.5,314.3 613.5,314.7 613.4,315.1 613.3,315.5 613.2,315.9 613.1,316.3 613.0,316.7 612.9,317.1 612.8,317.4 612.7,317.8 612.6,318.2 612.5,318.7 612.5,319.1 612.5,319.5 612.4,319.9 612.4,320.3 612.4,320.7 612.4,321.1 612.4,321.5 612.4,321.9 612.3,322.3 612.2,322.7 612.2,323.1 612.1,323.5 612.0,323.9 611.9,324.4 611.9,324.8 611.8,325.2 611.8,325.6 611.7,326.0 611.7,326.4 611.8,326.8 611.8,327.2 611.8,327.6 611.8,328.0 611.8,328.5 611.8,328.9 611.8,329.3 611.7,329.7 611.7,330.1 611.6,330.5 611.6,330.9 611.5,331.3 611.4,331.7 611.4,332.1 611.4,332.5 611.4,333.0 611.4,333.4 611.4,333.8 611.4,334.2 611.5,334.6 611.6,335.0 611.6,335.4 611.6,335.8 611.7,336.2 611.7,336.7 611.7,337.1 611.7,337.5 611.7,337.9 611.7,338.3 611.7,338.7 611.7,339.1 611.8,339.5 611.8,339.9 611.9,340.3 612.0,340.7 612.0,341.1 612.1,341.5 612.1,342.0 612.2,342.4 612.2,342.8 612.1,343.2 612.1,343.6 612.0,343.9 611.9,344.3 611.8,344.7 611.7,345.1 611.6,345.4 611.4,345.8 611.3,346.1 611.2,346.5 611.1,346.8 610.9,347.2 610.8,347.5 610.7,347.9 610.6,348.2 610.5,348.6 610.3,348.9 610.2,349.2 610.0,349.5 609.9,349.9 609.7,350.2 609.5,350.5 609.3,350.8 609.1,351.0 608.8,351.3 608.6,351.6 608.4,351.9 608.2,352.2 608.1,352.5 607.9,352.8 607.7,353.1 607.5,353.4 607.4,353.7 607.2,354.0 607.1,354.3 606.9,354.7 606.8,355.0 606.6,355.3 606.4,355.6 606.2,355.9 606.0,356.1 605.8,356.4 605.6,356.7 605.4,357.0" fill="none" stroke="#AE7843" stroke-width="1.0"/>
<path d="M587.4,296.0 L587.3,296.4 587.2,296.9 587.2,297.3 587.2,297.7 587.2,298.1 587.4,298.5 587.5,298.9 587.7,299.3 587.9,299.7 588.1,300.0 588.3,300.4 588.4,300.8 588.5,301.2 588.5,301.6 588.5,302.1 588.4,302.5 588.3,302.9 588.2,303.3 588.1,303.8 588.0,304.2 588.0,304.6 588.1,305.0 588.2,305.4 588.4,305.8 588.6,306.2 588.8,306.6 589.0,307.0 589.2,307.3 589.3,307.7 589.4,308.1 589.4,308.6 589.4,309.0 589.3,309.4 589.2,309.8 589.1,310.3 589.0,310.7 588.9,311.1 588.9,311.5 589.0,311.9 589.1,312.3 589.3,312.7 589.5,313.1 589.7,313.5 589.9,313.9 590.1,314.3 590.2,314.7 590.3,315.1 590.3,315.5 590.3,315.9 590.2,316.3 590.1,316.7 590.0,317.2 589.9,317.6 589.8,318.0 589.8,318.4 589.9,318.8 590.0,319.2 590.1,319.6 590.3,320.0 590.6,320.4 590.8,320.8 591.0,321.2 591.1,321.6 591.2,322.0 591.2,322.4 591.2,322.8 591.1,323.2 591.0,323.7 590.9,324.1 590.8,324.5 590.7,324.9 590.7,325.3 590.8,325.8 590.9,326.2 591.1,326.5 591.3,326.9 591.5,327.3 591.7,327.7 591.9,328.1 592.0,328.5 592.1,328.9 592.1,329.3 592.1,329.7 592.1,330.1 592.0,330.6 591.8,331.0 591.8,331.4 591.7,331.8 591.7,332.2 591.7,332.6 591.8,333.0 591.9,333.4 592.1,333.8 592.3,334.2 592.5,334.6 592.7,335.0 592.8,335.4 592.9,335.8 593.0,336.2 593.0,336.6 592.9,337.0 592.9,337.4 592.9,337.9 592.9,338.3 592.9,338.8 593.0,339.2 593.1,339.6 593.3,339.9 593.5,340.3 593.8,340.6 594.2,340.9 594.5,341.2 594.8,341.5 595.0,341.8 595.3,342.2 595.4,342.5 595.6,342.9 595.7,343.3 595.7,343.8 595.8,344.2 595.9,344.6 596.0,345.1 596.1,345.5 596.3,345.8 596.6,346.1 596.9,346.4 597.3,346.7 597.6,346.9 598.0,347.2 598.4,347.4 598.7,347.7 599.0,348.0 599.2,348.3 599.4,348.7 599.5,349.1 599.7,349.5 599.8,349.9 599.9,350.4 600.0,350.8 600.2,351.1 600.5,351.5 600.8,351.8 601.1,352.0 601.4,352.3 601.8,352.5 602.2,352.7 602.6,353.0 602.9,353.2 603.2,353.5 603.5,353.8 603.7,354.2 603.8,354.6 604.0,355.0 604.1,355.4 604.2,355.8 604.4,356.2 604.6,356.6 604.8,357.0 605.1,357.3 604.9,356.5 605.0,356.1 605.3,355.7 605.6,355.4 606.0,355.3 606.5,355.2 607.0,355.1 607.6,355.1 608.1,355.0 608.6,355.0 609.0,354.8 609.3,354.5 609.5,354.1 609.7,353.7 609.8,353.2 609.8,352.6 609.8,352.1 609.9,351.6 610.0,351.1 610.2,350.8 610.5,350.5 611.0,350.3 611.4,350.2 612.0,350.1 612.5,350.1 613.0,350.0 613.5,349.9 613.9,349.6 614.2,349.3 614.4,348.9 614.5,348.4 614.5,347.9 614.4,347.3 614.3,346.8 614.3,346.3 614.3,345.9 614.4,345.5 614.6,345.2 615.0,344.9 615.4,344.7 615.8,344.4 616.3,344.1 616.7,343.8 617.1,343.4 617.3,343.0 617.4,342.6 617.3,342.1 617.1,341.7 616.8,341.2 616.5,340.8 616.1,340.4 615.8,340.0 615.6,339.6 615.5,339.2 615.5,338.8 615.7,338.4 615.9,337.9 616.3,337.5 616.6,337.1 616.9,336.6 617.1,336.2 617.3,335.8 617.2,335.4 617.1,335.0 616.9,334.6 616.5,334.2 616.2,333.8 615.8,333.3 615.6,332.9 615.4,332.5 615.4,332.0 615.5,331.6 615.7,331.2 616.0,330.9 616.4,330.5 616.8,330.1 617.2,329.7 617.5,329.3 617.7,328.9 617.7,328.5 617.6,328.1 617.4,327.7 617.1,327.2 616.8,326.8 616.5,326.3 616.3,325.9 616.1,325.4 616.1,325.0 616.2,324.6 616.5,324.2 616.8,323.9 617.3,323.5 617.7,323.1 618.1,322.8 618.4,322.4 618.6,322.0 618.6,321.6 618.6,321.2 618.4,320.8 618.2,320.3 617.9,319.8 617.6,319.4 617.4,318.9 617.3,318.4 617.4,318.0 617.5,317.6 617.8,317.3 618.2,316.9 618.7,316.6 619.1,316.3 619.6,316.0 619.9,315.7 620.1,315.3 620.2,314.9 620.2,314.4 620.0,314.0 619.8,313.5 619.6,313.0 619.3,312.5 619.2,312.0 619.1,311.6 619.2,311.2 619.3,310.8 619.7,310.5 620.1,310.1 620.5,309.8 621.0,309.5 621.4,309.2 621.7,308.9 621.9,308.5 622.0,308.1 622.0,307.6 621.8,307.2 621.6,306.7 621.3,306.2 621.1,305.7 620.9,305.3 620.8,304.8 620.8,304.4 621.0,304.1 621.3,303.7 621.6,303.3 622.1,303.0 622.5,302.6 622.8,302.3 623.1,301.9 623.3,301.5 623.3,301.0 623.2,300.6 622.9,300.2 622.6,299.7 622.3,299.3 621.9,298.9 621.7,298.4 621.5,298.0 621.5,297.6 621.6,297.2 621.9,296.8 622.2,296.4 622.6,296.0 Z" fill="none" stroke="#AE7843" stroke-width="1.0"/></g>
<path d="M602.1,148.4 L606.1,148.8 L609.9,150.6 L613.4,153.3 L616.6,156.6 L619.6,160.2 L622.3,163.9 L624.7,167.6 L626.9,171.3 L629.0,175.1 L630.8,179.0 L632.5,182.9 L634.1,187.0 L635.5,191.1 L636.9,195.2 L638.1,199.5 L639.2,203.7 L640.2,208.1 L641.0,212.4 L641.7,216.8 L642.3,221.2 L642.7,225.6 L642.9,230.1 L643.0,234.5 L643.0,238.9 L642.8,243.3 L642.4,247.6 L641.8,251.9 L641.1,256.1 L640.2,260.4 L639.1,264.5 L637.8,268.7 L636.4,272.7 L634.8,276.8 L633.1,280.8 L631.2,284.8 L629.2,288.7 L627.0,292.6 L624.6,296.5 L622.2,300.3 L619.5,304.1 L616.7,307.8 L613.8,311.3 L610.6,314.1 L607.1,315.8 L603.3,316.0 L599.5,314.6 L596.6,311.6 L594.5,307.7 L592.8,303.2 L591.3,298.6 L589.6,294.4 L587.8,290.5 L585.8,286.8 L583.7,283.2 L581.5,279.6 L579.3,276.1 L576.9,272.4 L574.6,268.6 L572.3,264.7 L570.1,260.8 L567.9,256.8 L566.0,252.7 L564.2,248.6 L562.7,244.5 L561.5,240.3 L560.6,236.1 L560.1,231.9 L560.1,227.7 L560.5,223.5 L561.3,219.3 L562.5,215.2 L564.1,211.1 L565.9,207.0 L567.9,202.9 L570.1,198.9 L572.4,195.0 L574.8,191.0 L577.2,187.2 L579.4,183.4 L581.6,179.6 L583.6,175.9 L585.5,172.2 L587.2,168.4 L588.8,164.5 L590.4,160.3 L592.1,156.0 L594.5,152.2 L598.0,149.5 L602.1,148.4 Z" fill="#C3DFF0" stroke="#8DBDD8" stroke-width="2.3"/>
<g mask="url(#mC1)">
<path d="M624.0,27.0 L623.8,27.7 623.5,28.7 623.1,29.8 622.7,31.2 622.2,32.7 621.7,34.4 621.0,36.3 620.3,38.6 619.5,41.0 618.6,43.5 617.8,46.0 617.0,48.5 616.3,51.0 615.6,53.6 615.0,56.2 614.3,58.8 613.7,61.3 612.9,63.7 612.1,65.9 611.2,68.0 610.2,70.0 609.3,71.9 608.4,73.9 607.5,76.0 606.7,78.2 605.9,80.5 605.1,82.8 604.4,85.2 603.6,87.4 602.9,89.6 602.2,91.7 601.5,93.8 600.9,95.8 600.2,97.7 599.6,99.5 599.0,101.3 598.5,102.9 598.0,104.4 597.5,105.9 597.0,107.3 596.5,108.6 595.9,110.0 595.3,111.4 594.6,112.9 593.9,114.4 593.1,115.8 592.3,117.0 591.4,118.0 590.4,118.7 589.4,119.3 588.3,119.7 587.2,120.0 586.1,120.2 585.0,120.4 584.0,120.6 583.0,120.8 582.1,121.0 581.1,121.0 579.9,121.0 578.6,120.8 576.8,120.4 574.6,119.7 572.3,118.9 570.1,118.1 568.4,117.5 567.4,117.2 567.4,117.2 568.0,117.4 569.2,117.8 570.5,118.3 571.9,118.8 573.0,119.2 574.0,119.6 575.0,120.0 576.0,120.3 577.0,120.8 577.9,121.2 578.6,121.6 579.2,122.0 579.5,122.5 579.9,123.0 580.1,123.5 580.5,124.0 581.0,124.4 581.7,124.8 582.4,125.3 583.2,125.7 584.1,126.1 584.9,126.5 585.8,126.8 586.7,127.1 587.6,127.3 588.6,127.5 589.6,127.6 590.5,127.6 591.4,127.6 592.3,127.5 593.1,127.3 593.9,127.1 594.7,126.8 595.5,126.4 596.2,126.0 596.9,125.5 597.7,124.9 598.4,124.2 599.0,123.5 599.6,122.8 600.2,122.0 600.7,121.2 601.1,120.3 601.6,119.3 601.9,118.3 602.3,117.4 602.6,116.4 602.9,115.4 603.2,114.4 603.4,113.4 603.7,112.4 603.9,111.5 604.2,110.8 604.5,110.3 604.8,109.9 605.2,109.6 605.5,109.3 605.9,109.2 606.2,109.2 606.5,109.3 606.9,109.4 607.2,109.7 607.6,110.0 607.9,110.4 608.2,110.8 608.5,111.2 608.7,111.8 609.0,112.3 609.2,112.9 609.5,113.5 609.8,114.0 610.2,114.5 610.5,114.9 610.9,115.4 611.4,115.7 611.8,116.1 612.2,116.4 612.6,116.6 613.0,116.8 613.4,117.0 613.8,117.1 614.2,117.1 614.6,117.2 615.1,117.3 615.6,117.5 616.1,117.7 616.6,117.8 617.0,117.6 617.4,117.2 617.6,116.6 617.7,115.8 617.8,114.9 617.8,113.6 618.0,112.0 618.2,110.0 618.6,107.4 619.1,104.1 619.6,100.6 620.2,96.8 620.8,93.1 621.3,89.6 621.8,86.1 622.4,82.5 622.9,78.9 623.4,75.5 623.9,72.5 624.4,70.0 624.8,68.3 625.0,67.2 625.3,66.6 625.6,66.0 625.9,65.1 626.4,63.7 627.0,61.7 627.8,59.3 628.6,56.7 629.5,53.9 630.3,51.1 631.1,48.5 631.8,45.9 632.6,43.1 633.3,40.3 634.0,37.6 634.7,35.2 635.2,33.2 635.7,31.6 636.0,30.2 636.4,29.1 636.6,28.3 636.8,27.6 637.0,27.0 Z" fill="#F8B5B8"/>
<g clip-path="url(#cC1)" fill="none" stroke="#E77F85" stroke-width="1.15">
<path d="M627.6,27.0 L627.3,28.1 627.0,29.3 626.6,30.4 626.3,31.6 625.9,32.7 625.6,33.8 625.2,35.0 624.9,36.1 624.5,37.2 624.1,38.4 623.8,39.5 623.4,40.6 623.0,41.7 622.7,42.9 622.3,44.0 622.0,45.1 621.6,46.3 621.3,47.4 620.9,48.6 620.6,49.7 620.3,50.8 619.9,52.0 619.6,53.1 619.3,54.3 619.0,55.4 618.7,56.6 618.4,57.7 618.1,58.9 617.7,60.0 617.4,61.1 617.1,62.3 616.8,63.4 616.4,64.6 616.1,65.7 615.7,66.8 615.3,67.9 614.9,69.1 614.6,70.2 614.3,71.4 614.0,72.5 613.6,73.6 613.3,74.8 613.0,75.9 612.8,77.1 612.5,78.2 612.2,79.4 611.9,80.6 611.7,81.7 611.4,82.9 611.1,84.0 610.9,85.2 610.6,86.4 610.4,87.5 610.1,88.7 609.9,89.8 609.6,91.0 609.4,92.2 609.1,93.3 608.9,94.5 608.6,95.6 608.4,96.8 608.1,98.0 607.9,99.1 607.7,100.3 607.6,101.5 607.4,102.7 607.2,103.8 607.1,105.0 606.9,106.2 606.8,107.4 606.6,108.5 606.5,109.7 606.3,110.9 606.2,112.1 606.1,113.3 605.9,114.5 605.8,115.6 605.7,116.8 605.6,118.0"/>
<path d="M630.6,27.0 L630.3,28.1 629.9,29.3 629.6,30.4 629.3,31.5 628.9,32.7 628.6,33.8 628.3,35.0 627.9,36.1 627.6,37.2 627.2,38.4 626.9,39.5 626.5,40.6 626.2,41.8 625.9,42.9 625.5,44.0 625.2,45.2 624.8,46.3 624.5,47.4 624.2,48.6 623.8,49.7 623.5,50.9 623.2,52.0 622.8,53.1 622.5,54.3 622.2,55.4 621.9,56.6 621.5,57.7 621.2,58.8 620.9,60.0 620.6,61.1 620.2,62.3 619.9,63.4 619.5,64.5 619.1,65.7 618.7,66.8 618.4,67.9 618.0,69.0 617.7,70.2 617.4,71.3 617.2,72.5 616.9,73.6 616.6,74.8 616.3,75.9 616.1,77.1 615.8,78.2 615.6,79.4 615.4,80.6 615.1,81.7 614.9,82.9 614.7,84.0 614.4,85.2 614.2,86.4 614.0,87.5 613.7,88.7 613.5,89.9 613.3,91.0 613.0,92.2 612.8,93.3 612.6,94.5 612.4,95.7 612.1,96.8 611.9,98.0 611.7,99.2 611.5,100.3 611.4,101.5 611.2,102.7 611.0,103.9 610.8,105.0 610.7,106.2 610.5,107.4 610.4,108.6 610.2,109.7 610.1,110.9 609.9,112.1 609.8,113.3 609.7,114.5 609.6,115.6 609.5,116.8 609.4,118.0"/>
<path d="M633.8,27.0 L633.4,28.1 633.1,29.3 632.7,30.4 632.4,31.5 632.1,32.7 631.7,33.8 631.4,35.0 631.1,36.1 630.8,37.2 630.5,38.4 630.1,39.5 629.8,40.7 629.5,41.8 629.2,42.9 628.9,44.1 628.5,45.2 628.2,46.3 627.9,47.5 627.5,48.6 627.2,49.8 626.9,50.9 626.5,52.0 626.2,53.2 625.9,54.3 625.5,55.4 625.2,56.6 624.8,57.7 624.5,58.8 624.2,60.0 623.8,61.1 623.5,62.2 623.1,63.4 622.8,64.5 622.4,65.6 621.9,66.7 621.6,67.8 621.3,69.0 621.0,70.1 620.7,71.3 620.5,72.4 620.3,73.6 620.0,74.7 619.8,75.9 619.6,77.1 619.4,78.2 619.2,79.4 618.9,80.6 618.7,81.7 618.5,82.9 618.3,84.1 618.1,85.2 617.9,86.4 617.7,87.6 617.5,88.7 617.3,89.9 617.1,91.0 616.9,92.2 616.7,93.4 616.5,94.5 616.3,95.7 616.1,96.9 615.9,98.0 615.7,99.2 615.5,100.4 615.3,101.6 615.1,102.7 615.0,103.9 614.8,105.1 614.6,106.2 614.5,107.4 614.3,108.6 614.1,109.8 614.0,110.9 613.9,112.1 613.7,113.3 613.6,114.5 613.5,115.6 613.4,116.8 613.3,118.0"/>
</g>
<path d="M624.0,27.0 L623.8,27.7 623.5,28.7 623.1,29.8 622.7,31.2 622.2,32.7 621.7,34.4 621.0,36.3 620.3,38.6 619.5,41.0 618.6,43.5 617.8,46.0 617.0,48.5 616.3,51.0 615.6,53.6 615.0,56.2 614.3,58.8 613.7,61.3 612.9,63.7 612.1,65.9 611.2,68.0 610.2,70.0 609.3,71.9 608.4,73.9 607.5,76.0 606.7,78.2 605.9,80.5 605.1,82.8 604.4,85.2 603.6,87.4 602.9,89.6 602.2,91.7 601.5,93.8 600.9,95.8 600.2,97.7 599.6,99.5 599.0,101.3 598.5,102.9 598.0,104.4 597.5,105.9 597.0,107.3 596.5,108.6 595.9,110.0 595.3,111.4 594.6,112.9 593.9,114.4 593.1,115.8 592.3,117.0 591.4,118.0 590.4,118.7 589.4,119.3 588.3,119.7 587.2,120.0 586.1,120.2 585.0,120.4 584.0,120.6 583.0,120.8 582.1,121.0 581.1,121.0 579.9,121.0 578.6,120.8 576.8,120.4 574.6,119.7 572.3,118.9 570.1,118.1 568.4,117.5 567.4,117.2 567.4,117.2 568.0,117.4 569.2,117.8 570.5,118.3 571.9,118.8 573.0,119.2 574.0,119.6 575.0,120.0 576.0,120.3 577.0,120.8 577.9,121.2 578.6,121.6 579.2,122.0 579.5,122.5 579.9,123.0 580.1,123.5 580.5,124.0 581.0,124.4 581.7,124.8 582.4,125.3 583.2,125.7 584.1,126.1 584.9,126.5 585.8,126.8 586.7,127.1 587.6,127.3 588.6,127.5 589.6,127.6 590.5,127.6 591.4,127.6 592.3,127.5 593.1,127.3 593.9,127.1 594.7,126.8 595.5,126.4 596.2,126.0 596.9,125.5 597.7,124.9 598.4,124.2 599.0,123.5 599.6,122.8 600.2,122.0 600.7,121.2 601.1,120.3 601.6,119.3 601.9,118.3 602.3,117.4 602.6,116.4 602.9,115.4 603.2,114.4 603.4,113.4 603.7,112.4 603.9,111.5 604.2,110.8 604.5,110.3 604.8,109.9 605.2,109.6 605.5,109.3 605.9,109.2 606.2,109.2 606.5,109.3 606.9,109.4 607.2,109.7 607.6,110.0 607.9,110.4 608.2,110.8 608.5,111.2 608.7,111.8 609.0,112.3 609.2,112.9 609.5,113.5 609.8,114.0 610.2,114.5 610.5,114.9 610.9,115.4 611.4,115.7 611.8,116.1 612.2,116.4 612.6,116.6 613.0,116.8 613.4,117.0 613.8,117.1 614.2,117.1 614.6,117.2 615.1,117.3 615.6,117.5 616.1,117.7 616.6,117.8 617.0,117.6 617.4,117.2 617.6,116.6 617.7,115.8 617.8,114.9 617.8,113.6 618.0,112.0 618.2,110.0 618.6,107.4 619.1,104.1 619.6,100.6 620.2,96.8 620.8,93.1 621.3,89.6 621.8,86.1 622.4,82.5 622.9,78.9 623.4,75.5 623.9,72.5 624.4,70.0 624.8,68.3 625.0,67.2 625.3,66.6 625.6,66.0 625.9,65.1 626.4,63.7 627.0,61.7 627.8,59.3 628.6,56.7 629.5,53.9 630.3,51.1 631.1,48.5 631.8,45.9 632.6,43.1 633.3,40.3 634.0,37.6 634.7,35.2 635.2,33.2 635.7,31.6 636.0,30.2 636.4,29.1 636.6,28.3 636.8,27.6 637.0,27.0 Z" fill="none" stroke="#EC8B90" stroke-width="1"/>
</g>
<g mask="url(#mC2)">
<path d="M567.0,347.7 L567.9,347.4 569.3,347.0 570.8,346.5 572.5,345.9 574.1,345.3 575.6,344.6 577.0,343.8 578.4,342.8 579.7,341.8 581.1,340.8 582.3,339.8 583.5,339.1 584.5,338.5 585.5,338.1 586.3,337.7 587.1,337.4 588.0,337.2 589.0,337.1 590.1,337.1 591.3,337.1 592.6,337.3 593.8,337.5 594.9,337.9 596.0,338.3 596.9,338.8 597.8,339.4 598.5,340.1 599.3,340.9 600.0,341.9 600.7,343.0 601.4,344.5 602.2,346.3 602.9,348.2 603.6,350.2 604.1,351.9 604.6,353.2 604.9,354.2 605.0,354.9 605.0,355.5 605.1,355.8 605.2,355.8 605.4,355.6 605.8,354.9 606.2,353.7 606.7,352.3 607.3,350.8 607.9,349.5 608.5,348.5 609.2,347.9 610.0,347.5 610.9,347.3 611.7,347.2 612.5,347.1 613.2,347.0 613.7,346.7 614.1,346.3 614.5,345.9 614.8,345.8 615.2,346.1 615.6,347.0 616.1,348.7 616.6,351.0 617.1,353.7 617.6,356.7 618.2,359.7 618.7,362.6 619.2,365.4 619.7,368.2 620.2,371.0 620.8,373.9 621.3,376.9 621.8,380.0 622.2,383.0 622.6,386.0 623.0,389.1 623.4,392.3 624.1,395.9 625.0,400.0 626.4,404.9 628.1,410.7 630.0,416.8 631.9,422.7 633.7,427.9 635.0,432.0 636.1,434.8 637.2,436.7 638.1,438.0 638.7,438.8 638.7,439.4 638.0,440.0 636.3,440.6 633.6,440.9 630.3,441.0 627.0,440.9 624.1,440.6 622.0,440.0 620.9,439.4 620.6,438.8 620.6,438.0 620.7,436.7 620.6,434.8 620.0,432.0 618.7,427.9 617.1,422.7 615.2,416.8 613.2,410.7 611.4,404.9 610.0,400.0 608.9,395.9 608.0,392.2 607.2,388.8 606.5,385.7 605.9,382.8 605.4,380.0 605.0,377.4 604.7,375.2 604.5,373.1 604.3,371.1 604.1,369.2 603.8,367.3 603.4,365.3 603.0,363.4 602.5,361.6 602.0,359.8 601.4,358.0 600.7,356.3 599.9,354.6 599.0,352.8 597.9,351.2 596.8,349.6 595.7,348.2 594.4,347.0 593.0,346.0 591.5,345.2 589.9,344.6 588.2,344.2 586.6,343.9 585.0,343.8 583.3,344.0 581.5,344.5 579.7,345.2 578.0,345.9 576.6,346.6 575.6,347.0 Z" fill="#F8B5B8"/>
<g clip-path="url(#cC2)" fill="none" stroke="#E77F85" stroke-width="1.15">
<path d="M604.7,350.5 L605.0,351.6 605.2,352.8 605.5,353.9 605.8,355.0 606.1,356.2 606.3,357.3 606.6,358.5 606.9,359.6 607.1,360.7 607.4,361.9 607.7,363.0 607.9,364.2 608.1,365.3 608.4,366.4 608.6,367.6 608.8,368.8 608.9,369.9 609.1,371.1 609.2,372.2 609.3,373.4 609.5,374.6 609.6,375.7 609.8,376.9 610.0,378.0 610.2,379.2 610.4,380.3 610.6,381.5 610.8,382.6 611.0,383.8 611.2,384.9 611.5,386.1 611.7,387.2 611.9,388.4 612.1,389.5 612.3,390.7 612.6,391.8 612.8,393.0 613.1,394.1 613.3,395.2 613.6,396.4 613.9,397.5 614.2,398.6 614.5,399.8 614.8,400.9 615.1,402.0 615.4,403.1 615.7,404.3 616.1,405.4 616.4,406.5 616.7,407.6 617.1,408.7 617.4,409.9 617.8,411.0 618.1,412.1 618.5,413.2 618.8,414.3 619.2,415.4 619.6,416.6 619.9,417.7 620.3,418.8 620.6,419.9 621.0,421.0 621.3,422.1 621.7,423.2 622.1,424.3 622.4,425.5 622.8,426.6 623.1,427.7 623.5,428.8 623.8,429.9 624.2,431.0 624.5,432.1 624.9,433.3 625.2,434.4 625.6,435.5 625.9,436.6 626.2,437.8 626.5,438.9 626.8,440.0"/>
<path d="M608.6,349.2 L608.8,350.4 609.1,351.6 609.4,352.7 609.6,353.9 609.9,355.0 610.2,356.2 610.4,357.3 610.7,358.5 610.9,359.7 611.2,360.8 611.4,362.0 611.7,363.1 611.9,364.3 612.1,365.5 612.3,366.6 612.5,367.8 612.7,369.0 612.9,370.1 613.0,371.3 613.2,372.5 613.4,373.7 613.6,374.8 613.7,376.0 613.9,377.2 614.1,378.3 614.3,379.5 614.6,380.7 614.8,381.8 615.0,383.0 615.2,384.2 615.4,385.3 615.5,386.5 615.7,387.7 615.9,388.8 616.1,390.0 616.3,391.2 616.5,392.3 616.8,393.5 617.0,394.7 617.3,395.8 617.5,397.0 617.8,398.1 618.1,399.3 618.4,400.4 618.7,401.6 619.0,402.7 619.3,403.9 619.7,405.0 620.0,406.1 620.4,407.3 620.7,408.4 621.1,409.5 621.4,410.7 621.8,411.8 622.1,412.9 622.5,414.1 622.8,415.2 623.2,416.3 623.6,417.4 623.9,418.6 624.3,419.7 624.6,420.8 625.0,422.0 625.4,423.1 625.7,424.2 626.1,425.3 626.5,426.5 626.8,427.6 627.2,428.7 627.6,429.9 627.9,431.0 628.3,432.1 628.6,433.2 629.0,434.4 629.4,435.5 629.7,436.6 630.1,437.8 630.4,438.9 630.8,440.0"/>
<path d="M612.2,348.1 L612.4,349.3 612.7,350.4 612.9,351.6 613.2,352.8 613.4,354.0 613.7,355.1 613.9,356.3 614.2,357.5 614.4,358.7 614.7,359.8 614.9,361.0 615.1,362.2 615.4,363.4 615.6,364.5 615.8,365.7 616.0,366.9 616.2,368.1 616.4,369.3 616.6,370.5 616.8,371.6 617.0,372.8 617.2,374.0 617.4,375.2 617.6,376.4 617.8,377.6 618.0,378.7 618.2,379.9 618.4,381.1 618.6,382.3 618.8,383.5 618.9,384.7 619.1,385.9 619.3,387.0 619.4,388.2 619.6,389.4 619.8,390.6 620.0,391.8 620.2,393.0 620.4,394.1 620.6,395.3 620.9,396.5 621.1,397.7 621.4,398.8 621.7,400.0 622.0,401.2 622.3,402.3 622.7,403.5 623.0,404.6 623.3,405.8 623.7,406.9 624.0,408.1 624.4,409.2 624.7,410.4 625.1,411.5 625.4,412.7 625.8,413.8 626.2,415.0 626.5,416.1 626.9,417.2 627.3,418.4 627.6,419.5 628.0,420.7 628.4,421.8 628.8,422.9 629.1,424.1 629.5,425.2 629.9,426.4 630.2,427.5 630.6,428.7 631.0,429.8 631.4,430.9 631.7,432.1 632.1,433.2 632.5,434.4 632.8,435.5 633.2,436.6 633.6,437.8 634.1,438.9 634.5,440.0"/>
</g>
<path d="M567.0,347.7 L567.9,347.4 569.3,347.0 570.8,346.5 572.5,345.9 574.1,345.3 575.6,344.6 577.0,343.8 578.4,342.8 579.7,341.8 581.1,340.8 582.3,339.8 583.5,339.1 584.5,338.5 585.5,338.1 586.3,337.7 587.1,337.4 588.0,337.2 589.0,337.1 590.1,337.1 591.3,337.1 592.6,337.3 593.8,337.5 594.9,337.9 596.0,338.3 596.9,338.8 597.8,339.4 598.5,340.1 599.3,340.9 600.0,341.9 600.7,343.0 601.4,344.5 602.2,346.3 602.9,348.2 603.6,350.2 604.1,351.9 604.6,353.2 604.9,354.2 605.0,354.9 605.0,355.5 605.1,355.8 605.2,355.8 605.4,355.6 605.8,354.9 606.2,353.7 606.7,352.3 607.3,350.8 607.9,349.5 608.5,348.5 609.2,347.9 610.0,347.5 610.9,347.3 611.7,347.2 612.5,347.1 613.2,347.0 613.7,346.7 614.1,346.3 614.5,345.9 614.8,345.8 615.2,346.1 615.6,347.0 616.1,348.7 616.6,351.0 617.1,353.7 617.6,356.7 618.2,359.7 618.7,362.6 619.2,365.4 619.7,368.2 620.2,371.0 620.8,373.9 621.3,376.9 621.8,380.0 622.2,383.0 622.6,386.0 623.0,389.1 623.4,392.3 624.1,395.9 625.0,400.0 626.4,404.9 628.1,410.7 630.0,416.8 631.9,422.7 633.7,427.9 635.0,432.0 636.1,434.8 637.2,436.7 638.1,438.0 638.7,438.8 638.7,439.4 638.0,440.0 636.3,440.6 633.6,440.9 630.3,441.0 627.0,440.9 624.1,440.6 622.0,440.0 620.9,439.4 620.6,438.8 620.6,438.0 620.7,436.7 620.6,434.8 620.0,432.0 618.7,427.9 617.1,422.7 615.2,416.8 613.2,410.7 611.4,404.9 610.0,400.0 608.9,395.9 608.0,392.2 607.2,388.8 606.5,385.7 605.9,382.8 605.4,380.0 605.0,377.4 604.7,375.2 604.5,373.1 604.3,371.1 604.1,369.2 603.8,367.3 603.4,365.3 603.0,363.4 602.5,361.6 602.0,359.8 601.4,358.0 600.7,356.3 599.9,354.6 599.0,352.8 597.9,351.2 596.8,349.6 595.7,348.2 594.4,347.0 593.0,346.0 591.5,345.2 589.9,344.6 588.2,344.2 586.6,343.9 585.0,343.8 583.3,344.0 581.5,344.5 579.7,345.2 578.0,345.9 576.6,346.6 575.6,347.0 Z" fill="none" stroke="#EC8B90" stroke-width="1"/>
</g>
<path d="M606.1,61.5 L612.8000000000001,74.7 L608.9,74.7 L608.9,108 L603.3000000000001,108 L603.3000000000001,74.7 L599.4,74.7 Z" fill="url(#arC1)"/>
<path d="M605.8,404.2 L612.5999999999999,390.2 L608.5,390.2 L608.5,356 L603.0999999999999,356 L603.0999999999999,390.2 L599.0,390.2 Z" fill="url(#arC2)"/>
<path class="pl" d="M543.2,87.3 L591.4,122.4"/>
<path class="pl" d="M557,138 L602.9,133 M557,138 L607.6,140.4"/>
<path class="pl" d="M640.5,328.8 L589.7,323.5 M640.5,328.8 L616.3,332.6"/>

<g opacity="0.995">
<text class="h" x="158.9" y="22.8" text-anchor="middle">A</text>
<text class="h" x="381.9" y="22.8" text-anchor="middle">B</text>
<text class="h" x="613.4" y="22.8" text-anchor="middle">C</text>
<text class="t" x="14.7" y="69.2" textLength="87.6" lengthAdjust="spacingAndGlyphs">Ciliary muscle</text>
<text class="t" x="36.4" y="139.8" textLength="49.0" lengthAdjust="spacingAndGlyphs">Zonules</text>
<text class="t" x="224.2" y="79.1" textLength="88.1" lengthAdjust="spacingAndGlyphs">Ciliary muscle</text>
<text class="t" x="239.4" y="95.9" textLength="57.6" lengthAdjust="spacingAndGlyphs">contracts</text>
<text class="t" x="235.2" y="147.6" textLength="68.0" lengthAdjust="spacingAndGlyphs">All zonules</text>
<text class="t" x="225.6" y="164.4" textLength="85.9" lengthAdjust="spacingAndGlyphs">relax and curl</text>
<text class="t" x="237.9" y="217.7" textLength="62.2" lengthAdjust="spacingAndGlyphs">Tension in</text>
<text class="t" x="226.7" y="234.5" textLength="84.8" lengthAdjust="spacingAndGlyphs">lens causes it</text>
<text class="t" x="235.9" y="251" textLength="66.6" lengthAdjust="spacingAndGlyphs">to become</text>
<text class="t" x="244.4" y="267.3" textLength="49.6" lengthAdjust="spacingAndGlyphs">rounder</text>
<text class="t" x="458.4" y="79.1" textLength="87.6" lengthAdjust="spacingAndGlyphs">Ciliary muscle</text>
<text class="t" x="473.2" y="96" textLength="57.7" lengthAdjust="spacingAndGlyphs">contracts</text>
<text class="t" x="455.7" y="141.8" textLength="93.0" lengthAdjust="spacingAndGlyphs">Centre zonules</text>
<text class="t" x="461.9" y="158.6" textLength="81.3" lengthAdjust="spacingAndGlyphs">become tight</text>
<text class="t" x="457.4" y="210.1" textLength="91.9" lengthAdjust="spacingAndGlyphs">Central part of</text>
<text class="t" x="460.8" y="226.7" textLength="84.4" lengthAdjust="spacingAndGlyphs">lens becomes</text>
<text class="t" x="467.3" y="243" textLength="70.4" lengthAdjust="spacingAndGlyphs">thicker and</text>
<text class="t" x="462.6" y="259.2" textLength="81.1" lengthAdjust="spacingAndGlyphs">more steeply</text>
<text class="t" x="481.2" y="275.2" textLength="42.0" lengthAdjust="spacingAndGlyphs">curved</text>
<text class="t" x="641.8" y="315" textLength="93.1" lengthAdjust="spacingAndGlyphs">Front and back</text>
<text class="t" x="647.4" y="331.5" textLength="82.4" lengthAdjust="spacingAndGlyphs">zonules relax</text>
<text class="t" x="663.4" y="347.8" textLength="50.7" lengthAdjust="spacingAndGlyphs">and curl</text>
<text class="t" x="103.4" y="446.7" textLength="111.3" lengthAdjust="spacingAndGlyphs">Unaccommodated</text>
<text class="t" x="146.4" y="463.5" textLength="25.9" lengthAdjust="spacingAndGlyphs">lens</text>
<text class="t" x="312.4" y="446.6" textLength="125.6" lengthAdjust="spacingAndGlyphs">Accommodated lens</text>
<text class="t" x="321.4" y="463.4" textLength="107.0" lengthAdjust="spacingAndGlyphs">Helmholtz theory</text>
<text class="t" x="538.4" y="446.6" textLength="125.6" lengthAdjust="spacingAndGlyphs">Accommodated lens</text>
<text class="t" x="550.4" y="463.4" textLength="102.0" lengthAdjust="spacingAndGlyphs">Schachar theory</text>
<text class="f" x="10.6" y="501" textLength="346.7" lengthAdjust="spacingAndGlyphs">© The University of Waikato Te Whare Wānanga o Waikato | www.sciencelearn.org.nz</text>

</g>
</svg>
</body></html>
